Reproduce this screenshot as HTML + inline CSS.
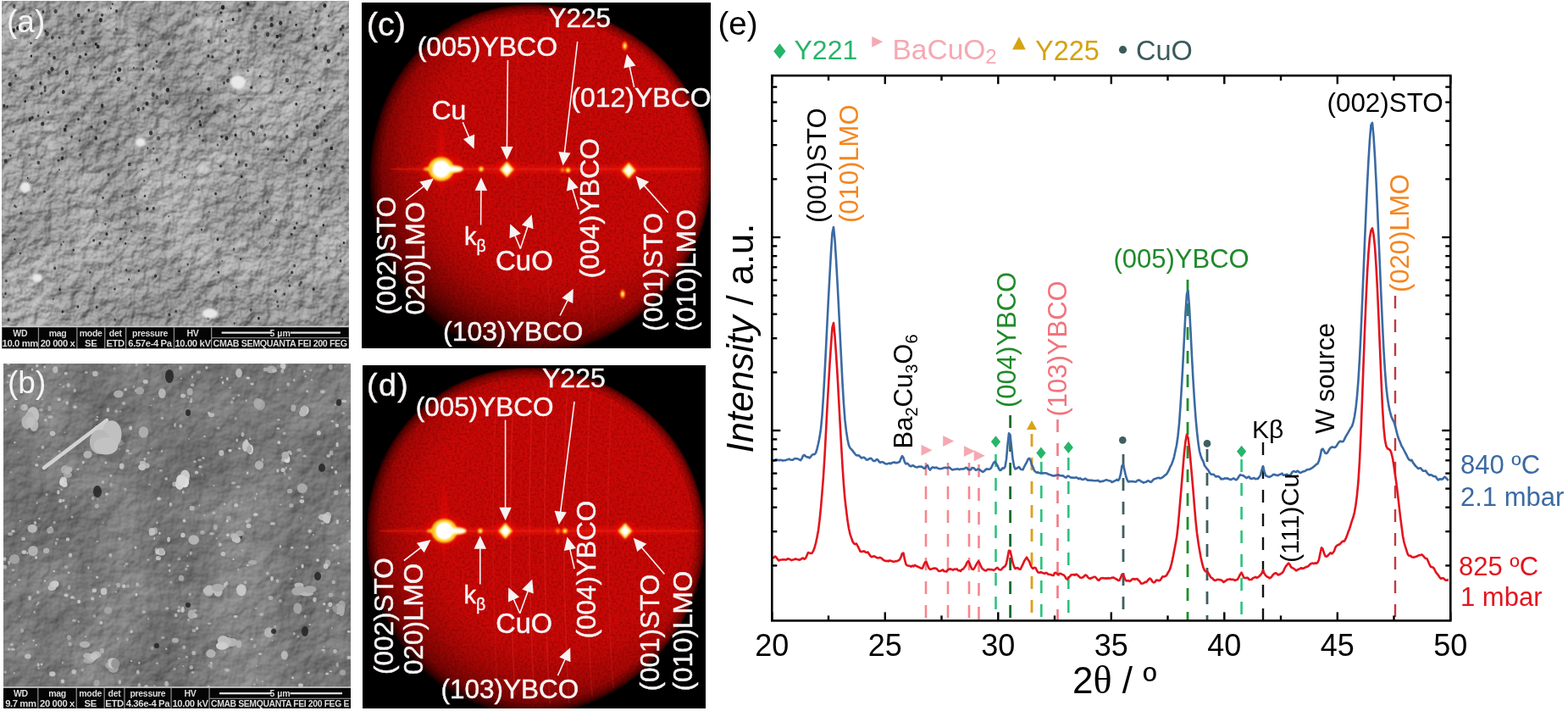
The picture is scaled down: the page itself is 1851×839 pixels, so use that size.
<!DOCTYPE html>
<html><head><meta charset="utf-8"><title>Figure</title>
<style>
html,body{margin:0;padding:0;background:#fff;width:1851px;height:839px;overflow:hidden}
svg{display:block;font-family:'Liberation Sans', Arial, Helvetica, sans-serif}
</style></head><body>
<svg width="1851" height="839" viewBox="0 0 1851 839">
<rect width="1851" height="839" fill="#fff"/>
<defs>
<clipPath id="clipA"><rect x="2" y="1" width="410" height="386"/></clipPath>
<clipPath id="clipB"><rect x="4" y="429" width="410" height="383"/></clipPath>
<filter id="blur05" x="-50%" y="-50%" width="200%" height="200%"><feGaussianBlur stdDeviation="0.6"/></filter>
<filter id="blur1" x="-50%" y="-50%" width="200%" height="200%"><feGaussianBlur stdDeviation="1.3"/></filter>
<filter id="semTexA" x="0" y="0" width="100%" height="100%" color-interpolation-filters="sRGB">
  <feTurbulence type="fractalNoise" baseFrequency="0.07" numOctaves="3" seed="4" result="n"/>
  <feDiffuseLighting in="n" surfaceScale="4.5" diffuseConstant="1" lighting-color="#ffffff" result="l"><feDistantLight azimuth="235" elevation="50"/></feDiffuseLighting>
  <feColorMatrix in="l" type="matrix" values="0.5 0 0 0 0.24  0.5 0 0 0 0.24  0.5 0 0 0 0.24  0 0 0 0 1"/>
</filter>
<filter id="semLowA" x="0" y="0" width="100%" height="100%" color-interpolation-filters="sRGB">
  <feTurbulence type="fractalNoise" baseFrequency="0.012" numOctaves="2" seed="21"/>
  <feColorMatrix type="matrix" values="2.2 0 0 0 -0.51  2.2 0 0 0 -0.51  2.2 0 0 0 -0.51  0 0 0 0 1"/>
</filter>
<filter id="semLowB" x="0" y="0" width="100%" height="100%" color-interpolation-filters="sRGB">
  <feTurbulence type="fractalNoise" baseFrequency="0.012" numOctaves="2" seed="33"/>
  <feColorMatrix type="matrix" values="2.2 0 0 0 -0.62  2.2 0 0 0 -0.62  2.2 0 0 0 -0.62  0 0 0 0 1"/>
</filter>
<filter id="semTexB" x="0" y="0" width="100%" height="100%" color-interpolation-filters="sRGB">
  <feTurbulence type="fractalNoise" baseFrequency="0.06" numOctaves="3" seed="9" result="n"/>
  <feDiffuseLighting in="n" surfaceScale="2.5" diffuseConstant="1" lighting-color="#ffffff" result="l"><feDistantLight azimuth="235" elevation="50"/></feDiffuseLighting>
  <feColorMatrix in="l" type="matrix" values="0.4 0 0 0 0.176  0.4 0 0 0 0.176  0.4 0 0 0 0.176  0 0 0 0 1"/>
</filter>

<radialGradient id="diskGrad" cx="0.56" cy="0.44" r="0.6" fx="0.6" fy="0.4">
  <stop offset="0.000" stop-color="rgb(212,8,6)"/>
  <stop offset="0.500" stop-color="rgb(212,8,6)"/>
  <stop offset="0.600" stop-color="rgb(212,8,6)"/>
  <stop offset="0.650" stop-color="rgb(207,8,6)"/>
  <stop offset="0.700" stop-color="rgb(201,8,6)"/>
  <stop offset="0.750" stop-color="rgb(190,7,5)"/>
  <stop offset="0.800" stop-color="rgb(178,7,5)"/>
  <stop offset="0.850" stop-color="rgb(157,6,4)"/>
  <stop offset="0.900" stop-color="rgb(136,5,4)"/>
  <stop offset="0.950" stop-color="rgb(106,4,3)"/>
  <stop offset="1.000" stop-color="rgb(68,3,2)"/>
</radialGradient>
<radialGradient id="edgeFade"><stop offset="0.965" stop-color="#fff"/><stop offset="1" stop-color="#000"/></radialGradient>
<filter id="diskBlur" x="-10%" y="-10%" width="120%" height="120%"><feGaussianBlur stdDeviation="2.5"/></filter>
<filter id="blur2" x="-20%" y="-300%" width="140%" height="700%"><feGaussianBlur stdDeviation="2.5"/></filter>
<filter id="diskTex" x="0" y="0" width="100%" height="100%" color-interpolation-filters="sRGB">
  <feTurbulence type="fractalNoise" baseFrequency="0.35" numOctaves="2" seed="3"/>
  <feColorMatrix type="matrix" values="0 0 0 0 0  0 0 0 0 0  0 0 0 0 0  1.6 0 0 0 -0.62"/>
  <feComposite in2="SourceGraphic" operator="in"/>
</filter>
<radialGradient id="spotBig"><stop offset="0" stop-color="#fff"/><stop offset="0.38" stop-color="#fffbe0"/><stop offset="0.55" stop-color="#ffd040"/><stop offset="0.75" stop-color="#ff7a10" stop-opacity="0.7"/><stop offset="1" stop-color="#ff3000" stop-opacity="0"/></radialGradient>
<radialGradient id="spotMed"><stop offset="0" stop-color="#fff"/><stop offset="0.4" stop-color="#fff3c0"/><stop offset="0.6" stop-color="#ffb030"/><stop offset="0.8" stop-color="#ff5010" stop-opacity="0.6"/><stop offset="1" stop-color="#ff2000" stop-opacity="0"/></radialGradient>
<radialGradient id="spotSmall"><stop offset="0" stop-color="#fff2a0"/><stop offset="0.35" stop-color="#ffb020"/><stop offset="0.7" stop-color="#ff5000" stop-opacity="0.6"/><stop offset="1" stop-color="#ff2000" stop-opacity="0"/></radialGradient>
<radialGradient id="spotFaint"><stop offset="0" stop-color="#ff8a20"/><stop offset="0.5" stop-color="#ff5000" stop-opacity="0.6"/><stop offset="1" stop-color="#ff2000" stop-opacity="0"/></radialGradient>
<filter id="blurS" x="-50%" y="-50%" width="200%" height="200%"><feGaussianBlur stdDeviation="1.1"/></filter>
<radialGradient id="glowRed"><stop offset="0" stop-color="#ff1000" stop-opacity="0.9"/><stop offset="0.6" stop-color="#ff0800" stop-opacity="0.45"/><stop offset="1" stop-color="#ff0000" stop-opacity="0"/></radialGradient>
<radialGradient id="glowOr"><stop offset="0" stop-color="#ffb040"/><stop offset="0.5" stop-color="#ff6010" stop-opacity="0.6"/><stop offset="1" stop-color="#ff3000" stop-opacity="0"/></radialGradient>
</defs>
<g clip-path="url(#clipA)">
<rect x="2" y="1" width="410" height="411" fill="#959595"/>
<rect x="2" y="1" width="410" height="411" filter="url(#semTexA)"/>
<ellipse cx="54.7" cy="192.7" rx="5.0" ry="1.6" fill="#d8d8d8" opacity="0.30" filter="url(#blur1)"/>
<ellipse cx="382.6" cy="28.0" rx="2.6" ry="4.8" fill="#d8d8d8" opacity="0.47" filter="url(#blur1)"/>
<ellipse cx="153.3" cy="197.4" rx="5.3" ry="2.5" fill="#d8d8d8" opacity="0.30" filter="url(#blur1)"/>
<ellipse cx="325.1" cy="258.4" rx="4.6" ry="4.4" fill="#d8d8d8" opacity="0.44" filter="url(#blur1)"/>
<ellipse cx="404.2" cy="79.5" rx="4.8" ry="3.2" fill="#d8d8d8" opacity="0.37" filter="url(#blur1)"/>
<ellipse cx="244.6" cy="91.4" rx="6.0" ry="4.5" fill="#d8d8d8" opacity="0.30" filter="url(#blur1)"/>
<ellipse cx="193.5" cy="107.4" rx="2.4" ry="4.6" fill="#d8d8d8" opacity="0.40" filter="url(#blur1)"/>
<ellipse cx="62.6" cy="259.6" rx="3.0" ry="4.7" fill="#d8d8d8" opacity="0.33" filter="url(#blur1)"/>
<ellipse cx="15.6" cy="78.1" rx="3.7" ry="3.1" fill="#d8d8d8" opacity="0.57" filter="url(#blur1)"/>
<ellipse cx="287.9" cy="131.3" rx="2.1" ry="2.1" fill="#d8d8d8" opacity="0.60" filter="url(#blur1)"/>
<ellipse cx="190.5" cy="266.4" rx="2.3" ry="1.6" fill="#d8d8d8" opacity="0.55" filter="url(#blur1)"/>
<ellipse cx="243.0" cy="119.5" rx="3.6" ry="1.8" fill="#d8d8d8" opacity="0.31" filter="url(#blur1)"/>
<ellipse cx="12.1" cy="323.2" rx="4.3" ry="1.9" fill="#d8d8d8" opacity="0.51" filter="url(#blur1)"/>
<ellipse cx="82.2" cy="24.8" rx="5.0" ry="4.6" fill="#d8d8d8" opacity="0.26" filter="url(#blur1)"/>
<ellipse cx="332.1" cy="74.0" rx="2.5" ry="1.6" fill="#d8d8d8" opacity="0.35" filter="url(#blur1)"/>
<ellipse cx="300.1" cy="190.4" rx="6.3" ry="2.3" fill="#d8d8d8" opacity="0.36" filter="url(#blur1)"/>
<ellipse cx="107.8" cy="376.7" rx="6.7" ry="2.7" fill="#d8d8d8" opacity="0.40" filter="url(#blur1)"/>
<ellipse cx="130.9" cy="287.7" rx="2.2" ry="1.7" fill="#d8d8d8" opacity="0.39" filter="url(#blur1)"/>
<ellipse cx="102.5" cy="325.6" rx="5.7" ry="3.4" fill="#d8d8d8" opacity="0.48" filter="url(#blur1)"/>
<ellipse cx="285.8" cy="300.9" rx="6.6" ry="2.0" fill="#d8d8d8" opacity="0.47" filter="url(#blur1)"/>
<ellipse cx="60.9" cy="171.2" rx="5.9" ry="4.6" fill="#d8d8d8" opacity="0.52" filter="url(#blur1)"/>
<ellipse cx="16.5" cy="139.0" rx="2.8" ry="5.0" fill="#d8d8d8" opacity="0.30" filter="url(#blur1)"/>
<ellipse cx="102.2" cy="138.2" rx="2.3" ry="4.5" fill="#d8d8d8" opacity="0.47" filter="url(#blur1)"/>
<ellipse cx="67.5" cy="192.3" rx="2.4" ry="3.6" fill="#d8d8d8" opacity="0.33" filter="url(#blur1)"/>
<ellipse cx="17.8" cy="45.3" rx="4.8" ry="3.7" fill="#d8d8d8" opacity="0.36" filter="url(#blur1)"/>
<ellipse cx="265.8" cy="136.2" rx="2.7" ry="2.6" fill="#d8d8d8" opacity="0.39" filter="url(#blur1)"/>
<ellipse cx="376.2" cy="45.4" rx="2.4" ry="3.5" fill="#d8d8d8" opacity="0.59" filter="url(#blur1)"/>
<ellipse cx="374.0" cy="269.9" rx="2.3" ry="4.3" fill="#d8d8d8" opacity="0.49" filter="url(#blur1)"/>
<ellipse cx="61.0" cy="179.5" rx="2.2" ry="4.3" fill="#d8d8d8" opacity="0.50" filter="url(#blur1)"/>
<ellipse cx="331.9" cy="293.0" rx="3.3" ry="4.3" fill="#d8d8d8" opacity="0.34" filter="url(#blur1)"/>
<ellipse cx="58.5" cy="150.9" rx="4.5" ry="2.5" fill="#d8d8d8" opacity="0.46" filter="url(#blur1)"/>
<ellipse cx="249.0" cy="93.1" rx="5.1" ry="2.8" fill="#d8d8d8" opacity="0.51" filter="url(#blur1)"/>
<ellipse cx="121.1" cy="307.7" rx="4.1" ry="3.4" fill="#d8d8d8" opacity="0.49" filter="url(#blur1)"/>
<ellipse cx="214.5" cy="99.9" rx="6.9" ry="1.8" fill="#d8d8d8" opacity="0.36" filter="url(#blur1)"/>
<ellipse cx="227.1" cy="12.0" rx="2.8" ry="4.3" fill="#d8d8d8" opacity="0.52" filter="url(#blur1)"/>
<ellipse cx="263.2" cy="347.3" rx="5.8" ry="2.5" fill="#d8d8d8" opacity="0.48" filter="url(#blur1)"/>
<ellipse cx="141.4" cy="288.9" rx="3.9" ry="2.0" fill="#d8d8d8" opacity="0.56" filter="url(#blur1)"/>
<ellipse cx="285.1" cy="287.0" rx="4.8" ry="4.2" fill="#d8d8d8" opacity="0.41" filter="url(#blur1)"/>
<ellipse cx="234.0" cy="25.0" rx="4.8" ry="4.4" fill="#d8d8d8" opacity="0.50" filter="url(#blur1)"/>
<ellipse cx="331.3" cy="191.5" rx="6.4" ry="1.9" fill="#d8d8d8" opacity="0.56" filter="url(#blur1)"/>
<ellipse cx="154.2" cy="35.9" rx="5.1" ry="3.1" fill="#d8d8d8" opacity="0.40" filter="url(#blur1)"/>
<ellipse cx="351.3" cy="53.9" rx="5.1" ry="2.9" fill="#d8d8d8" opacity="0.43" filter="url(#blur1)"/>
<ellipse cx="206.8" cy="52.5" rx="4.6" ry="4.5" fill="#d8d8d8" opacity="0.31" filter="url(#blur1)"/>
<ellipse cx="6.7" cy="26.9" rx="4.3" ry="4.9" fill="#d8d8d8" opacity="0.27" filter="url(#blur1)"/>
<ellipse cx="408.3" cy="206.8" rx="2.6" ry="3.0" fill="#d8d8d8" opacity="0.32" filter="url(#blur1)"/>
<ellipse cx="294.8" cy="208.9" rx="3.4" ry="2.4" fill="#d8d8d8" opacity="0.55" filter="url(#blur1)"/>
<ellipse cx="316.2" cy="168.5" rx="4.0" ry="4.1" fill="#d8d8d8" opacity="0.59" filter="url(#blur1)"/>
<ellipse cx="34.6" cy="62.1" rx="3.8" ry="3.3" fill="#d8d8d8" opacity="0.27" filter="url(#blur1)"/>
<ellipse cx="23.9" cy="85.3" rx="3.9" ry="4.1" fill="#d8d8d8" opacity="0.46" filter="url(#blur1)"/>
<ellipse cx="14.0" cy="18.3" rx="4.3" ry="4.6" fill="#d8d8d8" opacity="0.57" filter="url(#blur1)"/>
<ellipse cx="151.7" cy="341.8" rx="6.6" ry="2.9" fill="#d8d8d8" opacity="0.51" filter="url(#blur1)"/>
<ellipse cx="151.8" cy="60.0" rx="4.9" ry="1.8" fill="#d8d8d8" opacity="0.48" filter="url(#blur1)"/>
<ellipse cx="333.8" cy="352.5" rx="4.2" ry="1.9" fill="#d8d8d8" opacity="0.57" filter="url(#blur1)"/>
<ellipse cx="358.9" cy="372.6" rx="5.0" ry="3.9" fill="#d8d8d8" opacity="0.38" filter="url(#blur1)"/>
<ellipse cx="77.1" cy="113.0" rx="5.6" ry="2.6" fill="#d8d8d8" opacity="0.49" filter="url(#blur1)"/>
<ellipse cx="207.9" cy="173.4" rx="6.8" ry="2.1" fill="#d8d8d8" opacity="0.42" filter="url(#blur1)"/>
<ellipse cx="67.5" cy="361.0" rx="4.4" ry="2.7" fill="#d8d8d8" opacity="0.31" filter="url(#blur1)"/>
<ellipse cx="245.6" cy="154.2" rx="2.6" ry="1.6" fill="#d8d8d8" opacity="0.39" filter="url(#blur1)"/>
<ellipse cx="241.1" cy="200.2" rx="6.5" ry="4.7" fill="#d8d8d8" opacity="0.58" filter="url(#blur1)"/>
<ellipse cx="329.9" cy="184.4" rx="4.6" ry="2.9" fill="#d8d8d8" opacity="0.39" filter="url(#blur1)"/>
<ellipse cx="19.0" cy="307.7" rx="3.2" ry="1.6" fill="#d8d8d8" opacity="0.41" filter="url(#blur1)"/>
<ellipse cx="296.3" cy="168.4" rx="3.8" ry="3.8" fill="#d8d8d8" opacity="0.31" filter="url(#blur1)"/>
<ellipse cx="6.6" cy="228.5" rx="4.7" ry="4.5" fill="#d8d8d8" opacity="0.40" filter="url(#blur1)"/>
<ellipse cx="324.3" cy="7.9" rx="2.1" ry="3.6" fill="#d8d8d8" opacity="0.33" filter="url(#blur1)"/>
<ellipse cx="29.6" cy="50.1" rx="3.9" ry="2.7" fill="#d8d8d8" opacity="0.45" filter="url(#blur1)"/>
<ellipse cx="365.9" cy="141.4" rx="2.9" ry="3.5" fill="#d8d8d8" opacity="0.25" filter="url(#blur1)"/>
<ellipse cx="159.8" cy="122.8" rx="3.9" ry="1.7" fill="#d8d8d8" opacity="0.44" filter="url(#blur1)"/>
<ellipse cx="257.9" cy="288.8" rx="6.8" ry="2.7" fill="#d8d8d8" opacity="0.48" filter="url(#blur1)"/>
<ellipse cx="183.2" cy="83.6" rx="6.4" ry="4.1" fill="#d8d8d8" opacity="0.58" filter="url(#blur1)"/>
<ellipse cx="338.8" cy="353.3" rx="2.6" ry="1.6" fill="#d8d8d8" opacity="0.32" filter="url(#blur1)"/>
<rect x="2" y="1" width="410" height="411" filter="url(#semLowA)" opacity="0.13"/>
<ellipse cx="171.3" cy="280.8" rx="1.2" ry="1.5" fill="#1a1a1a" opacity="0.87"/>
<ellipse cx="32.7" cy="209.9" rx="0.9" ry="1.2" fill="#1a1a1a" opacity="0.85"/>
<ellipse cx="281.3" cy="61.3" rx="2.0" ry="2.5" fill="#1a1a1a" opacity="0.70"/>
<ellipse cx="16.7" cy="7.2" rx="1.9" ry="2.5" fill="#1a1a1a" opacity="0.64"/>
<ellipse cx="399.4" cy="63.6" rx="1.7" ry="2.1" fill="#1a1a1a" opacity="0.71"/>
<ellipse cx="158.0" cy="80.0" rx="1.0" ry="1.3" fill="#1a1a1a" opacity="0.68"/>
<ellipse cx="373.2" cy="56.6" rx="1.8" ry="2.3" fill="#1a1a1a" opacity="0.91"/>
<ellipse cx="124.1" cy="144.5" rx="1.9" ry="2.4" fill="#1a1a1a" opacity="0.81"/>
<ellipse cx="76.7" cy="153.1" rx="1.8" ry="2.3" fill="#1a1a1a" opacity="0.91"/>
<ellipse cx="320.6" cy="29.4" rx="2.0" ry="2.6" fill="#1a1a1a" opacity="0.84"/>
<ellipse cx="238.0" cy="271.1" rx="1.0" ry="1.3" fill="#1a1a1a" opacity="0.80"/>
<ellipse cx="200.0" cy="371.4" rx="1.5" ry="1.9" fill="#1a1a1a" opacity="0.74"/>
<ellipse cx="155.2" cy="272.8" rx="1.4" ry="1.8" fill="#1a1a1a" opacity="0.63"/>
<ellipse cx="187.1" cy="163.1" rx="2.0" ry="2.6" fill="#1a1a1a" opacity="0.65"/>
<ellipse cx="254.6" cy="228.6" rx="1.5" ry="1.9" fill="#1a1a1a" opacity="0.79"/>
<ellipse cx="394.5" cy="106.9" rx="1.4" ry="1.7" fill="#1a1a1a" opacity="0.82"/>
<ellipse cx="250.9" cy="67.3" rx="1.6" ry="2.0" fill="#1a1a1a" opacity="0.73"/>
<ellipse cx="365.7" cy="97.1" rx="1.3" ry="1.7" fill="#1a1a1a" opacity="0.69"/>
<ellipse cx="391.3" cy="174.9" rx="1.7" ry="2.2" fill="#1a1a1a" opacity="0.94"/>
<ellipse cx="70.6" cy="341.6" rx="1.2" ry="1.6" fill="#1a1a1a" opacity="0.85"/>
<ellipse cx="297.3" cy="128.6" rx="1.3" ry="1.6" fill="#1a1a1a" opacity="0.61"/>
<ellipse cx="278.7" cy="182.3" rx="1.3" ry="1.7" fill="#1a1a1a" opacity="0.89"/>
<ellipse cx="404.4" cy="376.5" rx="0.9" ry="1.1" fill="#1a1a1a" opacity="0.66"/>
<ellipse cx="96.7" cy="25.8" rx="1.2" ry="1.5" fill="#1a1a1a" opacity="0.61"/>
<ellipse cx="382.9" cy="127.0" rx="1.5" ry="1.9" fill="#1a1a1a" opacity="0.86"/>
<ellipse cx="331.3" cy="109.0" rx="1.1" ry="1.4" fill="#1a1a1a" opacity="0.70"/>
<ellipse cx="94.4" cy="67.2" rx="1.7" ry="2.1" fill="#1a1a1a" opacity="0.72"/>
<ellipse cx="136.7" cy="203.2" rx="0.7" ry="0.9" fill="#1a1a1a" opacity="0.62"/>
<ellipse cx="355.4" cy="333.5" rx="1.6" ry="2.0" fill="#1a1a1a" opacity="0.68"/>
<ellipse cx="377.5" cy="105.7" rx="1.8" ry="2.3" fill="#1a1a1a" opacity="0.88"/>
<ellipse cx="104.7" cy="12.0" rx="1.3" ry="1.7" fill="#1a1a1a" opacity="0.94"/>
<ellipse cx="371.5" cy="158.7" rx="2.0" ry="2.6" fill="#1a1a1a" opacity="0.72"/>
<ellipse cx="402.1" cy="34.5" rx="1.6" ry="2.1" fill="#1a1a1a" opacity="0.81"/>
<ellipse cx="285.3" cy="208.5" rx="1.3" ry="1.7" fill="#1a1a1a" opacity="0.92"/>
<ellipse cx="276.1" cy="294.1" rx="1.4" ry="1.9" fill="#1a1a1a" opacity="0.65"/>
<ellipse cx="367.6" cy="176.6" rx="1.4" ry="1.7" fill="#1a1a1a" opacity="0.82"/>
<ellipse cx="347.7" cy="313.8" rx="1.6" ry="2.0" fill="#1a1a1a" opacity="0.63"/>
<ellipse cx="45.4" cy="192.0" rx="1.8" ry="2.3" fill="#1a1a1a" opacity="0.71"/>
<ellipse cx="47.7" cy="98.1" rx="1.5" ry="2.0" fill="#1a1a1a" opacity="0.82"/>
<ellipse cx="114.8" cy="253.5" rx="0.8" ry="1.0" fill="#1a1a1a" opacity="0.72"/>
<ellipse cx="383.9" cy="58.0" rx="2.1" ry="2.7" fill="#1a1a1a" opacity="0.72"/>
<ellipse cx="346.3" cy="178.9" rx="1.3" ry="1.6" fill="#1a1a1a" opacity="0.66"/>
<ellipse cx="305.4" cy="375.6" rx="1.4" ry="1.8" fill="#1a1a1a" opacity="0.92"/>
<ellipse cx="404.7" cy="31.6" rx="2.0" ry="2.5" fill="#1a1a1a" opacity="0.74"/>
<ellipse cx="130.9" cy="9.9" rx="1.0" ry="1.3" fill="#1a1a1a" opacity="0.69"/>
<ellipse cx="245.9" cy="375.2" rx="1.5" ry="1.9" fill="#1a1a1a" opacity="0.93"/>
<ellipse cx="262.4" cy="307.9" rx="0.8" ry="1.0" fill="#1a1a1a" opacity="0.62"/>
<ellipse cx="312.6" cy="159.4" rx="1.5" ry="2.0" fill="#1a1a1a" opacity="0.60"/>
<ellipse cx="232.0" cy="17.6" rx="1.3" ry="1.7" fill="#1a1a1a" opacity="0.71"/>
<ellipse cx="144.3" cy="231.4" rx="1.1" ry="1.4" fill="#1a1a1a" opacity="0.81"/>
<ellipse cx="388.2" cy="18.7" rx="1.2" ry="1.6" fill="#1a1a1a" opacity="0.68"/>
<ellipse cx="70.1" cy="44.5" rx="1.3" ry="1.6" fill="#1a1a1a" opacity="0.77"/>
<ellipse cx="267.0" cy="36.3" rx="1.1" ry="1.4" fill="#1a1a1a" opacity="0.69"/>
<ellipse cx="73.4" cy="175.5" rx="1.8" ry="2.3" fill="#1a1a1a" opacity="0.67"/>
<ellipse cx="18.5" cy="89.3" rx="1.4" ry="1.8" fill="#1a1a1a" opacity="0.84"/>
<ellipse cx="38.1" cy="138.8" rx="1.7" ry="2.1" fill="#1a1a1a" opacity="0.78"/>
<ellipse cx="370.1" cy="41.7" rx="1.7" ry="2.1" fill="#1a1a1a" opacity="0.80"/>
<ellipse cx="401.9" cy="307.9" rx="1.4" ry="1.8" fill="#1a1a1a" opacity="0.84"/>
<ellipse cx="58.0" cy="63.5" rx="1.4" ry="1.8" fill="#1a1a1a" opacity="0.65"/>
<ellipse cx="7.4" cy="331.5" rx="1.4" ry="1.8" fill="#1a1a1a" opacity="0.70"/>
<ellipse cx="173.5" cy="122.2" rx="2.0" ry="2.5" fill="#1a1a1a" opacity="0.87"/>
<ellipse cx="383.1" cy="141.9" rx="1.1" ry="1.5" fill="#1a1a1a" opacity="0.79"/>
<ellipse cx="48.8" cy="110.3" rx="1.4" ry="1.8" fill="#1a1a1a" opacity="0.72"/>
<ellipse cx="292.7" cy="83.7" rx="1.1" ry="1.4" fill="#1a1a1a" opacity="0.70"/>
<ellipse cx="347.9" cy="268.9" rx="1.5" ry="1.9" fill="#1a1a1a" opacity="0.91"/>
<ellipse cx="92.5" cy="140.8" rx="1.3" ry="1.7" fill="#1a1a1a" opacity="0.93"/>
<ellipse cx="152.2" cy="329.7" rx="0.9" ry="1.2" fill="#1a1a1a" opacity="0.90"/>
<ellipse cx="137.5" cy="12.9" rx="1.5" ry="1.9" fill="#1a1a1a" opacity="0.82"/>
<ellipse cx="114.2" cy="249.7" rx="1.5" ry="1.9" fill="#1a1a1a" opacity="0.61"/>
<ellipse cx="110.6" cy="91.6" rx="1.4" ry="1.8" fill="#1a1a1a" opacity="0.74"/>
<ellipse cx="349.7" cy="122.9" rx="1.4" ry="1.8" fill="#1a1a1a" opacity="0.88"/>
<ellipse cx="207.7" cy="367.4" rx="1.3" ry="1.6" fill="#1a1a1a" opacity="0.75"/>
<ellipse cx="111.0" cy="340.2" rx="1.4" ry="1.8" fill="#1a1a1a" opacity="0.68"/>
<ellipse cx="181.3" cy="245.8" rx="1.5" ry="1.9" fill="#1a1a1a" opacity="0.79"/>
<ellipse cx="92.8" cy="18.1" rx="1.8" ry="2.3" fill="#1a1a1a" opacity="0.85"/>
<ellipse cx="15.8" cy="155.2" rx="1.2" ry="1.6" fill="#1a1a1a" opacity="0.79"/>
<ellipse cx="331.2" cy="27.2" rx="2.1" ry="2.6" fill="#1a1a1a" opacity="0.86"/>
<ellipse cx="233.4" cy="118.3" rx="1.4" ry="1.9" fill="#1a1a1a" opacity="0.64"/>
<ellipse cx="53.6" cy="36.7" rx="1.3" ry="1.6" fill="#1a1a1a" opacity="0.82"/>
<ellipse cx="239.5" cy="165.8" rx="1.1" ry="1.4" fill="#1a1a1a" opacity="0.74"/>
<ellipse cx="36.2" cy="18.6" rx="1.1" ry="1.4" fill="#1a1a1a" opacity="0.64"/>
<ellipse cx="162.3" cy="252.3" rx="1.4" ry="1.8" fill="#1a1a1a" opacity="0.68"/>
<ellipse cx="120.6" cy="17.8" rx="1.5" ry="1.9" fill="#1a1a1a" opacity="0.80"/>
<ellipse cx="338.8" cy="161.4" rx="1.7" ry="2.1" fill="#1a1a1a" opacity="0.80"/>
<ellipse cx="24.7" cy="251.5" rx="1.2" ry="1.5" fill="#1a1a1a" opacity="0.79"/>
<ellipse cx="373.5" cy="199.3" rx="1.3" ry="1.6" fill="#1a1a1a" opacity="0.83"/>
<ellipse cx="238.2" cy="127.3" rx="1.6" ry="2.1" fill="#1a1a1a" opacity="0.72"/>
<ellipse cx="264.5" cy="97.8" rx="1.5" ry="1.9" fill="#1a1a1a" opacity="0.67"/>
<ellipse cx="234.6" cy="223.8" rx="1.0" ry="1.3" fill="#1a1a1a" opacity="0.62"/>
<ellipse cx="246.4" cy="48.4" rx="1.5" ry="1.9" fill="#1a1a1a" opacity="0.76"/>
<ellipse cx="17.4" cy="242.9" rx="1.3" ry="1.6" fill="#1a1a1a" opacity="0.68"/>
<ellipse cx="245.9" cy="66.1" rx="1.5" ry="2.0" fill="#1a1a1a" opacity="0.81"/>
<ellipse cx="246.9" cy="249.9" rx="0.8" ry="1.0" fill="#1a1a1a" opacity="0.69"/>
<ellipse cx="136.6" cy="85.0" rx="1.4" ry="1.7" fill="#1a1a1a" opacity="0.63"/>
<ellipse cx="246.2" cy="105.3" rx="1.8" ry="2.3" fill="#1a1a1a" opacity="0.82"/>
<ellipse cx="68.8" cy="189.3" rx="1.1" ry="1.4" fill="#1a1a1a" opacity="0.84"/>
<ellipse cx="181.2" cy="81.0" rx="1.1" ry="1.5" fill="#1a1a1a" opacity="0.80"/>
<ellipse cx="6.5" cy="346.4" rx="1.1" ry="1.3" fill="#1a1a1a" opacity="0.79"/>
<ellipse cx="218.2" cy="209.0" rx="1.0" ry="1.3" fill="#1a1a1a" opacity="0.74"/>
<ellipse cx="323.7" cy="278.1" rx="0.7" ry="0.9" fill="#1a1a1a" opacity="0.83"/>
<ellipse cx="169.1" cy="127.9" rx="1.5" ry="1.9" fill="#1a1a1a" opacity="0.71"/>
<ellipse cx="113.3" cy="52.0" rx="1.5" ry="1.9" fill="#1a1a1a" opacity="0.93"/>
<ellipse cx="198.0" cy="106.2" rx="2.1" ry="2.6" fill="#1a1a1a" opacity="0.90"/>
<ellipse cx="279.0" cy="338.7" rx="1.3" ry="1.7" fill="#1a1a1a" opacity="0.75"/>
<ellipse cx="64.7" cy="316.4" rx="1.6" ry="2.0" fill="#1a1a1a" opacity="0.71"/>
<ellipse cx="360.0" cy="190.4" rx="2.2" ry="2.8" fill="#1a1a1a" opacity="0.62"/>
<ellipse cx="135.8" cy="377.2" rx="1.3" ry="1.7" fill="#1a1a1a" opacity="0.65"/>
<ellipse cx="6.7" cy="190.0" rx="1.9" ry="2.5" fill="#1a1a1a" opacity="0.75"/>
<ellipse cx="313.1" cy="255.6" rx="1.5" ry="1.9" fill="#1a1a1a" opacity="0.69"/>
<ellipse cx="137.5" cy="34.7" rx="1.6" ry="2.1" fill="#1a1a1a" opacity="0.61"/>
<ellipse cx="225.6" cy="151.3" rx="1.1" ry="1.5" fill="#1a1a1a" opacity="0.67"/>
<ellipse cx="113.2" cy="163.1" rx="1.9" ry="2.4" fill="#1a1a1a" opacity="0.86"/>
<ellipse cx="280.8" cy="70.8" rx="1.2" ry="1.5" fill="#1a1a1a" opacity="0.90"/>
<ellipse cx="170.1" cy="213.4" rx="1.0" ry="1.3" fill="#1a1a1a" opacity="0.64"/>
<ellipse cx="147.9" cy="263.1" rx="1.3" ry="1.7" fill="#1a1a1a" opacity="0.64"/>
<ellipse cx="160.3" cy="103.8" rx="1.3" ry="1.6" fill="#1a1a1a" opacity="0.84"/>
<ellipse cx="362.2" cy="206.6" rx="1.2" ry="1.5" fill="#1a1a1a" opacity="0.72"/>
<ellipse cx="236.6" cy="147.5" rx="1.5" ry="1.9" fill="#1a1a1a" opacity="0.93"/>
<ellipse cx="11.7" cy="99.4" rx="2.0" ry="2.5" fill="#1a1a1a" opacity="0.86"/>
<ellipse cx="77.9" cy="148.7" rx="1.5" ry="1.9" fill="#1a1a1a" opacity="0.69"/>
<ellipse cx="381.8" cy="265.7" rx="1.2" ry="1.6" fill="#1a1a1a" opacity="0.93"/>
<ellipse cx="91.9" cy="362.0" rx="1.4" ry="1.8" fill="#1a1a1a" opacity="0.84"/>
<ellipse cx="282.1" cy="118.3" rx="1.2" ry="1.6" fill="#1a1a1a" opacity="0.80"/>
<ellipse cx="277.2" cy="137.5" rx="1.5" ry="1.9" fill="#1a1a1a" opacity="0.88"/>
<ellipse cx="296.7" cy="155.3" rx="1.3" ry="1.7" fill="#1a1a1a" opacity="0.63"/>
<ellipse cx="53.2" cy="106.9" rx="1.4" ry="1.8" fill="#1a1a1a" opacity="0.67"/>
<ellipse cx="316.3" cy="176.0" rx="1.3" ry="1.6" fill="#1a1a1a" opacity="0.84"/>
<ellipse cx="149.1" cy="318.6" rx="1.3" ry="1.7" fill="#1a1a1a" opacity="0.63"/>
<ellipse cx="309.1" cy="149.6" rx="2.0" ry="2.5" fill="#1a1a1a" opacity="0.64"/>
<ellipse cx="10.2" cy="377.3" rx="1.5" ry="2.0" fill="#1a1a1a" opacity="0.75"/>
<ellipse cx="342.5" cy="14.6" rx="1.7" ry="2.1" fill="#1a1a1a" opacity="0.78"/>
<ellipse cx="338.9" cy="94.6" rx="2.1" ry="2.7" fill="#1a1a1a" opacity="0.71"/>
<ellipse cx="168.2" cy="200.0" rx="0.9" ry="1.1" fill="#1a1a1a" opacity="0.84"/>
<ellipse cx="172.2" cy="53.8" rx="1.5" ry="2.0" fill="#1a1a1a" opacity="0.80"/>
<ellipse cx="163.3" cy="128.9" rx="2.0" ry="2.5" fill="#1a1a1a" opacity="0.80"/>
<ellipse cx="159.3" cy="232.4" rx="0.8" ry="1.0" fill="#1a1a1a" opacity="0.92"/>
<ellipse cx="111.9" cy="79.3" rx="1.4" ry="1.8" fill="#1a1a1a" opacity="0.72"/>
<ellipse cx="349.6" cy="29.3" rx="1.2" ry="1.6" fill="#1a1a1a" opacity="0.93"/>
<ellipse cx="178.1" cy="156.9" rx="2.1" ry="2.7" fill="#1a1a1a" opacity="0.78"/>
<ellipse cx="334.7" cy="72.4" rx="1.7" ry="2.1" fill="#1a1a1a" opacity="0.68"/>
<ellipse cx="115.7" cy="54.9" rx="2.0" ry="2.5" fill="#1a1a1a" opacity="0.88"/>
<ellipse cx="50.3" cy="146.0" rx="2.0" ry="2.6" fill="#1a1a1a" opacity="0.80"/>
<ellipse cx="299.0" cy="157.8" rx="2.0" ry="2.5" fill="#1a1a1a" opacity="0.74"/>
<ellipse cx="99.8" cy="127.7" rx="1.7" ry="2.2" fill="#1a1a1a" opacity="0.60"/>
<ellipse cx="215.2" cy="206.3" rx="0.8" ry="1.1" fill="#1a1a1a" opacity="0.62"/>
<ellipse cx="181.2" cy="175.3" rx="1.1" ry="1.4" fill="#1a1a1a" opacity="0.67"/>
<ellipse cx="384.8" cy="54.3" rx="1.5" ry="1.9" fill="#1a1a1a" opacity="0.60"/>
<ellipse cx="120.6" cy="124.8" rx="1.7" ry="2.2" fill="#1a1a1a" opacity="0.83"/>
<ellipse cx="253.5" cy="132.6" rx="1.7" ry="2.1" fill="#1a1a1a" opacity="0.68"/>
<ellipse cx="174.3" cy="174.9" rx="1.3" ry="1.7" fill="#1a1a1a" opacity="0.66"/>
<ellipse cx="327.4" cy="356.1" rx="1.3" ry="1.7" fill="#1a1a1a" opacity="0.75"/>
<ellipse cx="197.1" cy="121.0" rx="2.1" ry="2.7" fill="#1a1a1a" opacity="0.69"/>
<ellipse cx="316.0" cy="40.7" rx="2.1" ry="2.7" fill="#1a1a1a" opacity="0.69"/>
<ellipse cx="211.5" cy="320.1" rx="1.2" ry="1.5" fill="#1a1a1a" opacity="0.85"/>
<ellipse cx="401.2" cy="234.0" rx="0.8" ry="1.1" fill="#1a1a1a" opacity="0.70"/>
<ellipse cx="62.9" cy="352.7" rx="0.8" ry="1.1" fill="#1a1a1a" opacity="0.63"/>
<ellipse cx="135.4" cy="341.2" rx="1.1" ry="1.4" fill="#1a1a1a" opacity="0.82"/>
<ellipse cx="376.5" cy="222.4" rx="1.4" ry="1.7" fill="#1a1a1a" opacity="0.87"/>
<ellipse cx="372.4" cy="33.9" rx="1.5" ry="2.0" fill="#1a1a1a" opacity="0.73"/>
<ellipse cx="163.9" cy="319.6" rx="1.3" ry="1.7" fill="#1a1a1a" opacity="0.83"/>
<ellipse cx="61.5" cy="81.2" rx="2.0" ry="2.5" fill="#1a1a1a" opacity="0.83"/>
<ellipse cx="325.3" cy="343.7" rx="1.6" ry="2.1" fill="#1a1a1a" opacity="0.85"/>
<ellipse cx="353.8" cy="335.8" rx="1.5" ry="1.9" fill="#1a1a1a" opacity="0.63"/>
<ellipse cx="18.8" cy="244.3" rx="1.0" ry="1.3" fill="#1a1a1a" opacity="0.65"/>
<ellipse cx="261.6" cy="161.2" rx="1.3" ry="1.7" fill="#1a1a1a" opacity="0.86"/>
<ellipse cx="373.7" cy="278.3" rx="1.3" ry="1.6" fill="#1a1a1a" opacity="0.90"/>
<ellipse cx="292.8" cy="4.5" rx="2.0" ry="2.6" fill="#1a1a1a" opacity="0.82"/>
<ellipse cx="29.8" cy="119.6" rx="1.3" ry="1.7" fill="#1a1a1a" opacity="0.91"/>
<ellipse cx="101.3" cy="64.2" rx="1.4" ry="1.8" fill="#1a1a1a" opacity="0.91"/>
<ellipse cx="270.8" cy="80.9" rx="1.1" ry="1.4" fill="#1a1a1a" opacity="0.85"/>
<ellipse cx="351.1" cy="102.0" rx="1.3" ry="1.6" fill="#1a1a1a" opacity="0.70"/>
<ellipse cx="307.2" cy="251.8" rx="1.2" ry="1.5" fill="#1a1a1a" opacity="0.71"/>
<ellipse cx="29.2" cy="33.8" rx="1.8" ry="2.3" fill="#1a1a1a" opacity="0.86"/>
<ellipse cx="61.8" cy="44.3" rx="1.9" ry="2.4" fill="#1a1a1a" opacity="0.70"/>
<ellipse cx="284.0" cy="305.7" rx="0.9" ry="1.2" fill="#1a1a1a" opacity="0.89"/>
<ellipse cx="148.1" cy="287.4" rx="1.1" ry="1.4" fill="#1a1a1a" opacity="0.85"/>
<ellipse cx="142.4" cy="282.0" rx="1.4" ry="1.8" fill="#1a1a1a" opacity="0.84"/>
<ellipse cx="387.8" cy="72.1" rx="2.2" ry="2.8" fill="#1a1a1a" opacity="0.78"/>
<ellipse cx="173.9" cy="246.5" rx="1.6" ry="2.0" fill="#1a1a1a" opacity="0.86"/>
<ellipse cx="267.5" cy="163.2" rx="2.1" ry="2.6" fill="#1a1a1a" opacity="0.88"/>
<ellipse cx="374.4" cy="149.8" rx="2.0" ry="2.6" fill="#1a1a1a" opacity="0.77"/>
<ellipse cx="36.5" cy="51.0" rx="1.0" ry="1.3" fill="#1a1a1a" opacity="0.93"/>
<ellipse cx="341.9" cy="337.2" rx="1.3" ry="1.7" fill="#1a1a1a" opacity="0.76"/>
<ellipse cx="53.2" cy="103.2" rx="1.7" ry="2.1" fill="#1a1a1a" opacity="0.71"/>
<ellipse cx="55.7" cy="39.8" rx="2.1" ry="2.7" fill="#1a1a1a" opacity="0.68"/>
<ellipse cx="164.0" cy="53.0" rx="1.6" ry="2.0" fill="#1a1a1a" opacity="0.79"/>
<ellipse cx="23.9" cy="298.9" rx="0.9" ry="1.1" fill="#1a1a1a" opacity="0.94"/>
<ellipse cx="72.3" cy="288.8" rx="1.0" ry="1.2" fill="#1a1a1a" opacity="0.73"/>
<ellipse cx="199.4" cy="51.9" rx="1.5" ry="1.9" fill="#1a1a1a" opacity="0.75"/>
<ellipse cx="283.2" cy="12.0" rx="2.0" ry="2.5" fill="#1a1a1a" opacity="0.62"/>
<ellipse cx="260.4" cy="196.1" rx="1.2" ry="1.5" fill="#1a1a1a" opacity="0.91"/>
<ellipse cx="56.9" cy="132.5" rx="1.2" ry="1.5" fill="#1a1a1a" opacity="0.81"/>
<ellipse cx="278.1" cy="159.5" rx="1.5" ry="1.9" fill="#1a1a1a" opacity="0.94"/>
<ellipse cx="8.6" cy="125.8" rx="1.3" ry="1.6" fill="#1a1a1a" opacity="0.74"/>
<ellipse cx="373.0" cy="13.1" rx="1.2" ry="1.5" fill="#1a1a1a" opacity="0.79"/>
<ellipse cx="318.6" cy="286.8" rx="0.9" ry="1.2" fill="#1a1a1a" opacity="0.64"/>
<ellipse cx="94.6" cy="182.7" rx="1.5" ry="1.9" fill="#1a1a1a" opacity="0.64"/>
<ellipse cx="263.1" cy="8.8" rx="2.1" ry="2.7" fill="#1a1a1a" opacity="0.93"/>
<ellipse cx="110.6" cy="283.8" rx="1.3" ry="1.7" fill="#1a1a1a" opacity="0.83"/>
<ellipse cx="301.1" cy="32.0" rx="1.9" ry="2.5" fill="#1a1a1a" opacity="0.75"/>
<ellipse cx="183.5" cy="325.7" rx="1.6" ry="2.1" fill="#1a1a1a" opacity="0.74"/>
<ellipse cx="261.8" cy="25.3" rx="1.3" ry="1.6" fill="#1a1a1a" opacity="0.70"/>
<ellipse cx="185.2" cy="188.4" rx="1.5" ry="1.9" fill="#1a1a1a" opacity="0.73"/>
<ellipse cx="370.2" cy="341.2" rx="1.5" ry="2.0" fill="#1a1a1a" opacity="0.86"/>
<ellipse cx="128.1" cy="205.9" rx="1.5" ry="2.0" fill="#1a1a1a" opacity="0.75"/>
<ellipse cx="141.1" cy="82.2" rx="2.0" ry="2.6" fill="#1a1a1a" opacity="0.88"/>
<ellipse cx="307.1" cy="90.1" rx="1.1" ry="1.4" fill="#1a1a1a" opacity="0.86"/>
<ellipse cx="21.1" cy="32.9" rx="2.0" ry="2.5" fill="#1a1a1a" opacity="0.92"/>
<ellipse cx="121.5" cy="233.4" rx="1.4" ry="1.7" fill="#1a1a1a" opacity="0.69"/>
<ellipse cx="184.9" cy="72.5" rx="1.2" ry="1.6" fill="#1a1a1a" opacity="0.81"/>
<ellipse cx="326.3" cy="259.7" rx="1.0" ry="1.2" fill="#1a1a1a" opacity="0.63"/>
<ellipse cx="87.1" cy="52.4" rx="1.8" ry="2.4" fill="#1a1a1a" opacity="0.64"/>
<ellipse cx="266.4" cy="48.3" rx="1.6" ry="2.0" fill="#1a1a1a" opacity="0.75"/>
<ellipse cx="185.4" cy="114.8" rx="2.0" ry="2.6" fill="#1a1a1a" opacity="0.60"/>
<ellipse cx="36.9" cy="66.1" rx="1.3" ry="1.6" fill="#1a1a1a" opacity="0.95"/>
<ellipse cx="129.1" cy="313.3" rx="0.7" ry="1.0" fill="#1a1a1a" opacity="0.69"/>
<ellipse cx="34.7" cy="182.8" rx="1.1" ry="1.3" fill="#1a1a1a" opacity="0.61"/>
<ellipse cx="15.9" cy="35.9" rx="2.1" ry="2.7" fill="#1a1a1a" opacity="0.87"/>
<ellipse cx="385.3" cy="165.6" rx="1.8" ry="2.3" fill="#1a1a1a" opacity="0.70"/>
<ellipse cx="269.0" cy="94.9" rx="2.0" ry="2.5" fill="#1a1a1a" opacity="0.68"/>
<ellipse cx="75.0" cy="285.3" rx="0.9" ry="1.1" fill="#1a1a1a" opacity="0.71"/>
<ellipse cx="117.9" cy="287.0" rx="1.5" ry="2.0" fill="#1a1a1a" opacity="0.76"/>
<ellipse cx="385.4" cy="304.3" rx="1.4" ry="1.8" fill="#1a1a1a" opacity="0.70"/>
<ellipse cx="50.9" cy="13.9" rx="1.5" ry="2.0" fill="#1a1a1a" opacity="0.82"/>
<ellipse cx="315.6" cy="238.1" rx="1.5" ry="1.9" fill="#1a1a1a" opacity="0.77"/>
<ellipse cx="256.9" cy="170.9" rx="1.3" ry="1.7" fill="#1a1a1a" opacity="0.60"/>
<ellipse cx="340.7" cy="331.4" rx="0.8" ry="1.1" fill="#1a1a1a" opacity="0.67"/>
<ellipse cx="257.9" cy="321.3" rx="1.3" ry="1.6" fill="#1a1a1a" opacity="0.83"/>
<ellipse cx="64.0" cy="68.2" rx="1.9" ry="2.4" fill="#1a1a1a" opacity="0.78"/>
<ellipse cx="296.3" cy="365.7" rx="1.5" ry="1.9" fill="#1a1a1a" opacity="0.62"/>
<ellipse cx="275.1" cy="23.0" rx="1.5" ry="2.0" fill="#1a1a1a" opacity="0.90"/>
<ellipse cx="327.3" cy="43.1" rx="1.8" ry="2.3" fill="#1a1a1a" opacity="0.94"/>
<ellipse cx="35.3" cy="140.7" rx="1.7" ry="2.2" fill="#1a1a1a" opacity="0.88"/>
<ellipse cx="84.5" cy="161.6" rx="1.4" ry="1.8" fill="#1a1a1a" opacity="0.74"/>
<ellipse cx="17.3" cy="282.3" rx="1.1" ry="1.4" fill="#1a1a1a" opacity="0.83"/>
<ellipse cx="350.3" cy="263.3" rx="1.3" ry="1.6" fill="#1a1a1a" opacity="0.74"/>
<ellipse cx="344.6" cy="321.4" rx="1.5" ry="1.9" fill="#1a1a1a" opacity="0.78"/>
<ellipse cx="235.8" cy="143.2" rx="1.3" ry="1.7" fill="#1a1a1a" opacity="0.80"/>
<ellipse cx="4.8" cy="124.9" rx="1.7" ry="2.2" fill="#1a1a1a" opacity="0.80"/>
<ellipse cx="106.3" cy="321.3" rx="1.3" ry="1.6" fill="#1a1a1a" opacity="0.73"/>
<ellipse cx="65.7" cy="13.3" rx="2.1" ry="2.6" fill="#1a1a1a" opacity="0.72"/>
<ellipse cx="118.9" cy="23.6" rx="2.0" ry="2.6" fill="#1a1a1a" opacity="0.94"/>
<ellipse cx="338.2" cy="189.3" rx="1.4" ry="1.8" fill="#1a1a1a" opacity="0.76"/>
<ellipse cx="73.6" cy="186.7" rx="1.8" ry="2.3" fill="#1a1a1a" opacity="0.79"/>
<ellipse cx="221.6" cy="312.0" rx="1.1" ry="1.4" fill="#1a1a1a" opacity="0.78"/>
<ellipse cx="45.1" cy="136.6" rx="1.3" ry="1.6" fill="#1a1a1a" opacity="0.70"/>
<ellipse cx="330.8" cy="41.7" rx="1.9" ry="2.5" fill="#1a1a1a" opacity="0.64"/>
<ellipse cx="126.0" cy="276.2" rx="1.5" ry="1.9" fill="#1a1a1a" opacity="0.87"/>
<ellipse cx="12.1" cy="183.6" rx="1.4" ry="1.7" fill="#1a1a1a" opacity="0.74"/>
<ellipse cx="383.5" cy="195.4" rx="1.7" ry="2.2" fill="#1a1a1a" opacity="0.82"/>
<ellipse cx="4.3" cy="350.6" rx="1.1" ry="1.4" fill="#1a1a1a" opacity="0.63"/>
<ellipse cx="57.6" cy="85.2" rx="1.9" ry="2.5" fill="#1a1a1a" opacity="0.62"/>
<ellipse cx="168.7" cy="81.8" rx="1.6" ry="2.1" fill="#1a1a1a" opacity="0.79"/>
<ellipse cx="86.8" cy="295.1" rx="1.0" ry="1.3" fill="#1a1a1a" opacity="0.94"/>
<ellipse cx="290.6" cy="194.9" rx="1.7" ry="2.1" fill="#1a1a1a" opacity="0.72"/>
<ellipse cx="100.4" cy="51.3" rx="1.3" ry="1.7" fill="#1a1a1a" opacity="0.72"/>
<ellipse cx="405.1" cy="41.0" rx="1.4" ry="1.8" fill="#1a1a1a" opacity="0.75"/>
<ellipse cx="37.8" cy="103.6" rx="2.1" ry="2.6" fill="#1a1a1a" opacity="0.75"/>
<ellipse cx="283.6" cy="232.8" rx="1.2" ry="1.6" fill="#1a1a1a" opacity="0.76"/>
<ellipse cx="70.0" cy="200.2" rx="0.8" ry="1.0" fill="#1a1a1a" opacity="0.91"/>
<ellipse cx="152.8" cy="194.0" rx="1.8" ry="2.3" fill="#1a1a1a" opacity="0.74"/>
<ellipse cx="344.2" cy="276.6" rx="1.4" ry="1.7" fill="#1a1a1a" opacity="0.86"/>
<ellipse cx="73.9" cy="367.8" rx="1.3" ry="1.7" fill="#1a1a1a" opacity="0.88"/>
<ellipse cx="405.9" cy="286.5" rx="1.2" ry="1.6" fill="#1a1a1a" opacity="0.87"/>
<ellipse cx="260.7" cy="14.9" rx="1.3" ry="1.7" fill="#1a1a1a" opacity="0.89"/>
<ellipse cx="94.0" cy="166.0" rx="1.1" ry="1.5" fill="#1a1a1a" opacity="0.70"/>
<ellipse cx="108.1" cy="150.0" rx="1.4" ry="1.7" fill="#1a1a1a" opacity="0.74"/>
<ellipse cx="139.2" cy="170.3" rx="1.1" ry="1.5" fill="#1a1a1a" opacity="0.70"/>
<ellipse cx="296.7" cy="103.3" rx="1.4" ry="1.8" fill="#1a1a1a" opacity="0.80"/>
<ellipse cx="132.8" cy="4.8" rx="1.0" ry="1.3" fill="#1a1a1a" opacity="0.78"/>
<ellipse cx="335.7" cy="347.2" rx="1.2" ry="1.5" fill="#1a1a1a" opacity="0.83"/>
<ellipse cx="276.6" cy="381.5" rx="1.0" ry="1.3" fill="#1a1a1a" opacity="0.76"/>
<ellipse cx="320.3" cy="22.0" rx="2.0" ry="2.6" fill="#1a1a1a" opacity="0.61"/>
<ellipse cx="366.9" cy="231.1" rx="1.4" ry="1.8" fill="#1a1a1a" opacity="0.70"/>
<ellipse cx="114.1" cy="362.4" rx="1.4" ry="1.8" fill="#1a1a1a" opacity="0.75"/>
<ellipse cx="404.3" cy="197.0" rx="1.8" ry="2.3" fill="#1a1a1a" opacity="0.62"/>
<ellipse cx="328.1" cy="361.4" rx="1.3" ry="1.6" fill="#1a1a1a" opacity="0.61"/>
<ellipse cx="356.2" cy="41.9" rx="1.2" ry="1.6" fill="#1a1a1a" opacity="0.67"/>
<ellipse cx="335.2" cy="184.8" rx="1.0" ry="1.3" fill="#1a1a1a" opacity="0.85"/>
<ellipse cx="97.6" cy="38.1" rx="2.0" ry="2.6" fill="#1a1a1a" opacity="0.65"/>
<ellipse cx="193.5" cy="92.7" rx="1.2" ry="1.6" fill="#1a1a1a" opacity="0.70"/>
<ellipse cx="383.4" cy="6.5" rx="2.1" ry="2.6" fill="#1a1a1a" opacity="0.91"/>
<ellipse cx="282.2" cy="191.5" rx="1.5" ry="1.9" fill="#1a1a1a" opacity="0.60"/>
<ellipse cx="180.7" cy="111.6" rx="2.0" ry="2.6" fill="#1a1a1a" opacity="0.62"/>
<ellipse cx="350.8" cy="148.0" rx="1.5" ry="1.9" fill="#1a1a1a" opacity="0.70"/>
<ellipse cx="140.3" cy="92.8" rx="1.7" ry="2.2" fill="#1a1a1a" opacity="0.89"/>
<ellipse cx="74.8" cy="108.4" rx="1.9" ry="2.5" fill="#1a1a1a" opacity="0.85"/>
<ellipse cx="257.0" cy="282.6" rx="1.4" ry="1.8" fill="#1a1a1a" opacity="0.89"/>
<ellipse cx="233.9" cy="87.4" rx="1.3" ry="1.7" fill="#1a1a1a" opacity="0.67"/>
<ellipse cx="124.5" cy="264.3" rx="1.1" ry="1.4" fill="#1a1a1a" opacity="0.73"/>
<ellipse cx="78.9" cy="85.5" rx="2.1" ry="2.7" fill="#1a1a1a" opacity="0.82"/>
<ellipse cx="401.1" cy="290.3" rx="0.7" ry="0.9" fill="#1a1a1a" opacity="0.67"/>
<ellipse cx="52.5" cy="226.1" rx="1.3" ry="1.7" fill="#1a1a1a" opacity="0.71"/>
<ellipse cx="199.1" cy="255.3" rx="0.9" ry="1.1" fill="#1a1a1a" opacity="0.70"/>
<ellipse cx="387.1" cy="59.9" rx="1.2" ry="1.5" fill="#1a1a1a" opacity="0.62"/>
<ellipse cx="139.6" cy="93.5" rx="1.9" ry="2.5" fill="#1a1a1a" opacity="0.95"/>
<ellipse cx="235.5" cy="160.4" rx="1.1" ry="1.4" fill="#1a1a1a" opacity="0.87"/>
<ellipse cx="362.0" cy="219.0" rx="1.2" ry="1.6" fill="#1a1a1a" opacity="0.88"/>
<ellipse cx="171.1" cy="231.2" rx="1.2" ry="1.5" fill="#1a1a1a" opacity="0.80"/>
<ellipse cx="324.0" cy="54.1" rx="1.8" ry="2.3" fill="#1a1a1a" opacity="0.64"/>
<ellipse cx="281" cy="97" rx="9" ry="8" fill="#e8e8e8" filter="url(#blur1)"/>
<ellipse cx="30" cy="221" rx="6" ry="6.5" fill="#e8e8e8" filter="url(#blur1)"/>
<ellipse cx="166" cy="168" rx="6" ry="5" fill="#e8e8e8" filter="url(#blur1)"/>
<ellipse cx="248" cy="370" rx="9" ry="6" fill="#e8e8e8" filter="url(#blur1)"/>
<ellipse cx="44" cy="328" rx="6" ry="5" fill="#e8e8e8" filter="url(#blur1)"/>
</g>
<rect x="2.3" y="384.7" width="409.5" height="1.6" fill="#d0d0d0"/>
<rect x="2.3" y="386.3" width="409.5" height="25" fill="#050505"/>
<text x="23.8" y="396.6" font-size="10.5" fill="#dcdcdc" text-anchor="middle" font-weight="bold" letter-spacing="-0.3">WD</text>
<text x="23.8" y="408.8" font-size="11.3" fill="#dcdcdc" text-anchor="middle" font-weight="bold" letter-spacing="-0.4">10.0 mm</text>
<text x="68.1" y="396.6" font-size="10.5" fill="#dcdcdc" text-anchor="middle" font-weight="bold" letter-spacing="-0.3">mag</text>
<text x="68.1" y="408.8" font-size="11.3" fill="#dcdcdc" text-anchor="middle" font-weight="bold" letter-spacing="-0.4">20 000 x</text>
<text x="107.2" y="396.6" font-size="10.5" fill="#dcdcdc" text-anchor="middle" font-weight="bold" letter-spacing="-0.3">mode</text>
<text x="107.2" y="408.8" font-size="11.3" fill="#dcdcdc" text-anchor="middle" font-weight="bold" letter-spacing="-0.4">SE</text>
<text x="136.2" y="396.6" font-size="10.5" fill="#dcdcdc" text-anchor="middle" font-weight="bold" letter-spacing="-0.3">det</text>
<text x="136.2" y="408.8" font-size="11.3" fill="#dcdcdc" text-anchor="middle" font-weight="bold" letter-spacing="-0.4">ETD</text>
<text x="177.0" y="396.6" font-size="10.5" fill="#dcdcdc" text-anchor="middle" font-weight="bold" letter-spacing="-0.3">pressure</text>
<text x="177.0" y="408.8" font-size="11.3" fill="#dcdcdc" text-anchor="middle" font-weight="bold" letter-spacing="-0.4">6.57e-4 Pa</text>
<text x="227.5" y="396.6" font-size="10.5" fill="#dcdcdc" text-anchor="middle" font-weight="bold" letter-spacing="-0.3">HV</text>
<text x="227.5" y="408.8" font-size="11.3" fill="#dcdcdc" text-anchor="middle" font-weight="bold" letter-spacing="-0.4">10.00 kV</text>
<rect x="44.8" y="386.3" width="1.3" height="25" fill="#8a8a8a"/>
<rect x="90.2" y="386.3" width="1.3" height="25" fill="#8a8a8a"/>
<rect x="123.1" y="386.3" width="1.3" height="25" fill="#8a8a8a"/>
<rect x="148.0" y="386.3" width="1.3" height="25" fill="#8a8a8a"/>
<rect x="204.8" y="386.3" width="1.3" height="25" fill="#8a8a8a"/>
<rect x="249.0" y="386.3" width="1.3" height="25" fill="#8a8a8a"/>
<rect x="249.6" y="398.1" width="162.20000000000002" height="1.2" fill="#8a8a8a"/>
<rect x="261.6" y="391.5" width="59.1" height="2.2" fill="#e6e6e6"/>
<rect x="342.7" y="391.5" width="59.1" height="2.2" fill="#e6e6e6"/>
<text x="330.7" y="396.6" font-size="10.5" fill="#dcdcdc" text-anchor="middle" font-weight="bold">5 µm</text>
<text x="251.6" y="408.8" font-size="11.3" fill="#dcdcdc" font-weight="bold" letter-spacing="-0.4" textLength="158.2" lengthAdjust="spacingAndGlyphs">CMAB SEMQUANTA FEI 200 FEG</text>
<text x="8" y="37.5" font-size="37" fill="#f4f4f4">(a)</text>
<g clip-path="url(#clipB)">
<rect x="4" y="429" width="410" height="407" fill="#7c7c7c"/>
<rect x="4" y="429" width="410" height="407" filter="url(#semTexB)"/>
<rect x="4" y="429" width="410" height="407" filter="url(#semLowB)" opacity="0.1"/>
<ellipse cx="154.2" cy="505.1" rx="2.0" ry="2.6" fill="rgb(205,205,205)" opacity="0.85" filter="url(#blur05)"/>
<ellipse cx="347.2" cy="448.6" rx="1.4" ry="1.9" fill="rgb(182,182,182)" opacity="0.85" filter="url(#blur05)"/>
<ellipse cx="92.8" cy="733.5" rx="1.0" ry="1.3" fill="rgb(185,185,185)" opacity="0.85" filter="url(#blur05)"/>
<ellipse cx="80.8" cy="454.5" rx="1.9" ry="2.5" fill="rgb(191,191,191)" opacity="0.85" filter="url(#blur05)"/>
<ellipse cx="330.9" cy="644.9" rx="1.2" ry="1.8" fill="rgb(205,205,205)" opacity="0.85" filter="url(#blur05)"/>
<ellipse cx="301.3" cy="589.3" rx="1.3" ry="1.3" fill="rgb(169,169,169)" opacity="0.85" filter="url(#blur05)"/>
<ellipse cx="390.6" cy="702.0" rx="2.8" ry="2.6" fill="rgb(177,177,177)" opacity="0.85" filter="url(#blur05)"/>
<ellipse cx="284.9" cy="696.2" rx="5.8" ry="7.0" fill="rgb(210,210,210)" opacity="0.85" filter="url(#blur05)"/>
<ellipse cx="174.9" cy="660.6" rx="1.7" ry="1.4" fill="rgb(176,176,176)" opacity="0.85" filter="url(#blur05)"/>
<ellipse cx="130.4" cy="655.2" rx="2.0" ry="2.3" fill="rgb(187,187,187)" opacity="0.85" filter="url(#blur05)"/>
<ellipse cx="73.9" cy="804.0" rx="2.3" ry="2.4" fill="rgb(204,204,204)" opacity="0.85" filter="url(#blur05)"/>
<ellipse cx="392.0" cy="551.6" rx="1.3" ry="1.7" fill="rgb(200,200,200)" opacity="0.85" filter="url(#blur05)"/>
<ellipse cx="304.1" cy="475.9" rx="4.8" ry="6.1" fill="rgb(172,172,172)" opacity="0.85" filter="url(#blur05)"/>
<ellipse cx="127.5" cy="483.7" rx="1.8" ry="2.6" fill="rgb(194,194,194)" opacity="0.85" filter="url(#blur05)"/>
<ellipse cx="139.1" cy="753.6" rx="1.3" ry="1.2" fill="rgb(184,184,184)" opacity="0.85" filter="url(#blur05)"/>
<ellipse cx="412.8" cy="638.7" rx="1.4" ry="1.3" fill="rgb(201,201,201)" opacity="0.85" filter="url(#blur05)"/>
<ellipse cx="300.5" cy="807.8" rx="1.5" ry="1.6" fill="rgb(170,170,170)" opacity="0.85" filter="url(#blur05)"/>
<ellipse cx="330.9" cy="708.9" rx="1.9" ry="2.0" fill="rgb(176,176,176)" opacity="0.85" filter="url(#blur05)"/>
<ellipse cx="286.1" cy="649.7" rx="1.3" ry="0.9" fill="rgb(188,188,188)" opacity="0.85" filter="url(#blur05)"/>
<ellipse cx="278.3" cy="493.8" rx="1.3" ry="1.9" fill="rgb(171,171,171)" opacity="0.85" filter="url(#blur05)"/>
<ellipse cx="342.9" cy="553.5" rx="1.6" ry="1.7" fill="rgb(176,176,176)" opacity="0.85" filter="url(#blur05)"/>
<ellipse cx="261.7" cy="445.5" rx="1.4" ry="1.0" fill="rgb(194,194,194)" opacity="0.85" filter="url(#blur05)"/>
<ellipse cx="398.1" cy="524.5" rx="1.7" ry="2.7" fill="rgb(207,207,207)" opacity="0.85" filter="url(#blur05)"/>
<ellipse cx="59.3" cy="625.8" rx="4.1" ry="3.8" fill="rgb(171,171,171)" opacity="0.85" filter="url(#blur05)"/>
<ellipse cx="74.0" cy="781.9" rx="1.1" ry="1.3" fill="rgb(177,177,177)" opacity="0.85" filter="url(#blur05)"/>
<ellipse cx="328.0" cy="459.8" rx="1.5" ry="1.8" fill="rgb(170,170,170)" opacity="0.85" filter="url(#blur05)"/>
<ellipse cx="80.7" cy="560.1" rx="1.9" ry="2.3" fill="rgb(205,205,205)" opacity="0.85" filter="url(#blur05)"/>
<ellipse cx="222.6" cy="731.4" rx="1.6" ry="1.5" fill="rgb(176,176,176)" opacity="0.85" filter="url(#blur05)"/>
<ellipse cx="300.8" cy="762.5" rx="1.8" ry="2.4" fill="rgb(171,171,171)" opacity="0.85" filter="url(#blur05)"/>
<ellipse cx="160.0" cy="646.3" rx="1.5" ry="1.7" fill="rgb(196,196,196)" opacity="0.85" filter="url(#blur05)"/>
<ellipse cx="66.2" cy="641.1" rx="1.4" ry="2.1" fill="rgb(178,178,178)" opacity="0.85" filter="url(#blur05)"/>
<ellipse cx="23.9" cy="614.7" rx="1.2" ry="0.8" fill="rgb(197,197,197)" opacity="0.85" filter="url(#blur05)"/>
<ellipse cx="175.0" cy="730.2" rx="1.0" ry="1.2" fill="rgb(181,181,181)" opacity="0.85" filter="url(#blur05)"/>
<ellipse cx="341.7" cy="563.9" rx="2.0" ry="2.0" fill="rgb(169,169,169)" opacity="0.85" filter="url(#blur05)"/>
<ellipse cx="221.2" cy="655.8" rx="1.0" ry="1.1" fill="rgb(169,169,169)" opacity="0.85" filter="url(#blur05)"/>
<ellipse cx="327.8" cy="555.5" rx="1.4" ry="2.2" fill="rgb(207,207,207)" opacity="0.85" filter="url(#blur05)"/>
<ellipse cx="12.8" cy="557.1" rx="1.3" ry="1.2" fill="rgb(177,177,177)" opacity="0.85" filter="url(#blur05)"/>
<ellipse cx="5.4" cy="669.0" rx="2.5" ry="2.6" fill="rgb(187,187,187)" opacity="0.85" filter="url(#blur05)"/>
<ellipse cx="249.3" cy="782.7" rx="1.6" ry="1.9" fill="rgb(193,193,193)" opacity="0.85" filter="url(#blur05)"/>
<ellipse cx="308.7" cy="725.1" rx="2.7" ry="1.8" fill="rgb(185,185,185)" opacity="0.85" filter="url(#blur05)"/>
<ellipse cx="122.6" cy="697.9" rx="3.8" ry="4.2" fill="rgb(205,205,205)" opacity="0.85" filter="url(#blur05)"/>
<ellipse cx="78.1" cy="702.5" rx="2.5" ry="1.9" fill="rgb(206,206,206)" opacity="0.85" filter="url(#blur05)"/>
<ellipse cx="260.5" cy="642.2" rx="0.9" ry="1.2" fill="rgb(207,207,207)" opacity="0.85" filter="url(#blur05)"/>
<ellipse cx="39.0" cy="650.1" rx="5.9" ry="6.1" fill="rgb(189,189,189)" opacity="0.85" filter="url(#blur05)"/>
<ellipse cx="228.7" cy="770.4" rx="2.4" ry="2.5" fill="rgb(191,191,191)" opacity="0.85" filter="url(#blur05)"/>
<ellipse cx="338.9" cy="784.8" rx="0.7" ry="1.0" fill="rgb(175,175,175)" opacity="0.85" filter="url(#blur05)"/>
<ellipse cx="15.6" cy="672.8" rx="1.4" ry="1.3" fill="rgb(198,198,198)" opacity="0.85" filter="url(#blur05)"/>
<ellipse cx="147.2" cy="667.8" rx="1.0" ry="0.9" fill="rgb(190,190,190)" opacity="0.85" filter="url(#blur05)"/>
<ellipse cx="182.5" cy="809.1" rx="1.6" ry="0.9" fill="rgb(180,180,180)" opacity="0.85" filter="url(#blur05)"/>
<ellipse cx="327.5" cy="685.5" rx="1.9" ry="2.3" fill="rgb(185,185,185)" opacity="0.85" filter="url(#blur05)"/>
<ellipse cx="200.0" cy="667.1" rx="1.9" ry="1.6" fill="rgb(177,177,177)" opacity="0.85" filter="url(#blur05)"/>
<ellipse cx="50.1" cy="471.2" rx="1.2" ry="1.3" fill="rgb(169,169,169)" opacity="0.85" filter="url(#blur05)"/>
<ellipse cx="155.2" cy="745.3" rx="1.6" ry="2.0" fill="rgb(200,200,200)" opacity="0.85" filter="url(#blur05)"/>
<ellipse cx="174.5" cy="430.6" rx="1.4" ry="1.5" fill="rgb(184,184,184)" opacity="0.85" filter="url(#blur05)"/>
<ellipse cx="55.1" cy="583.4" rx="1.5" ry="1.5" fill="rgb(177,177,177)" opacity="0.85" filter="url(#blur05)"/>
<ellipse cx="217.5" cy="614.5" rx="2.0" ry="1.9" fill="rgb(208,208,208)" opacity="0.85" filter="url(#blur05)"/>
<ellipse cx="246.0" cy="810.4" rx="1.6" ry="1.4" fill="rgb(210,210,210)" opacity="0.85" filter="url(#blur05)"/>
<ellipse cx="43.8" cy="713.2" rx="1.0" ry="1.0" fill="rgb(203,203,203)" opacity="0.85" filter="url(#blur05)"/>
<ellipse cx="146.2" cy="691.7" rx="2.2" ry="2.3" fill="rgb(208,208,208)" opacity="0.85" filter="url(#blur05)"/>
<ellipse cx="45.6" cy="538.9" rx="1.3" ry="1.0" fill="rgb(202,202,202)" opacity="0.85" filter="url(#blur05)"/>
<ellipse cx="124.7" cy="589.5" rx="0.8" ry="0.9" fill="rgb(178,178,178)" opacity="0.85" filter="url(#blur05)"/>
<ellipse cx="141.0" cy="522.4" rx="4.0" ry="3.8" fill="rgb(198,198,198)" opacity="0.85" filter="url(#blur05)"/>
<ellipse cx="360.2" cy="727.3" rx="1.5" ry="1.9" fill="rgb(179,179,179)" opacity="0.85" filter="url(#blur05)"/>
<ellipse cx="197.2" cy="718.0" rx="2.2" ry="1.8" fill="rgb(184,184,184)" opacity="0.85" filter="url(#blur05)"/>
<ellipse cx="241.3" cy="608.1" rx="1.6" ry="1.6" fill="rgb(172,172,172)" opacity="0.85" filter="url(#blur05)"/>
<ellipse cx="135.1" cy="434.9" rx="1.1" ry="1.8" fill="rgb(170,170,170)" opacity="0.85" filter="url(#blur05)"/>
<ellipse cx="286.5" cy="512.8" rx="2.0" ry="2.7" fill="rgb(188,188,188)" opacity="0.85" filter="url(#blur05)"/>
<ellipse cx="307.3" cy="473.2" rx="1.9" ry="1.4" fill="rgb(192,192,192)" opacity="0.85" filter="url(#blur05)"/>
<ellipse cx="225.9" cy="470.8" rx="1.6" ry="1.3" fill="rgb(184,184,184)" opacity="0.85" filter="url(#blur05)"/>
<ellipse cx="187.6" cy="588.4" rx="2.4" ry="2.0" fill="rgb(205,205,205)" opacity="0.85" filter="url(#blur05)"/>
<ellipse cx="345.6" cy="799.8" rx="1.5" ry="1.5" fill="rgb(208,208,208)" opacity="0.85" filter="url(#blur05)"/>
<ellipse cx="215.5" cy="720.1" rx="2.3" ry="2.9" fill="rgb(200,200,200)" opacity="0.85" filter="url(#blur05)"/>
<ellipse cx="10.7" cy="686.4" rx="1.3" ry="1.1" fill="rgb(178,178,178)" opacity="0.85" filter="url(#blur05)"/>
<ellipse cx="211.0" cy="720.8" rx="2.0" ry="1.8" fill="rgb(202,202,202)" opacity="0.85" filter="url(#blur05)"/>
<ellipse cx="129.3" cy="503.4" rx="1.2" ry="0.8" fill="rgb(203,203,203)" opacity="0.85" filter="url(#blur05)"/>
<ellipse cx="227.0" cy="444.7" rx="1.4" ry="1.7" fill="rgb(193,193,193)" opacity="0.85" filter="url(#blur05)"/>
<ellipse cx="393.8" cy="687.1" rx="2.1" ry="2.4" fill="rgb(183,183,183)" opacity="0.85" filter="url(#blur05)"/>
<ellipse cx="347.1" cy="747.7" rx="1.6" ry="1.8" fill="rgb(178,178,178)" opacity="0.85" filter="url(#blur05)"/>
<ellipse cx="273.7" cy="474.6" rx="2.1" ry="2.2" fill="rgb(170,170,170)" opacity="0.85" filter="url(#blur05)"/>
<ellipse cx="164.4" cy="808.8" rx="1.9" ry="2.7" fill="rgb(183,183,183)" opacity="0.85" filter="url(#blur05)"/>
<ellipse cx="101.8" cy="439.5" rx="1.9" ry="1.3" fill="rgb(186,186,186)" opacity="0.85" filter="url(#blur05)"/>
<ellipse cx="364.3" cy="794.0" rx="1.6" ry="1.2" fill="rgb(194,194,194)" opacity="0.85" filter="url(#blur05)"/>
<ellipse cx="232.6" cy="741.4" rx="1.5" ry="2.0" fill="rgb(207,207,207)" opacity="0.85" filter="url(#blur05)"/>
<ellipse cx="82.7" cy="760.1" rx="2.1" ry="2.7" fill="rgb(176,176,176)" opacity="0.85" filter="url(#blur05)"/>
<ellipse cx="39.7" cy="755.7" rx="1.3" ry="1.2" fill="rgb(198,198,198)" opacity="0.85" filter="url(#blur05)"/>
<ellipse cx="248.6" cy="785.6" rx="2.8" ry="1.9" fill="rgb(169,169,169)" opacity="0.85" filter="url(#blur05)"/>
<ellipse cx="21.6" cy="533.9" rx="1.0" ry="0.9" fill="rgb(173,173,173)" opacity="0.85" filter="url(#blur05)"/>
<ellipse cx="216.0" cy="467.0" rx="2.9" ry="2.4" fill="rgb(201,201,201)" opacity="0.85" filter="url(#blur05)"/>
<ellipse cx="45.2" cy="784.5" rx="1.6" ry="2.3" fill="rgb(198,198,198)" opacity="0.85" filter="url(#blur05)"/>
<ellipse cx="395.5" cy="717.8" rx="3.0" ry="2.4" fill="rgb(189,189,189)" opacity="0.85" filter="url(#blur05)"/>
<ellipse cx="120.3" cy="524.9" rx="1.5" ry="1.2" fill="rgb(175,175,175)" opacity="0.85" filter="url(#blur05)"/>
<ellipse cx="77.8" cy="440.7" rx="2.1" ry="1.9" fill="rgb(196,196,196)" opacity="0.85" filter="url(#blur05)"/>
<ellipse cx="92.0" cy="553.7" rx="1.4" ry="1.1" fill="rgb(206,206,206)" opacity="0.85" filter="url(#blur05)"/>
<ellipse cx="141.0" cy="635.8" rx="2.0" ry="1.7" fill="rgb(182,182,182)" opacity="0.85" filter="url(#blur05)"/>
<ellipse cx="17.1" cy="480.0" rx="1.2" ry="1.1" fill="rgb(197,197,197)" opacity="0.85" filter="url(#blur05)"/>
<ellipse cx="53.8" cy="495.8" rx="1.7" ry="1.7" fill="rgb(199,199,199)" opacity="0.85" filter="url(#blur05)"/>
<ellipse cx="412.3" cy="775.9" rx="2.7" ry="2.1" fill="rgb(200,200,200)" opacity="0.85" filter="url(#blur05)"/>
<ellipse cx="306.9" cy="477.5" rx="6.1" ry="6.5" fill="rgb(170,170,170)" opacity="0.85" filter="url(#blur05)"/>
<ellipse cx="250.0" cy="629.7" rx="2.9" ry="1.8" fill="rgb(184,184,184)" opacity="0.85" filter="url(#blur05)"/>
<ellipse cx="263.0" cy="451.5" rx="1.3" ry="2.1" fill="rgb(202,202,202)" opacity="0.85" filter="url(#blur05)"/>
<ellipse cx="238.7" cy="560.1" rx="1.0" ry="0.8" fill="rgb(169,169,169)" opacity="0.85" filter="url(#blur05)"/>
<ellipse cx="275.8" cy="470.0" rx="1.6" ry="1.5" fill="rgb(175,175,175)" opacity="0.85" filter="url(#blur05)"/>
<ellipse cx="313.1" cy="436.0" rx="2.4" ry="2.3" fill="rgb(179,179,179)" opacity="0.85" filter="url(#blur05)"/>
<ellipse cx="15.2" cy="766.3" rx="2.6" ry="1.5" fill="rgb(194,194,194)" opacity="0.85" filter="url(#blur05)"/>
<ellipse cx="32.8" cy="774.5" rx="3.9" ry="2.9" fill="rgb(197,197,197)" opacity="0.85" filter="url(#blur05)"/>
<ellipse cx="196.2" cy="565.0" rx="1.9" ry="1.7" fill="rgb(192,192,192)" opacity="0.85" filter="url(#blur05)"/>
<ellipse cx="310.0" cy="542.4" rx="1.4" ry="2.0" fill="rgb(178,178,178)" opacity="0.85" filter="url(#blur05)"/>
<ellipse cx="80.0" cy="636.4" rx="2.3" ry="2.1" fill="rgb(202,202,202)" opacity="0.85" filter="url(#blur05)"/>
<ellipse cx="320.5" cy="436.2" rx="5.9" ry="4.4" fill="rgb(178,178,178)" opacity="0.85" filter="url(#blur05)"/>
<ellipse cx="114.8" cy="639.0" rx="1.4" ry="1.2" fill="rgb(173,173,173)" opacity="0.85" filter="url(#blur05)"/>
<ellipse cx="130.7" cy="561.3" rx="1.5" ry="1.5" fill="rgb(193,193,193)" opacity="0.85" filter="url(#blur05)"/>
<ellipse cx="188.4" cy="629.3" rx="1.4" ry="1.8" fill="rgb(198,198,198)" opacity="0.85" filter="url(#blur05)"/>
<ellipse cx="89.8" cy="586.0" rx="1.0" ry="1.5" fill="rgb(169,169,169)" opacity="0.85" filter="url(#blur05)"/>
<ellipse cx="45.5" cy="788.6" rx="1.3" ry="1.4" fill="rgb(174,174,174)" opacity="0.85" filter="url(#blur05)"/>
<ellipse cx="28.7" cy="480.8" rx="4.2" ry="3.7" fill="rgb(196,196,196)" opacity="0.85" filter="url(#blur05)"/>
<ellipse cx="254.3" cy="622.3" rx="2.3" ry="3.1" fill="rgb(182,182,182)" opacity="0.85" filter="url(#blur05)"/>
<ellipse cx="228.7" cy="637.0" rx="6.3" ry="5.8" fill="rgb(192,192,192)" opacity="0.85" filter="url(#blur05)"/>
<ellipse cx="191.1" cy="532.2" rx="0.9" ry="1.2" fill="rgb(204,204,204)" opacity="0.85" filter="url(#blur05)"/>
<ellipse cx="413.2" cy="504.0" rx="2.9" ry="2.5" fill="rgb(191,191,191)" opacity="0.85" filter="url(#blur05)"/>
<ellipse cx="114.2" cy="495.3" rx="2.1" ry="1.4" fill="rgb(170,170,170)" opacity="0.85" filter="url(#blur05)"/>
<ellipse cx="293.5" cy="620.4" rx="3.0" ry="2.7" fill="rgb(200,200,200)" opacity="0.85" filter="url(#blur05)"/>
<ellipse cx="212.7" cy="576.6" rx="1.5" ry="1.4" fill="rgb(194,194,194)" opacity="0.85" filter="url(#blur05)"/>
<ellipse cx="128.9" cy="690.8" rx="1.9" ry="1.4" fill="rgb(168,168,168)" opacity="0.85" filter="url(#blur05)"/>
<ellipse cx="407.1" cy="581.3" rx="1.0" ry="0.6" fill="rgb(172,172,172)" opacity="0.85" filter="url(#blur05)"/>
<ellipse cx="268.9" cy="631.3" rx="2.1" ry="1.9" fill="rgb(205,205,205)" opacity="0.85" filter="url(#blur05)"/>
<ellipse cx="12.0" cy="630.0" rx="3.0" ry="2.1" fill="rgb(178,178,178)" opacity="0.85" filter="url(#blur05)"/>
<ellipse cx="219.8" cy="671.6" rx="1.6" ry="1.7" fill="rgb(173,173,173)" opacity="0.85" filter="url(#blur05)"/>
<ellipse cx="297.1" cy="754.2" rx="1.6" ry="1.3" fill="rgb(205,205,205)" opacity="0.85" filter="url(#blur05)"/>
<ellipse cx="328.8" cy="495.2" rx="1.8" ry="1.2" fill="rgb(189,189,189)" opacity="0.85" filter="url(#blur05)"/>
<ellipse cx="303.4" cy="802.2" rx="1.3" ry="1.6" fill="rgb(168,168,168)" opacity="0.85" filter="url(#blur05)"/>
<ellipse cx="281.3" cy="574.5" rx="2.4" ry="1.7" fill="rgb(182,182,182)" opacity="0.85" filter="url(#blur05)"/>
<ellipse cx="249.4" cy="787.6" rx="1.0" ry="0.9" fill="rgb(192,192,192)" opacity="0.85" filter="url(#blur05)"/>
<ellipse cx="213.2" cy="502.8" rx="2.0" ry="2.1" fill="rgb(187,187,187)" opacity="0.85" filter="url(#blur05)"/>
<ellipse cx="141.9" cy="485.3" rx="1.4" ry="0.9" fill="rgb(175,175,175)" opacity="0.85" filter="url(#blur05)"/>
<ellipse cx="397.9" cy="502.0" rx="2.2" ry="2.2" fill="rgb(204,204,204)" opacity="0.85" filter="url(#blur05)"/>
<ellipse cx="111.4" cy="696.8" rx="2.7" ry="2.4" fill="rgb(205,205,205)" opacity="0.85" filter="url(#blur05)"/>
<ellipse cx="295.3" cy="518.0" rx="1.1" ry="1.2" fill="rgb(191,191,191)" opacity="0.85" filter="url(#blur05)"/>
<ellipse cx="5.5" cy="659.6" rx="1.9" ry="2.4" fill="rgb(202,202,202)" opacity="0.85" filter="url(#blur05)"/>
<ellipse cx="298.0" cy="663.7" rx="5.0" ry="2.7" fill="rgb(175,175,175)" opacity="0.85" filter="url(#blur05)"/>
<ellipse cx="17.4" cy="522.1" rx="1.2" ry="1.2" fill="rgb(196,196,196)" opacity="0.85" filter="url(#blur05)"/>
<ellipse cx="201.9" cy="687.1" rx="1.6" ry="1.7" fill="rgb(175,175,175)" opacity="0.85" filter="url(#blur05)"/>
<ellipse cx="62.1" cy="511.5" rx="3.3" ry="3.1" fill="rgb(198,198,198)" opacity="0.85" filter="url(#blur05)"/>
<ellipse cx="353.0" cy="723.7" rx="0.8" ry="1.0" fill="rgb(190,190,190)" opacity="0.85" filter="url(#blur05)"/>
<ellipse cx="271.7" cy="751.2" rx="0.8" ry="1.4" fill="rgb(187,187,187)" opacity="0.85" filter="url(#blur05)"/>
<ellipse cx="255.7" cy="635.3" rx="1.1" ry="0.9" fill="rgb(201,201,201)" opacity="0.85" filter="url(#blur05)"/>
<ellipse cx="217.4" cy="558.1" rx="1.3" ry="1.7" fill="rgb(211,211,211)" opacity="0.85" filter="url(#blur05)"/>
<ellipse cx="172.6" cy="810.6" rx="2.4" ry="2.5" fill="rgb(195,195,195)" opacity="0.85" filter="url(#blur05)"/>
<ellipse cx="114.5" cy="530.7" rx="1.1" ry="1.2" fill="rgb(168,168,168)" opacity="0.85" filter="url(#blur05)"/>
<ellipse cx="63.8" cy="673.9" rx="1.3" ry="1.1" fill="rgb(208,208,208)" opacity="0.85" filter="url(#blur05)"/>
<ellipse cx="335.8" cy="773.2" rx="4.1" ry="5.3" fill="rgb(194,194,194)" opacity="0.85" filter="url(#blur05)"/>
<ellipse cx="302.2" cy="717.7" rx="1.5" ry="1.0" fill="rgb(193,193,193)" opacity="0.85" filter="url(#blur05)"/>
<ellipse cx="213.1" cy="434.2" rx="2.0" ry="2.7" fill="rgb(185,185,185)" opacity="0.85" filter="url(#blur05)"/>
<ellipse cx="351.7" cy="751.2" rx="1.3" ry="1.0" fill="rgb(192,192,192)" opacity="0.85" filter="url(#blur05)"/>
<ellipse cx="143.6" cy="550.1" rx="2.7" ry="3.6" fill="rgb(202,202,202)" opacity="0.85" filter="url(#blur05)"/>
<ellipse cx="150.4" cy="531.9" rx="2.4" ry="1.6" fill="rgb(204,204,204)" opacity="0.85" filter="url(#blur05)"/>
<ellipse cx="88.3" cy="460.8" rx="1.7" ry="2.4" fill="rgb(180,180,180)" opacity="0.85" filter="url(#blur05)"/>
<ellipse cx="6.2" cy="793.2" rx="1.4" ry="1.6" fill="rgb(183,183,183)" opacity="0.85" filter="url(#blur05)"/>
<ellipse cx="391.8" cy="741.1" rx="0.9" ry="1.3" fill="rgb(177,177,177)" opacity="0.85" filter="url(#blur05)"/>
<ellipse cx="307.1" cy="771.5" rx="2.3" ry="1.6" fill="rgb(193,193,193)" opacity="0.85" filter="url(#blur05)"/>
<ellipse cx="341.7" cy="533.3" rx="2.4" ry="1.9" fill="rgb(190,190,190)" opacity="0.85" filter="url(#blur05)"/>
<ellipse cx="41.6" cy="616.9" rx="1.8" ry="1.9" fill="rgb(197,197,197)" opacity="0.85" filter="url(#blur05)"/>
<ellipse cx="49.0" cy="784.0" rx="1.5" ry="1.4" fill="rgb(200,200,200)" opacity="0.85" filter="url(#blur05)"/>
<ellipse cx="72.7" cy="577.7" rx="1.5" ry="1.3" fill="rgb(172,172,172)" opacity="0.85" filter="url(#blur05)"/>
<ellipse cx="118.0" cy="703.7" rx="1.2" ry="1.3" fill="rgb(190,190,190)" opacity="0.85" filter="url(#blur05)"/>
<ellipse cx="362.3" cy="645.9" rx="2.3" ry="1.8" fill="rgb(195,195,195)" opacity="0.85" filter="url(#blur05)"/>
<ellipse cx="10.9" cy="443.2" rx="2.1" ry="1.6" fill="rgb(210,210,210)" opacity="0.85" filter="url(#blur05)"/>
<ellipse cx="178.8" cy="529.1" rx="0.9" ry="0.9" fill="rgb(171,171,171)" opacity="0.85" filter="url(#blur05)"/>
<ellipse cx="170.9" cy="541.8" rx="1.7" ry="2.1" fill="rgb(194,194,194)" opacity="0.85" filter="url(#blur05)"/>
<ellipse cx="215.7" cy="718.4" rx="1.7" ry="2.8" fill="rgb(201,201,201)" opacity="0.85" filter="url(#blur05)"/>
<ellipse cx="321.0" cy="682.8" rx="1.9" ry="2.8" fill="rgb(211,211,211)" opacity="0.85" filter="url(#blur05)"/>
<ellipse cx="390.4" cy="792.3" rx="1.5" ry="1.0" fill="rgb(211,211,211)" opacity="0.85" filter="url(#blur05)"/>
<ellipse cx="114.2" cy="503.8" rx="2.3" ry="1.5" fill="rgb(176,176,176)" opacity="0.85" filter="url(#blur05)"/>
<ellipse cx="334.7" cy="434.1" rx="2.2" ry="1.9" fill="rgb(204,204,204)" opacity="0.85" filter="url(#blur05)"/>
<ellipse cx="60.2" cy="622.1" rx="1.2" ry="1.2" fill="rgb(202,202,202)" opacity="0.85" filter="url(#blur05)"/>
<ellipse cx="395.4" cy="768.5" rx="2.4" ry="2.4" fill="rgb(191,191,191)" opacity="0.85" filter="url(#blur05)"/>
<ellipse cx="292.2" cy="558.2" rx="1.3" ry="1.6" fill="rgb(210,210,210)" opacity="0.85" filter="url(#blur05)"/>
<ellipse cx="275.6" cy="660.0" rx="1.1" ry="1.2" fill="rgb(207,207,207)" opacity="0.85" filter="url(#blur05)"/>
<ellipse cx="235.3" cy="596.5" rx="0.9" ry="1.0" fill="rgb(192,192,192)" opacity="0.85" filter="url(#blur05)"/>
<ellipse cx="282.6" cy="529.2" rx="1.6" ry="1.2" fill="rgb(204,204,204)" opacity="0.85" filter="url(#blur05)"/>
<ellipse cx="232.0" cy="557.6" rx="2.3" ry="2.1" fill="rgb(200,200,200)" opacity="0.85" filter="url(#blur05)"/>
<ellipse cx="217.2" cy="763.8" rx="1.9" ry="2.3" fill="rgb(188,188,188)" opacity="0.85" filter="url(#blur05)"/>
<ellipse cx="289.7" cy="687.2" rx="1.8" ry="2.2" fill="rgb(181,181,181)" opacity="0.85" filter="url(#blur05)"/>
<ellipse cx="234.5" cy="439.1" rx="2.7" ry="1.9" fill="rgb(168,168,168)" opacity="0.85" filter="url(#blur05)"/>
<ellipse cx="230.2" cy="720.2" rx="2.4" ry="1.8" fill="rgb(178,178,178)" opacity="0.85" filter="url(#blur05)"/>
<ellipse cx="301.6" cy="587.4" rx="0.9" ry="0.7" fill="rgb(210,210,210)" opacity="0.85" filter="url(#blur05)"/>
<ellipse cx="139.5" cy="690.2" rx="2.4" ry="2.8" fill="rgb(180,180,180)" opacity="0.85" filter="url(#blur05)"/>
<ellipse cx="376.3" cy="510.9" rx="2.5" ry="2.7" fill="rgb(204,204,204)" opacity="0.85" filter="url(#blur05)"/>
<ellipse cx="292.8" cy="446.1" rx="2.4" ry="1.7" fill="rgb(208,208,208)" opacity="0.85" filter="url(#blur05)"/>
<ellipse cx="392.3" cy="497.1" rx="1.6" ry="1.4" fill="rgb(198,198,198)" opacity="0.85" filter="url(#blur05)"/>
<ellipse cx="240.0" cy="540.4" rx="1.6" ry="1.4" fill="rgb(193,193,193)" opacity="0.85" filter="url(#blur05)"/>
<ellipse cx="267.6" cy="688.5" rx="1.8" ry="2.4" fill="rgb(197,197,197)" opacity="0.85" filter="url(#blur05)"/>
<ellipse cx="185.5" cy="616.8" rx="1.0" ry="1.2" fill="rgb(206,206,206)" opacity="0.85" filter="url(#blur05)"/>
<ellipse cx="396.5" cy="557.3" rx="1.7" ry="2.2" fill="rgb(204,204,204)" opacity="0.85" filter="url(#blur05)"/>
<ellipse cx="310.0" cy="804.0" rx="1.2" ry="0.7" fill="rgb(205,205,205)" opacity="0.85" filter="url(#blur05)"/>
<ellipse cx="184.7" cy="648.9" rx="2.0" ry="2.3" fill="rgb(175,175,175)" opacity="0.85" filter="url(#blur05)"/>
<ellipse cx="386.8" cy="664.5" rx="3.1" ry="4.2" fill="rgb(174,174,174)" opacity="0.85" filter="url(#blur05)"/>
<ellipse cx="149.2" cy="665.4" rx="2.2" ry="1.7" fill="rgb(173,173,173)" opacity="0.85" filter="url(#blur05)"/>
<ellipse cx="26.2" cy="744.0" rx="1.9" ry="2.7" fill="rgb(175,175,175)" opacity="0.85" filter="url(#blur05)"/>
<ellipse cx="87.3" cy="792.7" rx="2.9" ry="2.8" fill="rgb(197,197,197)" opacity="0.85" filter="url(#blur05)"/>
<ellipse cx="103.5" cy="536.4" rx="5.2" ry="4.5" fill="rgb(188,188,188)" opacity="0.85" filter="url(#blur05)"/>
<ellipse cx="350.0" cy="670.9" rx="1.1" ry="0.8" fill="rgb(183,183,183)" opacity="0.85" filter="url(#blur05)"/>
<ellipse cx="369.8" cy="631.0" rx="0.9" ry="0.9" fill="rgb(197,197,197)" opacity="0.85" filter="url(#blur05)"/>
<ellipse cx="60.4" cy="546.1" rx="2.1" ry="1.2" fill="rgb(205,205,205)" opacity="0.85" filter="url(#blur05)"/>
<ellipse cx="398.3" cy="615.7" rx="1.9" ry="2.7" fill="rgb(200,200,200)" opacity="0.85" filter="url(#blur05)"/>
<ellipse cx="137.0" cy="698.5" rx="1.0" ry="1.0" fill="rgb(198,198,198)" opacity="0.85" filter="url(#blur05)"/>
<ellipse cx="161.0" cy="701.7" rx="1.6" ry="2.0" fill="rgb(211,211,211)" opacity="0.85" filter="url(#blur05)"/>
<ellipse cx="133.9" cy="571.8" rx="0.7" ry="0.8" fill="rgb(190,190,190)" opacity="0.85" filter="url(#blur05)"/>
<ellipse cx="23.1" cy="727.5" rx="0.8" ry="1.0" fill="rgb(186,186,186)" opacity="0.85" filter="url(#blur05)"/>
<ellipse cx="169.4" cy="509.9" rx="5.7" ry="6.7" fill="rgb(182,182,182)" opacity="0.85" filter="url(#blur05)"/>
<ellipse cx="85.5" cy="704.9" rx="2.5" ry="1.7" fill="rgb(205,205,205)" opacity="0.85" filter="url(#blur05)"/>
<ellipse cx="109.7" cy="588.0" rx="2.0" ry="2.3" fill="rgb(174,174,174)" opacity="0.85" filter="url(#blur05)"/>
<ellipse cx="52.6" cy="433.0" rx="1.4" ry="1.5" fill="rgb(204,204,204)" opacity="0.85" filter="url(#blur05)"/>
<ellipse cx="127.5" cy="720.4" rx="4.7" ry="4.1" fill="rgb(169,169,169)" opacity="0.85" filter="url(#blur05)"/>
<ellipse cx="302.9" cy="582.9" rx="1.4" ry="1.3" fill="rgb(184,184,184)" opacity="0.85" filter="url(#blur05)"/>
<ellipse cx="230.0" cy="726.5" rx="2.8" ry="2.7" fill="rgb(197,197,197)" opacity="0.85" filter="url(#blur05)"/>
<ellipse cx="387.7" cy="538.1" rx="2.5" ry="2.0" fill="rgb(190,190,190)" opacity="0.85" filter="url(#blur05)"/>
<ellipse cx="13.8" cy="760.5" rx="2.1" ry="1.8" fill="rgb(189,189,189)" opacity="0.85" filter="url(#blur05)"/>
<ellipse cx="265.5" cy="690.5" rx="1.7" ry="2.9" fill="rgb(197,197,197)" opacity="0.85" filter="url(#blur05)"/>
<ellipse cx="69.7" cy="471.4" rx="2.4" ry="2.1" fill="rgb(195,195,195)" opacity="0.85" filter="url(#blur05)"/>
<ellipse cx="161.3" cy="430.3" rx="1.7" ry="1.7" fill="rgb(180,180,180)" opacity="0.85" filter="url(#blur05)"/>
<ellipse cx="68.8" cy="580.9" rx="1.6" ry="2.7" fill="rgb(208,208,208)" opacity="0.85" filter="url(#blur05)"/>
<ellipse cx="87.4" cy="732.2" rx="2.2" ry="1.6" fill="rgb(181,181,181)" opacity="0.85" filter="url(#blur05)"/>
<ellipse cx="340.2" cy="453.5" rx="2.1" ry="2.4" fill="rgb(179,179,179)" opacity="0.85" filter="url(#blur05)"/>
<ellipse cx="162.8" cy="793.2" rx="1.9" ry="2.7" fill="rgb(192,192,192)" opacity="0.85" filter="url(#blur05)"/>
<ellipse cx="261.4" cy="534.5" rx="3.0" ry="3.6" fill="rgb(199,199,199)" opacity="0.85" filter="url(#blur05)"/>
<ellipse cx="271.5" cy="531.6" rx="2.2" ry="1.9" fill="rgb(208,208,208)" opacity="0.85" filter="url(#blur05)"/>
<ellipse cx="98.2" cy="545.6" rx="1.4" ry="1.9" fill="rgb(205,205,205)" opacity="0.85" filter="url(#blur05)"/>
<ellipse cx="45.3" cy="711.2" rx="1.1" ry="1.3" fill="rgb(194,194,194)" opacity="0.85" filter="url(#blur05)"/>
<ellipse cx="213.9" cy="446.7" rx="1.1" ry="0.8" fill="rgb(200,200,200)" opacity="0.85" filter="url(#blur05)"/>
<ellipse cx="285.6" cy="592.8" rx="0.9" ry="0.8" fill="rgb(188,188,188)" opacity="0.85" filter="url(#blur05)"/>
<ellipse cx="328.3" cy="505.7" rx="2.0" ry="1.4" fill="rgb(200,200,200)" opacity="0.85" filter="url(#blur05)"/>
<ellipse cx="257.6" cy="505.0" rx="2.0" ry="1.4" fill="rgb(169,169,169)" opacity="0.85" filter="url(#blur05)"/>
<ellipse cx="211.5" cy="716.6" rx="2.0" ry="2.2" fill="rgb(168,168,168)" opacity="0.85" filter="url(#blur05)"/>
<ellipse cx="87.6" cy="706.0" rx="1.2" ry="1.2" fill="rgb(174,174,174)" opacity="0.85" filter="url(#blur05)"/>
<ellipse cx="81.6" cy="693.1" rx="1.9" ry="2.9" fill="rgb(171,171,171)" opacity="0.85" filter="url(#blur05)"/>
<ellipse cx="191.4" cy="464.1" rx="4.4" ry="5.8" fill="rgb(194,194,194)" opacity="0.85" filter="url(#blur05)"/>
<ellipse cx="121.4" cy="617.0" rx="1.0" ry="0.7" fill="rgb(180,180,180)" opacity="0.85" filter="url(#blur05)"/>
<ellipse cx="71.3" cy="590.9" rx="2.2" ry="2.5" fill="rgb(204,204,204)" opacity="0.85" filter="url(#blur05)"/>
<ellipse cx="222.4" cy="469.2" rx="0.8" ry="0.9" fill="rgb(187,187,187)" opacity="0.85" filter="url(#blur05)"/>
<ellipse cx="281.8" cy="466.6" rx="1.3" ry="1.0" fill="rgb(202,202,202)" opacity="0.85" filter="url(#blur05)"/>
<ellipse cx="334.1" cy="554.5" rx="2.5" ry="2.6" fill="rgb(202,202,202)" opacity="0.85" filter="url(#blur05)"/>
<ellipse cx="319.4" cy="705.4" rx="2.8" ry="2.3" fill="rgb(186,186,186)" opacity="0.85" filter="url(#blur05)"/>
<ellipse cx="249.6" cy="489.8" rx="3.5" ry="2.5" fill="rgb(195,195,195)" opacity="0.85" filter="url(#blur05)"/>
<ellipse cx="410.1" cy="579.6" rx="2.2" ry="2.4" fill="rgb(197,197,197)" opacity="0.85" filter="url(#blur05)"/>
<ellipse cx="230.0" cy="544.7" rx="1.5" ry="1.3" fill="rgb(195,195,195)" opacity="0.85" filter="url(#blur05)"/>
<ellipse cx="93.2" cy="710.0" rx="2.0" ry="2.2" fill="rgb(211,211,211)" opacity="0.85" filter="url(#blur05)"/>
<ellipse cx="76.3" cy="510.2" rx="1.2" ry="0.8" fill="rgb(173,173,173)" opacity="0.85" filter="url(#blur05)"/>
<ellipse cx="391.0" cy="534.4" rx="2.4" ry="2.9" fill="rgb(176,176,176)" opacity="0.85" filter="url(#blur05)"/>
<ellipse cx="27.7" cy="635.9" rx="2.5" ry="2.2" fill="rgb(186,186,186)" opacity="0.85" filter="url(#blur05)"/>
<ellipse cx="278.0" cy="727.5" rx="2.3" ry="1.8" fill="rgb(203,203,203)" opacity="0.85" filter="url(#blur05)"/>
<ellipse cx="399.6" cy="664.4" rx="1.5" ry="1.5" fill="rgb(193,193,193)" opacity="0.85" filter="url(#blur05)"/>
<ellipse cx="396.7" cy="581.3" rx="2.6" ry="2.8" fill="rgb(187,187,187)" opacity="0.85" filter="url(#blur05)"/>
<ellipse cx="185.4" cy="782.7" rx="1.8" ry="1.4" fill="rgb(177,177,177)" opacity="0.85" filter="url(#blur05)"/>
<ellipse cx="191.4" cy="493.5" rx="1.9" ry="1.8" fill="rgb(182,182,182)" opacity="0.85" filter="url(#blur05)"/>
<ellipse cx="268.3" cy="446.9" rx="1.4" ry="2.0" fill="rgb(208,208,208)" opacity="0.85" filter="url(#blur05)"/>
<ellipse cx="43.8" cy="431.6" rx="1.8" ry="2.1" fill="rgb(202,202,202)" opacity="0.85" filter="url(#blur05)"/>
<ellipse cx="171.8" cy="450.4" rx="3.0" ry="2.3" fill="rgb(203,203,203)" opacity="0.85" filter="url(#blur05)"/>
<ellipse cx="282.0" cy="760.0" rx="3.4" ry="4.5" fill="rgb(184,184,184)" opacity="0.85" filter="url(#blur05)"/>
<ellipse cx="114.2" cy="806.0" rx="3.6" ry="3.9" fill="rgb(168,168,168)" opacity="0.85" filter="url(#blur05)"/>
<ellipse cx="64.1" cy="616.5" rx="1.8" ry="1.8" fill="rgb(170,170,170)" opacity="0.85" filter="url(#blur05)"/>
<ellipse cx="405.6" cy="700.4" rx="1.7" ry="2.2" fill="rgb(171,171,171)" opacity="0.85" filter="url(#blur05)"/>
<ellipse cx="155.1" cy="780.0" rx="1.3" ry="1.0" fill="rgb(199,199,199)" opacity="0.85" filter="url(#blur05)"/>
<ellipse cx="371.4" cy="707.7" rx="2.2" ry="2.9" fill="rgb(197,197,197)" opacity="0.85" filter="url(#blur05)"/>
<ellipse cx="206.2" cy="789.6" rx="1.5" ry="1.4" fill="rgb(176,176,176)" opacity="0.85" filter="url(#blur05)"/>
<ellipse cx="146.0" cy="523.2" rx="1.3" ry="1.3" fill="rgb(176,176,176)" opacity="0.85" filter="url(#blur05)"/>
<ellipse cx="200.2" cy="673.5" rx="1.2" ry="1.4" fill="rgb(211,211,211)" opacity="0.85" filter="url(#blur05)"/>
<ellipse cx="343.6" cy="682.8" rx="2.0" ry="1.4" fill="rgb(169,169,169)" opacity="0.85" filter="url(#blur05)"/>
<ellipse cx="381.6" cy="766.9" rx="2.5" ry="1.5" fill="rgb(191,191,191)" opacity="0.85" filter="url(#blur05)"/>
<ellipse cx="4.9" cy="708.9" rx="1.3" ry="0.7" fill="rgb(201,201,201)" opacity="0.85" filter="url(#blur05)"/>
<ellipse cx="297.6" cy="453.1" rx="2.3" ry="1.6" fill="rgb(201,201,201)" opacity="0.85" filter="url(#blur05)"/>
<ellipse cx="236.6" cy="550.8" rx="2.4" ry="1.6" fill="rgb(195,195,195)" opacity="0.85" filter="url(#blur05)"/>
<ellipse cx="206.9" cy="755.7" rx="4.1" ry="2.9" fill="rgb(182,182,182)" opacity="0.85" filter="url(#blur05)"/>
<ellipse cx="35.1" cy="705.8" rx="1.9" ry="2.7" fill="rgb(197,197,197)" opacity="0.85" filter="url(#blur05)"/>
<ellipse cx="165.0" cy="461.1" rx="5.3" ry="4.5" fill="rgb(170,170,170)" opacity="0.85" filter="url(#blur05)"/>
<ellipse cx="10.0" cy="429.6" rx="2.0" ry="1.3" fill="rgb(198,198,198)" opacity="0.85" filter="url(#blur05)"/>
<ellipse cx="263.4" cy="653.6" rx="2.6" ry="2.7" fill="rgb(200,200,200)" opacity="0.85" filter="url(#blur05)"/>
<ellipse cx="216.3" cy="580.8" rx="1.5" ry="1.8" fill="rgb(193,193,193)" opacity="0.85" filter="url(#blur05)"/>
<ellipse cx="294.6" cy="613.2" rx="2.0" ry="2.3" fill="rgb(171,171,171)" opacity="0.85" filter="url(#blur05)"/>
<ellipse cx="382.5" cy="769.7" rx="0.9" ry="1.1" fill="rgb(172,172,172)" opacity="0.85" filter="url(#blur05)"/>
<ellipse cx="343.8" cy="596.5" rx="2.7" ry="2.5" fill="rgb(180,180,180)" opacity="0.85" filter="url(#blur05)"/>
<ellipse cx="216.5" cy="786.1" rx="1.1" ry="0.9" fill="rgb(200,200,200)" opacity="0.85" filter="url(#blur05)"/>
<ellipse cx="279.7" cy="519.5" rx="1.3" ry="2.0" fill="rgb(199,199,199)" opacity="0.85" filter="url(#blur05)"/>
<ellipse cx="182.3" cy="635.4" rx="0.9" ry="1.5" fill="rgb(209,209,209)" opacity="0.85" filter="url(#blur05)"/>
<ellipse cx="223.0" cy="517.8" rx="1.0" ry="0.9" fill="rgb(190,190,190)" opacity="0.85" filter="url(#blur05)"/>
<ellipse cx="275.6" cy="570.0" rx="2.6" ry="1.8" fill="rgb(181,181,181)" opacity="0.85" filter="url(#blur05)"/>
<ellipse cx="243.9" cy="433.8" rx="1.7" ry="1.9" fill="rgb(197,197,197)" opacity="0.85" filter="url(#blur05)"/>
<ellipse cx="196.6" cy="806.7" rx="2.3" ry="3.2" fill="rgb(191,191,191)" opacity="0.85" filter="url(#blur05)"/>
<ellipse cx="10.6" cy="766.2" rx="1.8" ry="1.6" fill="rgb(190,190,190)" opacity="0.85" filter="url(#blur05)"/>
<ellipse cx="43.3" cy="548.9" rx="2.2" ry="1.8" fill="rgb(200,200,200)" opacity="0.85" filter="url(#blur05)"/>
<ellipse cx="375.0" cy="661.1" rx="2.0" ry="1.8" fill="rgb(210,210,210)" opacity="0.85" filter="url(#blur05)"/>
<ellipse cx="100.0" cy="760.6" rx="6.2" ry="3.9" fill="rgb(185,185,185)" opacity="0.85" filter="url(#blur05)"/>
<ellipse cx="229.0" cy="744.1" rx="2.5" ry="2.2" fill="rgb(177,177,177)" opacity="0.85" filter="url(#blur05)"/>
<ellipse cx="42.6" cy="657.9" rx="1.6" ry="1.8" fill="rgb(207,207,207)" opacity="0.85" filter="url(#blur05)"/>
<ellipse cx="114.6" cy="681.2" rx="1.6" ry="1.6" fill="rgb(199,199,199)" opacity="0.85" filter="url(#blur05)"/>
<ellipse cx="335.7" cy="511.3" rx="1.9" ry="1.9" fill="rgb(179,179,179)" opacity="0.85" filter="url(#blur05)"/>
<ellipse cx="337.6" cy="552.0" rx="1.0" ry="1.5" fill="rgb(190,190,190)" opacity="0.85" filter="url(#blur05)"/>
<ellipse cx="117.3" cy="505.1" rx="2.8" ry="2.6" fill="rgb(197,197,197)" opacity="0.85" filter="url(#blur05)"/>
<ellipse cx="88.6" cy="480.2" rx="2.3" ry="2.0" fill="rgb(195,195,195)" opacity="0.85" filter="url(#blur05)"/>
<ellipse cx="241.5" cy="514.9" rx="1.6" ry="1.0" fill="rgb(191,191,191)" opacity="0.85" filter="url(#blur05)"/>
<ellipse cx="58.6" cy="481.9" rx="2.3" ry="3.2" fill="rgb(171,171,171)" opacity="0.85" filter="url(#blur05)"/>
<ellipse cx="67.6" cy="636.3" rx="1.7" ry="1.4" fill="rgb(173,173,173)" opacity="0.85" filter="url(#blur05)"/>
<ellipse cx="268.3" cy="614.7" rx="1.4" ry="1.9" fill="rgb(210,210,210)" opacity="0.85" filter="url(#blur05)"/>
<ellipse cx="46.5" cy="611.9" rx="1.3" ry="1.0" fill="rgb(211,211,211)" opacity="0.85" filter="url(#blur05)"/>
<ellipse cx="207.7" cy="726.2" rx="1.8" ry="2.1" fill="rgb(193,193,193)" opacity="0.85" filter="url(#blur05)"/>
<ellipse cx="50.4" cy="527.7" rx="2.0" ry="2.1" fill="rgb(185,185,185)" opacity="0.85" filter="url(#blur05)"/>
<ellipse cx="405.4" cy="487.4" rx="1.9" ry="1.5" fill="rgb(175,175,175)" opacity="0.85" filter="url(#blur05)"/>
<ellipse cx="331.2" cy="595.6" rx="1.2" ry="1.2" fill="rgb(179,179,179)" opacity="0.85" filter="url(#blur05)"/>
<ellipse cx="176.5" cy="571.6" rx="1.1" ry="0.9" fill="rgb(200,200,200)" opacity="0.85" filter="url(#blur05)"/>
<ellipse cx="386.0" cy="795.0" rx="2.1" ry="1.6" fill="rgb(204,204,204)" opacity="0.85" filter="url(#blur05)"/>
<ellipse cx="146.0" cy="476.0" rx="2.1" ry="1.9" fill="rgb(183,183,183)" opacity="0.85" filter="url(#blur05)"/>
<ellipse cx="42.8" cy="761.2" rx="1.1" ry="1.1" fill="rgb(206,206,206)" opacity="0.85" filter="url(#blur05)"/>
<ellipse cx="226.6" cy="599.7" rx="3.0" ry="2.9" fill="rgb(189,189,189)" opacity="0.85" filter="url(#blur05)"/>
<ellipse cx="365.7" cy="626.8" rx="2.2" ry="2.2" fill="rgb(198,198,198)" opacity="0.85" filter="url(#blur05)"/>
<ellipse cx="365.8" cy="737.0" rx="1.4" ry="0.9" fill="rgb(196,196,196)" opacity="0.85" filter="url(#blur05)"/>
<ellipse cx="392.2" cy="649.1" rx="1.6" ry="1.9" fill="rgb(173,173,173)" opacity="0.85" filter="url(#blur05)"/>
<ellipse cx="221.4" cy="667.7" rx="1.4" ry="1.2" fill="rgb(195,195,195)" opacity="0.85" filter="url(#blur05)"/>
<ellipse cx="139.9" cy="464.9" rx="5.8" ry="4.3" fill="rgb(184,184,184)" opacity="0.85" filter="url(#blur05)"/>
<ellipse cx="32.4" cy="652.7" rx="1.1" ry="1.3" fill="rgb(201,201,201)" opacity="0.85" filter="url(#blur05)"/>
<ellipse cx="45.6" cy="802.5" rx="1.0" ry="0.8" fill="rgb(168,168,168)" opacity="0.85" filter="url(#blur05)"/>
<ellipse cx="359.4" cy="438.2" rx="1.3" ry="1.4" fill="rgb(208,208,208)" opacity="0.85" filter="url(#blur05)"/>
<ellipse cx="281.3" cy="672.1" rx="1.2" ry="1.4" fill="rgb(187,187,187)" opacity="0.85" filter="url(#blur05)"/>
<ellipse cx="259.8" cy="642.7" rx="2.1" ry="2.3" fill="rgb(188,188,188)" opacity="0.85" filter="url(#blur05)"/>
<ellipse cx="303.2" cy="785.5" rx="0.8" ry="0.8" fill="rgb(204,204,204)" opacity="0.85" filter="url(#blur05)"/>
<ellipse cx="196.3" cy="765.8" rx="1.2" ry="1.2" fill="rgb(195,195,195)" opacity="0.85" filter="url(#blur05)"/>
<ellipse cx="382.3" cy="763.2" rx="0.9" ry="0.8" fill="rgb(195,195,195)" opacity="0.85" filter="url(#blur05)"/>
<ellipse cx="406.1" cy="473.2" rx="3.0" ry="1.8" fill="rgb(199,199,199)" opacity="0.85" filter="url(#blur05)"/>
<ellipse cx="305.9" cy="548.8" rx="5.1" ry="5.4" fill="rgb(185,185,185)" opacity="0.85" filter="url(#blur05)"/>
<ellipse cx="77.9" cy="598.1" rx="1.6" ry="2.3" fill="rgb(187,187,187)" opacity="0.85" filter="url(#blur05)"/>
<ellipse cx="78.2" cy="669.1" rx="2.4" ry="1.8" fill="rgb(175,175,175)" opacity="0.85" filter="url(#blur05)"/>
<ellipse cx="362.6" cy="461.7" rx="1.4" ry="1.7" fill="rgb(202,202,202)" opacity="0.85" filter="url(#blur05)"/>
<ellipse cx="179.7" cy="764.7" rx="1.7" ry="2.5" fill="rgb(168,168,168)" opacity="0.85" filter="url(#blur05)"/>
<ellipse cx="394.6" cy="643.5" rx="2.0" ry="1.4" fill="rgb(201,201,201)" opacity="0.85" filter="url(#blur05)"/>
<ellipse cx="121.5" cy="568.8" rx="1.9" ry="1.9" fill="rgb(188,188,188)" opacity="0.85" filter="url(#blur05)"/>
<ellipse cx="344.5" cy="646.3" rx="1.8" ry="1.2" fill="rgb(205,205,205)" opacity="0.85" filter="url(#blur05)"/>
<ellipse cx="301.7" cy="607.3" rx="2.6" ry="2.0" fill="rgb(207,207,207)" opacity="0.85" filter="url(#blur05)"/>
<ellipse cx="148.0" cy="577.5" rx="1.4" ry="1.4" fill="rgb(186,186,186)" opacity="0.85" filter="url(#blur05)"/>
<ellipse cx="252.5" cy="572.8" rx="0.9" ry="0.9" fill="rgb(203,203,203)" opacity="0.85" filter="url(#blur05)"/>
<ellipse cx="44.8" cy="698.9" rx="1.8" ry="2.1" fill="rgb(191,191,191)" opacity="0.85" filter="url(#blur05)"/>
<ellipse cx="211.1" cy="777.0" rx="0.8" ry="1.0" fill="rgb(201,201,201)" opacity="0.85" filter="url(#blur05)"/>
<ellipse cx="164.3" cy="782.2" rx="1.2" ry="1.5" fill="rgb(194,194,194)" opacity="0.85" filter="url(#blur05)"/>
<ellipse cx="356.8" cy="576.1" rx="6.1" ry="5.8" fill="rgb(180,180,180)" opacity="0.85" filter="url(#blur05)"/>
<ellipse cx="384.6" cy="668.2" rx="2.8" ry="3.2" fill="rgb(205,205,205)" opacity="0.85" filter="url(#blur05)"/>
<ellipse cx="356.8" cy="586.6" rx="1.9" ry="1.0" fill="rgb(202,202,202)" opacity="0.85" filter="url(#blur05)"/>
<ellipse cx="271.6" cy="457.5" rx="1.5" ry="1.1" fill="rgb(171,171,171)" opacity="0.85" filter="url(#blur05)"/>
<ellipse cx="26.2" cy="481.0" rx="2.1" ry="2.1" fill="rgb(172,172,172)" opacity="0.85" filter="url(#blur05)"/>
<ellipse cx="321.9" cy="617.9" rx="3.1" ry="1.9" fill="rgb(196,196,196)" opacity="0.85" filter="url(#blur05)"/>
<ellipse cx="398.4" cy="646.5" rx="2.2" ry="2.3" fill="rgb(183,183,183)" opacity="0.85" filter="url(#blur05)"/>
<ellipse cx="224.1" cy="701.2" rx="1.8" ry="2.0" fill="rgb(176,176,176)" opacity="0.85" filter="url(#blur05)"/>
<ellipse cx="214.0" cy="682.3" rx="3.2" ry="3.5" fill="rgb(176,176,176)" opacity="0.85" filter="url(#blur05)"/>
<ellipse cx="220.4" cy="775.4" rx="1.5" ry="1.3" fill="rgb(186,186,186)" opacity="0.85" filter="url(#blur05)"/>
<ellipse cx="115.0" cy="492.0" rx="1.4" ry="1.1" fill="rgb(193,193,193)" opacity="0.85" filter="url(#blur05)"/>
<ellipse cx="248.9" cy="771.3" rx="5.7" ry="5.0" fill="rgb(189,189,189)" opacity="0.85" filter="url(#blur05)"/>
<ellipse cx="342.1" cy="579.5" rx="3.2" ry="2.7" fill="rgb(178,178,178)" opacity="0.85" filter="url(#blur05)"/>
<ellipse cx="360.6" cy="443.9" rx="1.2" ry="1.2" fill="rgb(183,183,183)" opacity="0.85" filter="url(#blur05)"/>
<ellipse cx="346.3" cy="481.5" rx="3.0" ry="4.2" fill="rgb(179,179,179)" opacity="0.85" filter="url(#blur05)"/>
<ellipse cx="324.7" cy="739.3" rx="1.5" ry="1.6" fill="rgb(182,182,182)" opacity="0.85" filter="url(#blur05)"/>
<ellipse cx="57.8" cy="628.2" rx="1.2" ry="1.2" fill="rgb(176,176,176)" opacity="0.85" filter="url(#blur05)"/>
<ellipse cx="291.7" cy="615.2" rx="2.1" ry="2.0" fill="rgb(190,190,190)" opacity="0.85" filter="url(#blur05)"/>
<ellipse cx="252.4" cy="605.2" rx="2.0" ry="2.0" fill="rgb(185,185,185)" opacity="0.85" filter="url(#blur05)"/>
<ellipse cx="223.9" cy="566.3" rx="1.1" ry="1.0" fill="rgb(188,188,188)" opacity="0.85" filter="url(#blur05)"/>
<ellipse cx="227.1" cy="454.2" rx="2.2" ry="2.0" fill="rgb(188,188,188)" opacity="0.85" filter="url(#blur05)"/>
<ellipse cx="265.2" cy="594.9" rx="1.2" ry="1.3" fill="rgb(191,191,191)" opacity="0.85" filter="url(#blur05)"/>
<ellipse cx="157.8" cy="456.2" rx="1.2" ry="1.9" fill="rgb(173,173,173)" opacity="0.85" filter="url(#blur05)"/>
<ellipse cx="336.1" cy="558.7" rx="1.5" ry="1.9" fill="rgb(169,169,169)" opacity="0.85" filter="url(#blur05)"/>
<ellipse cx="356.4" cy="591.6" rx="2.8" ry="2.4" fill="rgb(209,209,209)" opacity="0.85" filter="url(#blur05)"/>
<ellipse cx="151.1" cy="691.7" rx="2.0" ry="2.1" fill="rgb(170,170,170)" opacity="0.85" filter="url(#blur05)"/>
<ellipse cx="343.3" cy="535.6" rx="1.4" ry="1.7" fill="rgb(201,201,201)" opacity="0.85" filter="url(#blur05)"/>
<ellipse cx="120.4" cy="768.0" rx="2.5" ry="3.3" fill="rgb(180,180,180)" opacity="0.85" filter="url(#blur05)"/>
<ellipse cx="104.4" cy="670.0" rx="1.1" ry="1.7" fill="rgb(201,201,201)" opacity="0.85" filter="url(#blur05)"/>
<ellipse cx="148.3" cy="459.7" rx="1.8" ry="1.6" fill="rgb(199,199,199)" opacity="0.85" filter="url(#blur05)"/>
<ellipse cx="386.6" cy="720.7" rx="2.0" ry="1.9" fill="rgb(201,201,201)" opacity="0.85" filter="url(#blur05)"/>
<ellipse cx="40.7" cy="722.4" rx="1.3" ry="1.3" fill="rgb(183,183,183)" opacity="0.85" filter="url(#blur05)"/>
<ellipse cx="61.8" cy="795.2" rx="3.7" ry="3.0" fill="rgb(206,206,206)" opacity="0.85" filter="url(#blur05)"/>
<ellipse cx="225.6" cy="473.8" rx="1.7" ry="1.8" fill="rgb(197,197,197)" opacity="0.85" filter="url(#blur05)"/>
<ellipse cx="16.7" cy="794.3" rx="1.3" ry="1.5" fill="rgb(172,172,172)" opacity="0.85" filter="url(#blur05)"/>
<ellipse cx="111.3" cy="726.9" rx="1.9" ry="2.0" fill="rgb(168,168,168)" opacity="0.85" filter="url(#blur05)"/>
<ellipse cx="315.7" cy="676.4" rx="1.9" ry="1.9" fill="rgb(189,189,189)" opacity="0.85" filter="url(#blur05)"/>
<ellipse cx="353.2" cy="531.1" rx="2.9" ry="2.0" fill="rgb(170,170,170)" opacity="0.85" filter="url(#blur05)"/>
<ellipse cx="54.6" cy="649.8" rx="3.6" ry="3.3" fill="rgb(186,186,186)" opacity="0.85" filter="url(#blur05)"/>
<ellipse cx="189.9" cy="555.3" rx="2.1" ry="1.4" fill="rgb(178,178,178)" opacity="0.85" filter="url(#blur05)"/>
<ellipse cx="18.3" cy="690.4" rx="0.9" ry="1.4" fill="rgb(189,189,189)" opacity="0.85" filter="url(#blur05)"/>
<ellipse cx="48.5" cy="483.7" rx="2.4" ry="1.9" fill="rgb(174,174,174)" opacity="0.85" filter="url(#blur05)"/>
<ellipse cx="407.4" cy="431.9" rx="1.4" ry="1.1" fill="rgb(169,169,169)" opacity="0.85" filter="url(#blur05)"/>
<ellipse cx="355.4" cy="611.7" rx="0.9" ry="1.1" fill="rgb(180,180,180)" opacity="0.85" filter="url(#blur05)"/>
<ellipse cx="367.9" cy="448.3" rx="1.2" ry="1.2" fill="rgb(178,178,178)" opacity="0.85" filter="url(#blur05)"/>
<ellipse cx="334.1" cy="431.4" rx="3.3" ry="3.2" fill="rgb(209,209,209)" opacity="0.85" filter="url(#blur05)"/>
<ellipse cx="359.7" cy="538.2" rx="2.2" ry="1.6" fill="rgb(183,183,183)" opacity="0.85" filter="url(#blur05)"/>
<ellipse cx="43.7" cy="593.3" rx="1.1" ry="1.8" fill="rgb(178,178,178)" opacity="0.85" filter="url(#blur05)"/>
<ellipse cx="206.0" cy="571.3" rx="2.6" ry="2.9" fill="rgb(185,185,185)" opacity="0.85" filter="url(#blur05)"/>
<ellipse cx="199.0" cy="636.6" rx="1.8" ry="3.2" fill="rgb(208,208,208)" opacity="0.85" filter="url(#blur05)"/>
<ellipse cx="85.1" cy="609.9" rx="1.5" ry="1.5" fill="rgb(181,181,181)" opacity="0.85" filter="url(#blur05)"/>
<ellipse cx="354.9" cy="808.6" rx="3.0" ry="2.3" fill="rgb(207,207,207)" opacity="0.85" filter="url(#blur05)"/>
<ellipse cx="357.1" cy="668.1" rx="1.7" ry="2.7" fill="rgb(211,211,211)" opacity="0.85" filter="url(#blur05)"/>
<ellipse cx="411.6" cy="584.1" rx="1.0" ry="1.0" fill="rgb(178,178,178)" opacity="0.85" filter="url(#blur05)"/>
<ellipse cx="192.4" cy="752.4" rx="2.3" ry="1.8" fill="rgb(169,169,169)" opacity="0.85" filter="url(#blur05)"/>
<ellipse cx="38.0" cy="436.1" rx="1.2" ry="1.6" fill="rgb(210,210,210)" opacity="0.85" filter="url(#blur05)"/>
<ellipse cx="206.5" cy="501.4" rx="1.5" ry="2.5" fill="rgb(180,180,180)" opacity="0.85" filter="url(#blur05)"/>
<ellipse cx="270.0" cy="611.2" rx="2.6" ry="2.6" fill="rgb(172,172,172)" opacity="0.85" filter="url(#blur05)"/>
<ellipse cx="268.0" cy="790.6" rx="2.8" ry="2.2" fill="rgb(188,188,188)" opacity="0.85" filter="url(#blur05)"/>
<ellipse cx="140.9" cy="529.9" rx="1.7" ry="1.3" fill="rgb(194,194,194)" opacity="0.85" filter="url(#blur05)"/>
<ellipse cx="224.2" cy="462.3" rx="3.4" ry="4.2" fill="rgb(178,178,178)" opacity="0.85" filter="url(#blur05)"/>
<ellipse cx="227.5" cy="793.4" rx="1.9" ry="1.5" fill="rgb(182,182,182)" opacity="0.85" filter="url(#blur05)"/>
<ellipse cx="226.2" cy="724.9" rx="4.5" ry="5.4" fill="rgb(182,182,182)" opacity="0.85" filter="url(#blur05)"/>
<ellipse cx="101.0" cy="751.3" rx="1.3" ry="1.0" fill="rgb(193,193,193)" opacity="0.85" filter="url(#blur05)"/>
<ellipse cx="290.6" cy="472.6" rx="1.1" ry="1.3" fill="rgb(190,190,190)" opacity="0.85" filter="url(#blur05)"/>
<ellipse cx="246.6" cy="487.5" rx="1.4" ry="1.4" fill="rgb(211,211,211)" opacity="0.85" filter="url(#blur05)"/>
<ellipse cx="106.3" cy="779.6" rx="1.7" ry="1.5" fill="rgb(185,185,185)" opacity="0.85" filter="url(#blur05)"/>
<ellipse cx="109.2" cy="706.6" rx="2.2" ry="2.0" fill="rgb(196,196,196)" opacity="0.85" filter="url(#blur05)"/>
<ellipse cx="282.0" cy="440.2" rx="3.9" ry="5.4" fill="rgb(198,198,198)" opacity="0.85" filter="url(#blur05)"/>
<ellipse cx="239.0" cy="628.2" rx="2.7" ry="2.5" fill="rgb(176,176,176)" opacity="0.85" filter="url(#blur05)"/>
<ellipse cx="215.9" cy="631.4" rx="2.7" ry="2.9" fill="rgb(209,209,209)" opacity="0.85" filter="url(#blur05)"/>
<ellipse cx="83.1" cy="655.0" rx="2.1" ry="2.6" fill="rgb(200,200,200)" opacity="0.85" filter="url(#blur05)"/>
<ellipse cx="395.7" cy="477.7" rx="1.0" ry="0.9" fill="rgb(196,196,196)" opacity="0.85" filter="url(#blur05)"/>
<ellipse cx="17.0" cy="659.8" rx="6.1" ry="5.8" fill="rgb(170,170,170)" opacity="0.85" filter="url(#blur05)"/>
<ellipse cx="292.5" cy="667.1" rx="1.5" ry="1.2" fill="rgb(210,210,210)" opacity="0.85" filter="url(#blur05)"/>
<ellipse cx="74.8" cy="590.7" rx="1.7" ry="1.6" fill="rgb(198,198,198)" opacity="0.85" filter="url(#blur05)"/>
<ellipse cx="15.4" cy="626.7" rx="2.3" ry="1.7" fill="rgb(201,201,201)" opacity="0.85" filter="url(#blur05)"/>
<ellipse cx="162.1" cy="689.5" rx="2.0" ry="2.3" fill="rgb(189,189,189)" opacity="0.85" filter="url(#blur05)"/>
<ellipse cx="137.4" cy="485.4" rx="2.1" ry="2.1" fill="rgb(172,172,172)" opacity="0.85" filter="url(#blur05)"/>
<ellipse cx="65.4" cy="436.3" rx="3.1" ry="4.0" fill="rgb(196,196,196)" opacity="0.85" filter="url(#blur05)"/>
<ellipse cx="79.2" cy="475.2" rx="1.8" ry="2.3" fill="rgb(195,195,195)" opacity="0.85" filter="url(#blur05)"/>
<ellipse cx="225.2" cy="652.8" rx="1.6" ry="2.2" fill="rgb(181,181,181)" opacity="0.85" filter="url(#blur05)"/>
<ellipse cx="211.4" cy="659.7" rx="2.1" ry="1.8" fill="rgb(171,171,171)" opacity="0.85" filter="url(#blur05)"/>
<ellipse cx="115.3" cy="589.0" rx="1.0" ry="0.8" fill="rgb(187,187,187)" opacity="0.85" filter="url(#blur05)"/>
<ellipse cx="81.1" cy="675.8" rx="1.5" ry="1.5" fill="rgb(195,195,195)" opacity="0.85" filter="url(#blur05)"/>
<ellipse cx="333.2" cy="437.8" rx="1.9" ry="2.7" fill="rgb(188,188,188)" opacity="0.85" filter="url(#blur05)"/>
<ellipse cx="187.0" cy="658.6" rx="3.1" ry="2.6" fill="rgb(203,203,203)" opacity="0.85" filter="url(#blur05)"/>
<ellipse cx="22.9" cy="684.2" rx="2.0" ry="1.5" fill="rgb(170,170,170)" opacity="0.85" filter="url(#blur05)"/>
<ellipse cx="126.0" cy="583.0" rx="2.0" ry="1.8" fill="rgb(204,204,204)" opacity="0.85" filter="url(#blur05)"/>
<ellipse cx="317.5" cy="746.2" rx="5.5" ry="6.0" fill="rgb(190,190,190)" opacity="0.85" filter="url(#blur05)"/>
<ellipse cx="247.2" cy="735.8" rx="2.3" ry="1.4" fill="rgb(180,180,180)" opacity="0.85" filter="url(#blur05)"/>
<ellipse cx="382.7" cy="712.7" rx="1.7" ry="1.8" fill="rgb(209,209,209)" opacity="0.85" filter="url(#blur05)"/>
<ellipse cx="402.0" cy="573.3" rx="1.0" ry="1.5" fill="rgb(192,192,192)" opacity="0.85" filter="url(#blur05)"/>
<ellipse cx="59.7" cy="492.1" rx="3.0" ry="1.9" fill="rgb(188,188,188)" opacity="0.85" filter="url(#blur05)"/>
<ellipse cx="169.9" cy="722.0" rx="2.4" ry="2.1" fill="rgb(181,181,181)" opacity="0.85" filter="url(#blur05)"/>
<ellipse cx="321.3" cy="755.9" rx="0.7" ry="1.1" fill="rgb(185,185,185)" opacity="0.85" filter="url(#blur05)"/>
<ellipse cx="404.5" cy="793.8" rx="3.5" ry="3.3" fill="rgb(170,170,170)" opacity="0.85" filter="url(#blur05)"/>
<ellipse cx="70.9" cy="453.4" rx="1.2" ry="0.9" fill="rgb(192,192,192)" opacity="0.85" filter="url(#blur05)"/>
<ellipse cx="410.5" cy="614.7" rx="1.1" ry="1.0" fill="rgb(211,211,211)" opacity="0.85" filter="url(#blur05)"/>
<ellipse cx="38.2" cy="623.8" rx="5.7" ry="5.0" fill="rgb(197,197,197)" opacity="0.85" filter="url(#blur05)"/>
<ellipse cx="27.5" cy="759.3" rx="1.1" ry="0.9" fill="rgb(194,194,194)" opacity="0.85" filter="url(#blur05)"/>
<ellipse cx="112.3" cy="441.0" rx="3.3" ry="3.3" fill="rgb(193,193,193)" opacity="0.85" filter="url(#blur05)"/>
<ellipse cx="153.3" cy="535.0" rx="2.6" ry="1.5" fill="rgb(169,169,169)" opacity="0.85" filter="url(#blur05)"/>
<ellipse cx="97.6" cy="790.6" rx="1.9" ry="1.9" fill="rgb(169,169,169)" opacity="0.85" filter="url(#blur05)"/>
<ellipse cx="235.6" cy="542.7" rx="2.4" ry="1.5" fill="rgb(170,170,170)" opacity="0.85" filter="url(#blur05)"/>
<ellipse cx="380.9" cy="462.3" rx="2.8" ry="2.0" fill="rgb(191,191,191)" opacity="0.85" filter="url(#blur05)"/>
<ellipse cx="278.7" cy="596.2" rx="2.5" ry="2.2" fill="rgb(203,203,203)" opacity="0.85" filter="url(#blur05)"/>
<ellipse cx="119.4" cy="734.9" rx="2.0" ry="2.1" fill="rgb(199,199,199)" opacity="0.85" filter="url(#blur05)"/>
<ellipse cx="351.3" cy="717.7" rx="5.1" ry="6.4" fill="rgb(173,173,173)" opacity="0.85" filter="url(#blur05)"/>
<ellipse cx="32.3" cy="506.0" rx="1.6" ry="1.1" fill="rgb(176,176,176)" opacity="0.85" filter="url(#blur05)"/>
<ellipse cx="175.2" cy="534.2" rx="1.4" ry="1.5" fill="rgb(192,192,192)" opacity="0.85" filter="url(#blur05)"/>
<ellipse cx="141.4" cy="805.0" rx="1.8" ry="2.8" fill="rgb(193,193,193)" opacity="0.85" filter="url(#blur05)"/>
<ellipse cx="178.1" cy="478.3" rx="1.0" ry="0.9" fill="rgb(185,185,185)" opacity="0.85" filter="url(#blur05)"/>
<ellipse cx="181.2" cy="470.7" rx="1.0" ry="0.8" fill="rgb(205,205,205)" opacity="0.85" filter="url(#blur05)"/>
<ellipse cx="201.4" cy="595.2" rx="1.7" ry="2.4" fill="rgb(194,194,194)" opacity="0.85" filter="url(#blur05)"/>
<ellipse cx="150.1" cy="754.8" rx="1.7" ry="2.0" fill="rgb(176,176,176)" opacity="0.85" filter="url(#blur05)"/>
<ellipse cx="366.7" cy="436.8" rx="1.7" ry="1.6" fill="rgb(171,171,171)" opacity="0.85" filter="url(#blur05)"/>
<ellipse cx="70.1" cy="532.6" rx="1.4" ry="1.3" fill="rgb(185,185,185)" opacity="0.85" filter="url(#blur05)"/>
<ellipse cx="160.3" cy="460.9" rx="1.7" ry="2.0" fill="rgb(173,173,173)" opacity="0.85" filter="url(#blur05)"/>
<ellipse cx="131.0" cy="572.0" rx="1.8" ry="2.8" fill="rgb(172,172,172)" opacity="0.85" filter="url(#blur05)"/>
<ellipse cx="411.8" cy="745.3" rx="2.1" ry="1.4" fill="rgb(211,211,211)" opacity="0.85" filter="url(#blur05)"/>
<ellipse cx="53.0" cy="685.4" rx="1.0" ry="1.2" fill="rgb(211,211,211)" opacity="0.85" filter="url(#blur05)"/>
<ellipse cx="124.9" cy="546.1" rx="1.5" ry="1.7" fill="rgb(198,198,198)" opacity="0.85" filter="url(#blur05)"/>
<ellipse cx="81.5" cy="752.1" rx="2.5" ry="2.9" fill="rgb(171,171,171)" opacity="0.85" filter="url(#blur05)"/>
<ellipse cx="28.5" cy="651.6" rx="2.9" ry="2.3" fill="rgb(209,209,209)" opacity="0.85" filter="url(#blur05)"/>
<ellipse cx="398.2" cy="784.3" rx="1.6" ry="2.6" fill="rgb(176,176,176)" opacity="0.85" filter="url(#blur05)"/>
<ellipse cx="265.8" cy="769.8" rx="1.1" ry="0.8" fill="rgb(186,186,186)" opacity="0.85" filter="url(#blur05)"/>
<ellipse cx="324.0" cy="437.3" rx="2.8" ry="2.0" fill="rgb(190,190,190)" opacity="0.85" filter="url(#blur05)"/>
<ellipse cx="329.3" cy="522.1" rx="1.9" ry="2.2" fill="rgb(210,210,210)" opacity="0.85" filter="url(#blur05)"/>
<ellipse cx="202.0" cy="478.7" rx="0.9" ry="0.6" fill="rgb(188,188,188)" opacity="0.85" filter="url(#blur05)"/>
<ellipse cx="114.3" cy="597.3" rx="2.5" ry="2.6" fill="rgb(177,177,177)" opacity="0.85" filter="url(#blur05)"/>
<ellipse cx="74.8" cy="456.5" rx="1.3" ry="1.4" fill="rgb(169,169,169)" opacity="0.85" filter="url(#blur05)"/>
<ellipse cx="403.7" cy="725.5" rx="1.1" ry="1.8" fill="rgb(210,210,210)" opacity="0.85" filter="url(#blur05)"/>
<ellipse cx="9.2" cy="450.9" rx="1.4" ry="1.4" fill="rgb(175,175,175)" opacity="0.85" filter="url(#blur05)"/>
<ellipse cx="381.0" cy="617.2" rx="2.1" ry="1.5" fill="rgb(180,180,180)" opacity="0.85" filter="url(#blur05)"/>
<ellipse cx="389.8" cy="713.3" rx="2.5" ry="2.8" fill="rgb(203,203,203)" opacity="0.85" filter="url(#blur05)"/>
<ellipse cx="225.8" cy="787.7" rx="2.2" ry="2.4" fill="rgb(185,185,185)" opacity="0.85" filter="url(#blur05)"/>
<ellipse cx="390.2" cy="433.2" rx="2.3" ry="3.1" fill="rgb(174,174,174)" opacity="0.85" filter="url(#blur05)"/>
<ellipse cx="6.8" cy="483.4" rx="1.0" ry="1.5" fill="rgb(199,199,199)" opacity="0.85" filter="url(#blur05)"/>
<ellipse cx="10.7" cy="664.1" rx="1.5" ry="2.4" fill="rgb(195,195,195)" opacity="0.85" filter="url(#blur05)"/>
<ellipse cx="115" cy="580" rx="5" ry="7" fill="#222" opacity="0.85"/>
<ellipse cx="380" cy="552" rx="4" ry="5" fill="#222" opacity="0.85"/>
<ellipse cx="375" cy="680" rx="4" ry="5" fill="#222" opacity="0.85"/>
<ellipse cx="360" cy="745" rx="4" ry="6" fill="#222" opacity="0.85"/>
<ellipse cx="222" cy="487" rx="3" ry="4" fill="#222" opacity="0.85"/>
<ellipse cx="283" cy="633" rx="3" ry="3.5" fill="#222" opacity="0.85"/>
<ellipse cx="323" cy="745" rx="3" ry="3" fill="#222" opacity="0.85"/>
<ellipse cx="185" cy="762" rx="3" ry="3" fill="#222" opacity="0.85"/>
<ellipse cx="400" cy="475" rx="3" ry="4" fill="#222" opacity="0.85"/>
<ellipse cx="222" cy="714" rx="3" ry="3" fill="#222" opacity="0.85"/>
<ellipse cx="200" cy="444" rx="5" ry="8" fill="#222" opacity="0.85"/>
<path d="M52,552 L126,496" stroke="#d2d2d2" stroke-width="4.5" stroke-linecap="round" filter="url(#blur05)"/>
<ellipse cx="132" cy="524" rx="18.0" ry="19.8" fill="#5a5a5a" opacity="0.5" filter="url(#blur1)"/>
<ellipse cx="124.4" cy="511.8" rx="12.1" ry="11.8" fill="rgb(203,203,203)" filter="url(#blur05)"/>
<ellipse cx="130.8" cy="517.7" rx="9.3" ry="10.2" fill="rgb(209,209,209)" filter="url(#blur05)"/>
<ellipse cx="131.9" cy="512.5" rx="11.6" ry="16.3" fill="rgb(192,192,192)" filter="url(#blur05)"/>
<ellipse cx="117.9" cy="521.4" rx="12.0" ry="14.4" fill="rgb(184,184,184)" filter="url(#blur05)"/>
<ellipse cx="125.0" cy="526.3" rx="14.3" ry="10.3" fill="rgb(194,194,194)" filter="url(#blur05)"/>
<ellipse cx="38" cy="500" rx="9.0" ry="12.6" fill="#5a5a5a" opacity="0.5" filter="url(#blur1)"/>
<ellipse cx="38.9" cy="489.9" rx="7.2" ry="10.0" fill="rgb(192,192,192)" filter="url(#blur05)"/>
<ellipse cx="31.5" cy="498.1" rx="6.0" ry="8.1" fill="rgb(182,182,182)" filter="url(#blur05)"/>
<ellipse cx="34.6" cy="492.7" rx="5.4" ry="6.9" fill="rgb(181,181,181)" filter="url(#blur05)"/>
<ellipse cx="40.1" cy="501.5" rx="5.2" ry="7.6" fill="rgb(181,181,181)" filter="url(#blur05)"/>
<ellipse cx="36.1" cy="498.2" rx="5.2" ry="6.4" fill="rgb(191,191,191)" filter="url(#blur05)"/>
<ellipse cx="217" cy="568" rx="9.0" ry="9.0" fill="#5a5a5a" opacity="0.5" filter="url(#blur1)"/>
<ellipse cx="218.4" cy="561.9" rx="5.6" ry="7.4" fill="rgb(201,201,201)" filter="url(#blur05)"/>
<ellipse cx="212.1" cy="571.1" rx="5.2" ry="6.7" fill="rgb(212,212,212)" filter="url(#blur05)"/>
<ellipse cx="218.0" cy="568.9" rx="5.2" ry="6.4" fill="rgb(221,221,221)" filter="url(#blur05)"/>
<ellipse cx="213.6" cy="566.7" rx="5.6" ry="6.9" fill="rgb(200,200,200)" filter="url(#blur05)"/>
<ellipse cx="214.5" cy="566.8" rx="5.6" ry="6.6" fill="rgb(215,215,215)" filter="url(#blur05)"/>
<ellipse cx="82" cy="559" rx="6.3" ry="6.3" fill="#5a5a5a" opacity="0.5" filter="url(#blur1)"/>
<ellipse cx="76.8" cy="554.1" rx="4.7" ry="4.8" fill="rgb(180,180,180)" filter="url(#blur05)"/>
<ellipse cx="77.6" cy="554.2" rx="4.0" ry="4.3" fill="rgb(169,169,169)" filter="url(#blur05)"/>
<ellipse cx="81.5" cy="554.1" rx="4.0" ry="3.2" fill="rgb(179,179,179)" filter="url(#blur05)"/>
<ellipse cx="79.9" cy="560.3" rx="5.1" ry="3.8" fill="rgb(162,162,162)" filter="url(#blur05)"/>
<ellipse cx="79.5" cy="556.1" rx="3.5" ry="4.0" fill="rgb(179,179,179)" filter="url(#blur05)"/>
<ellipse cx="252" cy="699" rx="9.9" ry="7.2" fill="#5a5a5a" opacity="0.5" filter="url(#blur1)"/>
<ellipse cx="247.2" cy="695.5" rx="5.4" ry="4.9" fill="rgb(186,186,186)" filter="url(#blur05)"/>
<ellipse cx="257.3" cy="698.3" rx="5.3" ry="5.7" fill="rgb(189,189,189)" filter="url(#blur05)"/>
<ellipse cx="246.4" cy="699.5" rx="5.0" ry="4.1" fill="rgb(177,177,177)" filter="url(#blur05)"/>
<ellipse cx="246.2" cy="697.1" rx="6.5" ry="4.7" fill="rgb(190,190,190)" filter="url(#blur05)"/>
<ellipse cx="257.2" cy="693.6" rx="7.6" ry="4.6" fill="rgb(172,172,172)" filter="url(#blur05)"/>
<ellipse cx="269" cy="758" rx="9.0" ry="8.1" fill="#5a5a5a" opacity="0.5" filter="url(#blur1)"/>
<ellipse cx="263.4" cy="756.0" rx="6.6" ry="5.9" fill="rgb(190,190,190)" filter="url(#blur05)"/>
<ellipse cx="269.5" cy="756.9" rx="5.1" ry="4.6" fill="rgb(195,195,195)" filter="url(#blur05)"/>
<ellipse cx="273.4" cy="758.0" rx="7.2" ry="5.0" fill="rgb(178,178,178)" filter="url(#blur05)"/>
<ellipse cx="265.8" cy="758.5" rx="6.9" ry="6.6" fill="rgb(190,190,190)" filter="url(#blur05)"/>
<ellipse cx="261.9" cy="762.1" rx="7.0" ry="4.7" fill="rgb(206,206,206)" filter="url(#blur05)"/>
<ellipse cx="135" cy="788" rx="9.0" ry="7.2" fill="#5a5a5a" opacity="0.5" filter="url(#blur1)"/>
<ellipse cx="133.1" cy="780.9" rx="6.1" ry="4.4" fill="rgb(194,194,194)" filter="url(#blur05)"/>
<ellipse cx="130.2" cy="785.3" rx="6.1" ry="4.7" fill="rgb(164,164,164)" filter="url(#blur05)"/>
<ellipse cx="133.8" cy="789.0" rx="6.0" ry="5.0" fill="rgb(161,161,161)" filter="url(#blur05)"/>
<ellipse cx="133.4" cy="784.0" rx="6.0" ry="5.1" fill="rgb(198,198,198)" filter="url(#blur05)"/>
<ellipse cx="136.2" cy="783.3" rx="5.1" ry="6.0" fill="rgb(150,150,150)" filter="url(#blur05)"/>
<ellipse cx="107" cy="777" rx="8.1" ry="6.3" fill="#5a5a5a" opacity="0.5" filter="url(#blur1)"/>
<ellipse cx="103.3" cy="774.0" rx="5.2" ry="3.7" fill="rgb(177,177,177)" filter="url(#blur05)"/>
<ellipse cx="104.8" cy="779.5" rx="6.4" ry="3.5" fill="rgb(168,168,168)" filter="url(#blur05)"/>
<ellipse cx="113.5" cy="772.6" rx="5.9" ry="4.2" fill="rgb(185,185,185)" filter="url(#blur05)"/>
<ellipse cx="108.2" cy="776.0" rx="5.4" ry="5.1" fill="rgb(182,182,182)" filter="url(#blur05)"/>
<ellipse cx="110.9" cy="775.0" rx="4.6" ry="3.8" fill="rgb(197,197,197)" filter="url(#blur05)"/>
<ellipse cx="357" cy="698" rx="9.9" ry="6.3" fill="#5a5a5a" opacity="0.5" filter="url(#blur1)"/>
<ellipse cx="352.9" cy="690.8" rx="5.5" ry="3.2" fill="rgb(184,184,184)" filter="url(#blur05)"/>
<ellipse cx="351.1" cy="697.6" rx="6.9" ry="5.2" fill="rgb(167,167,167)" filter="url(#blur05)"/>
<ellipse cx="361.8" cy="700.2" rx="8.0" ry="3.4" fill="rgb(183,183,183)" filter="url(#blur05)"/>
<ellipse cx="354.5" cy="695.8" rx="6.0" ry="4.5" fill="rgb(169,169,169)" filter="url(#blur05)"/>
<ellipse cx="365.7" cy="695.5" rx="7.7" ry="4.2" fill="rgb(167,167,167)" filter="url(#blur05)"/>
<ellipse cx="282" cy="636" rx="6.3" ry="5.4" fill="#5a5a5a" opacity="0.5" filter="url(#blur1)"/>
<ellipse cx="282.9" cy="629.4" rx="5.0" ry="3.5" fill="rgb(166,166,166)" filter="url(#blur05)"/>
<ellipse cx="277.2" cy="636.2" rx="3.7" ry="3.1" fill="rgb(190,190,190)" filter="url(#blur05)"/>
<ellipse cx="278.7" cy="635.5" rx="3.2" ry="3.0" fill="rgb(187,187,187)" filter="url(#blur05)"/>
<ellipse cx="279.9" cy="636.8" rx="4.0" ry="4.1" fill="rgb(193,193,193)" filter="url(#blur05)"/>
<ellipse cx="276.8" cy="632.5" rx="4.6" ry="3.2" fill="rgb(184,184,184)" filter="url(#blur05)"/>
<ellipse cx="387" cy="612" rx="6.3" ry="7.2" fill="#5a5a5a" opacity="0.5" filter="url(#blur1)"/>
<ellipse cx="381.0" cy="610.3" rx="5.1" ry="3.8" fill="rgb(186,186,186)" filter="url(#blur05)"/>
<ellipse cx="385.7" cy="610.8" rx="4.7" ry="5.3" fill="rgb(205,205,205)" filter="url(#blur05)"/>
<ellipse cx="387.0" cy="609.1" rx="4.0" ry="5.2" fill="rgb(186,186,186)" filter="url(#blur05)"/>
<ellipse cx="386.3" cy="613.2" rx="3.3" ry="4.5" fill="rgb(204,204,204)" filter="url(#blur05)"/>
<ellipse cx="385.0" cy="612.0" rx="4.4" ry="5.0" fill="rgb(198,198,198)" filter="url(#blur05)"/>
<ellipse cx="362" cy="487" rx="6.3" ry="7.2" fill="#5a5a5a" opacity="0.5" filter="url(#blur1)"/>
<ellipse cx="359.7" cy="484.0" rx="5.0" ry="4.8" fill="rgb(205,205,205)" filter="url(#blur05)"/>
<ellipse cx="359.6" cy="484.2" rx="4.1" ry="4.7" fill="rgb(194,194,194)" filter="url(#blur05)"/>
<ellipse cx="360.2" cy="485.3" rx="3.7" ry="4.4" fill="rgb(201,201,201)" filter="url(#blur05)"/>
<ellipse cx="359.2" cy="484.2" rx="3.2" ry="6.0" fill="rgb(182,182,182)" filter="url(#blur05)"/>
<ellipse cx="357.6" cy="487.4" rx="4.5" ry="4.1" fill="rgb(184,184,184)" filter="url(#blur05)"/>
<ellipse cx="340" cy="542" rx="6.3" ry="5.4" fill="#5a5a5a" opacity="0.5" filter="url(#blur1)"/>
<ellipse cx="338.4" cy="541.6" rx="3.5" ry="3.0" fill="rgb(202,202,202)" filter="url(#blur05)"/>
<ellipse cx="335.4" cy="542.5" rx="3.2" ry="2.8" fill="rgb(182,182,182)" filter="url(#blur05)"/>
<ellipse cx="339.1" cy="541.9" rx="3.2" ry="4.4" fill="rgb(215,215,215)" filter="url(#blur05)"/>
<ellipse cx="337.5" cy="537.6" rx="3.6" ry="4.5" fill="rgb(182,182,182)" filter="url(#blur05)"/>
<ellipse cx="336.2" cy="537.2" rx="3.7" ry="4.0" fill="rgb(174,174,174)" filter="url(#blur05)"/>
<ellipse cx="294" cy="529" rx="4.5" ry="8.1" fill="#5a5a5a" opacity="0.5" filter="url(#blur1)"/>
<ellipse cx="295.5" cy="530.3" rx="3.5" ry="5.9" fill="rgb(211,211,211)" filter="url(#blur05)"/>
<ellipse cx="292.9" cy="527.2" rx="2.7" ry="5.4" fill="rgb(181,181,181)" filter="url(#blur05)"/>
<ellipse cx="290.8" cy="524.8" rx="2.6" ry="6.5" fill="rgb(200,200,200)" filter="url(#blur05)"/>
<ellipse cx="289.7" cy="526.5" rx="3.7" ry="6.5" fill="rgb(197,197,197)" filter="url(#blur05)"/>
<ellipse cx="294.1" cy="530.6" rx="3.1" ry="4.3" fill="rgb(173,173,173)" filter="url(#blur05)"/>
<ellipse cx="192" cy="653" rx="5.4" ry="5.4" fill="#5a5a5a" opacity="0.5" filter="url(#blur1)"/>
<ellipse cx="189.4" cy="650.2" rx="4.0" ry="2.8" fill="rgb(194,194,194)" filter="url(#blur05)"/>
<ellipse cx="186.5" cy="651.4" rx="3.2" ry="2.8" fill="rgb(198,198,198)" filter="url(#blur05)"/>
<ellipse cx="188.9" cy="650.2" rx="3.2" ry="3.2" fill="rgb(204,204,204)" filter="url(#blur05)"/>
<ellipse cx="190.8" cy="652.1" rx="4.3" ry="3.5" fill="rgb(202,202,202)" filter="url(#blur05)"/>
<ellipse cx="190.9" cy="650.6" rx="3.4" ry="4.0" fill="rgb(177,177,177)" filter="url(#blur05)"/>
<ellipse cx="77" cy="572" rx="5.4" ry="5.4" fill="#5a5a5a" opacity="0.5" filter="url(#blur1)"/>
<ellipse cx="75.7" cy="570.7" rx="3.1" ry="4.3" fill="rgb(202,202,202)" filter="url(#blur05)"/>
<ellipse cx="75.0" cy="567.0" rx="3.9" ry="4.2" fill="rgb(206,206,206)" filter="url(#blur05)"/>
<ellipse cx="75.4" cy="570.6" rx="3.5" ry="3.7" fill="rgb(195,195,195)" filter="url(#blur05)"/>
<ellipse cx="73.2" cy="569.2" rx="3.1" ry="3.9" fill="rgb(214,214,214)" filter="url(#blur05)"/>
<ellipse cx="76.7" cy="571.5" rx="2.9" ry="3.3" fill="rgb(209,209,209)" filter="url(#blur05)"/>
<ellipse cx="67" cy="692" rx="6.3" ry="5.4" fill="#5a5a5a" opacity="0.5" filter="url(#blur1)"/>
<ellipse cx="62.5" cy="690.8" rx="4.6" ry="4.2" fill="rgb(184,184,184)" filter="url(#blur05)"/>
<ellipse cx="63.3" cy="690.7" rx="3.8" ry="3.6" fill="rgb(180,180,180)" filter="url(#blur05)"/>
<ellipse cx="61.2" cy="693.8" rx="4.9" ry="3.1" fill="rgb(191,191,191)" filter="url(#blur05)"/>
<ellipse cx="64.1" cy="689.5" rx="5.1" ry="4.2" fill="rgb(196,196,196)" filter="url(#blur05)"/>
<ellipse cx="65.5" cy="689.0" rx="4.0" ry="3.5" fill="rgb(202,202,202)" filter="url(#blur05)"/>
<ellipse cx="402" cy="722" rx="6.3" ry="8.1" fill="#5a5a5a" opacity="0.5" filter="url(#blur1)"/>
<ellipse cx="399.2" cy="718.5" rx="3.6" ry="6.6" fill="rgb(178,178,178)" filter="url(#blur05)"/>
<ellipse cx="396.8" cy="718.8" rx="3.8" ry="4.1" fill="rgb(150,150,150)" filter="url(#blur05)"/>
<ellipse cx="403.1" cy="720.9" rx="3.7" ry="6.0" fill="rgb(169,169,169)" filter="url(#blur05)"/>
<ellipse cx="403.3" cy="715.1" rx="4.3" ry="6.7" fill="rgb(161,161,161)" filter="url(#blur05)"/>
<ellipse cx="402.0" cy="719.0" rx="4.4" ry="5.5" fill="rgb(172,172,172)" filter="url(#blur05)"/>
<ellipse cx="170" cy="550" rx="5.4" ry="4.5" fill="#5a5a5a" opacity="0.5" filter="url(#blur1)"/>
<ellipse cx="172.2" cy="549.5" rx="4.5" ry="3.3" fill="rgb(182,182,182)" filter="url(#blur05)"/>
<ellipse cx="169.8" cy="549.6" rx="2.7" ry="2.5" fill="rgb(177,177,177)" filter="url(#blur05)"/>
<ellipse cx="168.4" cy="546.0" rx="3.7" ry="2.3" fill="rgb(182,182,182)" filter="url(#blur05)"/>
<ellipse cx="168.1" cy="551.2" rx="3.6" ry="3.7" fill="rgb(202,202,202)" filter="url(#blur05)"/>
<ellipse cx="167.1" cy="551.1" rx="3.9" ry="3.6" fill="rgb(194,194,194)" filter="url(#blur05)"/>
<ellipse cx="182" cy="627" rx="4.5" ry="5.4" fill="#5a5a5a" opacity="0.5" filter="url(#blur1)"/>
<ellipse cx="183.0" cy="626.4" rx="3.1" ry="4.1" fill="rgb(166,166,166)" filter="url(#blur05)"/>
<ellipse cx="178.5" cy="628.1" rx="2.8" ry="4.1" fill="rgb(192,192,192)" filter="url(#blur05)"/>
<ellipse cx="179.0" cy="625.7" rx="3.5" ry="2.8" fill="rgb(176,176,176)" filter="url(#blur05)"/>
<ellipse cx="179.6" cy="626.0" rx="2.9" ry="3.1" fill="rgb(190,190,190)" filter="url(#blur05)"/>
<ellipse cx="180.6" cy="627.8" rx="2.6" ry="4.0" fill="rgb(192,192,192)" filter="url(#blur05)"/>
</g>
<rect x="4" y="810.3" width="410" height="1.6" fill="#d0d0d0"/>
<rect x="4" y="811.9" width="410" height="24" fill="#050505"/>
<text x="24.4" y="822.2" font-size="10.5" fill="#dcdcdc" text-anchor="middle" font-weight="bold" letter-spacing="-0.3">WD</text>
<text x="24.4" y="834.4" font-size="11.3" fill="#dcdcdc" text-anchor="middle" font-weight="bold" letter-spacing="-0.4">9.7 mm</text>
<text x="67.5" y="822.2" font-size="10.5" fill="#dcdcdc" text-anchor="middle" font-weight="bold" letter-spacing="-0.3">mag</text>
<text x="67.5" y="834.4" font-size="11.3" fill="#dcdcdc" text-anchor="middle" font-weight="bold" letter-spacing="-0.4">20 000 x</text>
<text x="106.7" y="822.2" font-size="10.5" fill="#dcdcdc" text-anchor="middle" font-weight="bold" letter-spacing="-0.3">mode</text>
<text x="106.7" y="834.4" font-size="11.3" fill="#dcdcdc" text-anchor="middle" font-weight="bold" letter-spacing="-0.4">SE</text>
<text x="135.0" y="822.2" font-size="10.5" fill="#dcdcdc" text-anchor="middle" font-weight="bold" letter-spacing="-0.3">det</text>
<text x="135.0" y="834.4" font-size="11.3" fill="#dcdcdc" text-anchor="middle" font-weight="bold" letter-spacing="-0.4">ETD</text>
<text x="174.4" y="822.2" font-size="10.5" fill="#dcdcdc" text-anchor="middle" font-weight="bold" letter-spacing="-0.3">pressure</text>
<text x="174.4" y="834.4" font-size="11.3" fill="#dcdcdc" text-anchor="middle" font-weight="bold" letter-spacing="-0.4">4.36e-4 Pa</text>
<text x="224.5" y="822.2" font-size="10.5" fill="#dcdcdc" text-anchor="middle" font-weight="bold" letter-spacing="-0.3">HV</text>
<text x="224.5" y="834.4" font-size="11.3" fill="#dcdcdc" text-anchor="middle" font-weight="bold" letter-spacing="-0.4">10.00 kV</text>
<rect x="44.2" y="811.9" width="1.3" height="24" fill="#8a8a8a"/>
<rect x="89.6" y="811.9" width="1.3" height="24" fill="#8a8a8a"/>
<rect x="122.5" y="811.9" width="1.3" height="24" fill="#8a8a8a"/>
<rect x="146.3" y="811.9" width="1.3" height="24" fill="#8a8a8a"/>
<rect x="201.4" y="811.9" width="1.3" height="24" fill="#8a8a8a"/>
<rect x="246.4" y="811.9" width="1.3" height="24" fill="#8a8a8a"/>
<rect x="247" y="823.7" width="167" height="1.2" fill="#8a8a8a"/>
<rect x="259.0" y="817.1" width="61.5" height="2.2" fill="#e6e6e6"/>
<rect x="342.5" y="817.1" width="61.5" height="2.2" fill="#e6e6e6"/>
<text x="330.5" y="822.2" font-size="10.5" fill="#dcdcdc" text-anchor="middle" font-weight="bold">5 µm</text>
<text x="249.0" y="834.4" font-size="11.3" fill="#dcdcdc" font-weight="bold" letter-spacing="-0.4" textLength="163.0" lengthAdjust="spacingAndGlyphs">CMAB SEMQUANTA FEI 200 FEG E</text>
<text x="9" y="464" font-size="37" fill="#f4f4f4">(b)</text>
<clipPath id="clipC"><rect x="427" y="3" width="412" height="408"/></clipPath>
<g clip-path="url(#clipC)">
<rect x="427" y="3" width="412" height="408" fill="#000"/>
<radialGradient id="dgC" gradientUnits="userSpaceOnUse" cx="661.6" cy="181.4" r="236.4" fx="677.4" fy="165.6">
  <stop offset="0.000" stop-color="rgb(202,8,6)"/>
  <stop offset="0.500" stop-color="rgb(202,8,6)"/>
  <stop offset="0.600" stop-color="rgb(202,8,6)"/>
  <stop offset="0.650" stop-color="rgb(198,8,6)"/>
  <stop offset="0.700" stop-color="rgb(192,8,6)"/>
  <stop offset="0.750" stop-color="rgb(181,7,5)"/>
  <stop offset="0.800" stop-color="rgb(170,7,5)"/>
  <stop offset="0.850" stop-color="rgb(150,6,4)"/>
  <stop offset="0.900" stop-color="rgb(130,5,4)"/>
  <stop offset="0.950" stop-color="rgb(101,4,3)"/>
  <stop offset="1.000" stop-color="rgb(65,3,2)"/>
</radialGradient>
<path d="M437.1,205.0 L437.3,196.2 L438.0,187.5 L438.9,178.8 L440.1,170.1 L441.7,161.5 L443.6,152.9 L445.9,144.4 L448.5,136.0 L451.4,127.7 L454.7,119.5 L458.3,111.5 L462.3,103.6 L466.7,95.9 L471.4,88.3 L476.4,81.0 L481.8,73.9 L487.5,67.1 L493.6,60.6 L500.0,54.4 L506.6,48.5 L513.6,42.9 L520.8,37.6 L528.3,32.8 L536.0,28.3 L543.9,24.2 L552.0,20.5 L560.2,17.2 L568.6,14.3 L577.1,11.9 L585.7,9.8 L594.4,8.1 L603.1,6.9 L611.8,6.0 L620.5,5.5 L629.3,5.4 L638.0,5.7 L646.7,6.4 L655.3,7.4 L663.8,8.7 L672.3,10.4 L680.7,12.4 L689.0,14.7 L697.2,17.4 L705.2,20.3 L713.1,23.6 L721.0,27.1 L728.6,30.9 L736.1,35.0 L743.5,39.4 L750.7,44.1 L757.7,49.0 L764.5,54.3 L771.1,59.7 L777.5,65.5 L783.7,71.5 L789.6,77.8 L795.3,84.3 L800.6,91.1 L805.7,98.1 L810.5,105.4 L815.0,112.9 L819.1,120.5 L822.9,128.4 L826.4,136.4 L829.4,144.6 L832.1,153.0 L834.3,161.5 L836.2,170.1 L837.6,178.7 L838.7,187.4 L839.3,196.2 L839.5,205.0 L839.3,213.8 L838.7,222.6 L837.7,231.3 L836.3,240.0 L834.5,248.6 L832.4,257.1 L829.9,265.5 L827.0,273.8 L823.7,281.9 L820.2,290.0 L816.3,297.8 L812.1,305.5 L807.6,313.1 L802.8,320.4 L797.8,327.6 L792.4,334.6 L786.8,341.4 L781.0,348.0 L774.8,354.3 L768.5,360.5 L761.9,366.4 L755.0,372.1 L747.9,377.5 L740.6,382.7 L733.1,387.6 L725.3,392.2 L717.3,396.5 L709.2,400.5 L700.8,404.2 L692.3,407.5 L683.5,410.4 L674.7,412.9 L665.7,415.1 L656.5,416.8 L647.3,418.1 L638.0,418.9 L628.6,419.2 L619.3,419.1 L609.9,418.5 L600.5,417.5 L591.2,415.9 L582.0,413.8 L573.0,411.3 L564.0,408.3 L555.3,404.8 L546.7,400.8 L538.3,396.4 L530.3,391.6 L522.4,386.4 L514.9,380.8 L507.7,374.8 L500.8,368.5 L494.3,361.8 L488.1,354.9 L482.3,347.7 L476.8,340.3 L471.7,332.6 L467.0,324.8 L462.6,316.7 L458.6,308.6 L454.9,300.3 L451.7,291.9 L448.7,283.4 L446.1,274.8 L443.9,266.2 L441.9,257.5 L440.3,248.8 L439.0,240.1 L438.1,231.3 L437.4,222.5 L437.1,213.8 Z" fill="url(#dgC)"/>
<clipPath id="dcC"><path d="M437.1,205.0 L437.3,196.2 L438.0,187.5 L438.9,178.8 L440.1,170.1 L441.7,161.5 L443.6,152.9 L445.9,144.4 L448.5,136.0 L451.4,127.7 L454.7,119.5 L458.3,111.5 L462.3,103.6 L466.7,95.9 L471.4,88.3 L476.4,81.0 L481.8,73.9 L487.5,67.1 L493.6,60.6 L500.0,54.4 L506.6,48.5 L513.6,42.9 L520.8,37.6 L528.3,32.8 L536.0,28.3 L543.9,24.2 L552.0,20.5 L560.2,17.2 L568.6,14.3 L577.1,11.9 L585.7,9.8 L594.4,8.1 L603.1,6.9 L611.8,6.0 L620.5,5.5 L629.3,5.4 L638.0,5.7 L646.7,6.4 L655.3,7.4 L663.8,8.7 L672.3,10.4 L680.7,12.4 L689.0,14.7 L697.2,17.4 L705.2,20.3 L713.1,23.6 L721.0,27.1 L728.6,30.9 L736.1,35.0 L743.5,39.4 L750.7,44.1 L757.7,49.0 L764.5,54.3 L771.1,59.7 L777.5,65.5 L783.7,71.5 L789.6,77.8 L795.3,84.3 L800.6,91.1 L805.7,98.1 L810.5,105.4 L815.0,112.9 L819.1,120.5 L822.9,128.4 L826.4,136.4 L829.4,144.6 L832.1,153.0 L834.3,161.5 L836.2,170.1 L837.6,178.7 L838.7,187.4 L839.3,196.2 L839.5,205.0 L839.3,213.8 L838.7,222.6 L837.7,231.3 L836.3,240.0 L834.5,248.6 L832.4,257.1 L829.9,265.5 L827.0,273.8 L823.7,281.9 L820.2,290.0 L816.3,297.8 L812.1,305.5 L807.6,313.1 L802.8,320.4 L797.8,327.6 L792.4,334.6 L786.8,341.4 L781.0,348.0 L774.8,354.3 L768.5,360.5 L761.9,366.4 L755.0,372.1 L747.9,377.5 L740.6,382.7 L733.1,387.6 L725.3,392.2 L717.3,396.5 L709.2,400.5 L700.8,404.2 L692.3,407.5 L683.5,410.4 L674.7,412.9 L665.7,415.1 L656.5,416.8 L647.3,418.1 L638.0,418.9 L628.6,419.2 L619.3,419.1 L609.9,418.5 L600.5,417.5 L591.2,415.9 L582.0,413.8 L573.0,411.3 L564.0,408.3 L555.3,404.8 L546.7,400.8 L538.3,396.4 L530.3,391.6 L522.4,386.4 L514.9,380.8 L507.7,374.8 L500.8,368.5 L494.3,361.8 L488.1,354.9 L482.3,347.7 L476.8,340.3 L471.7,332.6 L467.0,324.8 L462.6,316.7 L458.6,308.6 L454.9,300.3 L451.7,291.9 L448.7,283.4 L446.1,274.8 L443.9,266.2 L441.9,257.5 L440.3,248.8 L439.0,240.1 L438.1,231.3 L437.4,222.5 L437.1,213.8 Z"/></clipPath>
<g clip-path="url(#dcC)" fill="none" stroke="#000">
<path d="M437.1,205.0 L437.3,196.2 L438.0,187.5 L438.9,178.8 L440.1,170.1 L441.7,161.5 L443.6,152.9 L445.9,144.4 L448.5,136.0 L451.4,127.7 L454.7,119.5 L458.3,111.5 L462.3,103.6 L466.7,95.9 L471.4,88.3 L476.4,81.0 L481.8,73.9 L487.5,67.1 L493.6,60.6 L500.0,54.4 L506.6,48.5 L513.6,42.9 L520.8,37.6 L528.3,32.8 L536.0,28.3 L543.9,24.2 L552.0,20.5 L560.2,17.2 L568.6,14.3 L577.1,11.9 L585.7,9.8 L594.4,8.1 L603.1,6.9 L611.8,6.0 L620.5,5.5 L629.3,5.4 L638.0,5.7 L646.7,6.4 L655.3,7.4 L663.8,8.7 L672.3,10.4 L680.7,12.4 L689.0,14.7 L697.2,17.4 L705.2,20.3 L713.1,23.6 L721.0,27.1 L728.6,30.9 L736.1,35.0 L743.5,39.4 L750.7,44.1 L757.7,49.0 L764.5,54.3 L771.1,59.7 L777.5,65.5 L783.7,71.5 L789.6,77.8 L795.3,84.3 L800.6,91.1 L805.7,98.1 L810.5,105.4 L815.0,112.9 L819.1,120.5 L822.9,128.4 L826.4,136.4 L829.4,144.6 L832.1,153.0 L834.3,161.5 L836.2,170.1 L837.6,178.7 L838.7,187.4 L839.3,196.2 L839.5,205.0 L839.3,213.8 L838.7,222.6 L837.7,231.3 L836.3,240.0 L834.5,248.6 L832.4,257.1 L829.9,265.5 L827.0,273.8 L823.7,281.9 L820.2,290.0 L816.3,297.8 L812.1,305.5 L807.6,313.1 L802.8,320.4 L797.8,327.6 L792.4,334.6 L786.8,341.4 L781.0,348.0 L774.8,354.3 L768.5,360.5 L761.9,366.4 L755.0,372.1 L747.9,377.5 L740.6,382.7 L733.1,387.6 L725.3,392.2 L717.3,396.5 L709.2,400.5 L700.8,404.2 L692.3,407.5 L683.5,410.4 L674.7,412.9 L665.7,415.1 L656.5,416.8 L647.3,418.1 L638.0,418.9 L628.6,419.2 L619.3,419.1 L609.9,418.5 L600.5,417.5 L591.2,415.9 L582.0,413.8 L573.0,411.3 L564.0,408.3 L555.3,404.8 L546.7,400.8 L538.3,396.4 L530.3,391.6 L522.4,386.4 L514.9,380.8 L507.7,374.8 L500.8,368.5 L494.3,361.8 L488.1,354.9 L482.3,347.7 L476.8,340.3 L471.7,332.6 L467.0,324.8 L462.6,316.7 L458.6,308.6 L454.9,300.3 L451.7,291.9 L448.7,283.4 L446.1,274.8 L443.9,266.2 L441.9,257.5 L440.3,248.8 L439.0,240.1 L438.1,231.3 L437.4,222.5 L437.1,213.8 Z" stroke-opacity="0.12" stroke-width="24"/>
<path d="M437.1,205.0 L437.3,196.2 L438.0,187.5 L438.9,178.8 L440.1,170.1 L441.7,161.5 L443.6,152.9 L445.9,144.4 L448.5,136.0 L451.4,127.7 L454.7,119.5 L458.3,111.5 L462.3,103.6 L466.7,95.9 L471.4,88.3 L476.4,81.0 L481.8,73.9 L487.5,67.1 L493.6,60.6 L500.0,54.4 L506.6,48.5 L513.6,42.9 L520.8,37.6 L528.3,32.8 L536.0,28.3 L543.9,24.2 L552.0,20.5 L560.2,17.2 L568.6,14.3 L577.1,11.9 L585.7,9.8 L594.4,8.1 L603.1,6.9 L611.8,6.0 L620.5,5.5 L629.3,5.4 L638.0,5.7 L646.7,6.4 L655.3,7.4 L663.8,8.7 L672.3,10.4 L680.7,12.4 L689.0,14.7 L697.2,17.4 L705.2,20.3 L713.1,23.6 L721.0,27.1 L728.6,30.9 L736.1,35.0 L743.5,39.4 L750.7,44.1 L757.7,49.0 L764.5,54.3 L771.1,59.7 L777.5,65.5 L783.7,71.5 L789.6,77.8 L795.3,84.3 L800.6,91.1 L805.7,98.1 L810.5,105.4 L815.0,112.9 L819.1,120.5 L822.9,128.4 L826.4,136.4 L829.4,144.6 L832.1,153.0 L834.3,161.5 L836.2,170.1 L837.6,178.7 L838.7,187.4 L839.3,196.2 L839.5,205.0 L839.3,213.8 L838.7,222.6 L837.7,231.3 L836.3,240.0 L834.5,248.6 L832.4,257.1 L829.9,265.5 L827.0,273.8 L823.7,281.9 L820.2,290.0 L816.3,297.8 L812.1,305.5 L807.6,313.1 L802.8,320.4 L797.8,327.6 L792.4,334.6 L786.8,341.4 L781.0,348.0 L774.8,354.3 L768.5,360.5 L761.9,366.4 L755.0,372.1 L747.9,377.5 L740.6,382.7 L733.1,387.6 L725.3,392.2 L717.3,396.5 L709.2,400.5 L700.8,404.2 L692.3,407.5 L683.5,410.4 L674.7,412.9 L665.7,415.1 L656.5,416.8 L647.3,418.1 L638.0,418.9 L628.6,419.2 L619.3,419.1 L609.9,418.5 L600.5,417.5 L591.2,415.9 L582.0,413.8 L573.0,411.3 L564.0,408.3 L555.3,404.8 L546.7,400.8 L538.3,396.4 L530.3,391.6 L522.4,386.4 L514.9,380.8 L507.7,374.8 L500.8,368.5 L494.3,361.8 L488.1,354.9 L482.3,347.7 L476.8,340.3 L471.7,332.6 L467.0,324.8 L462.6,316.7 L458.6,308.6 L454.9,300.3 L451.7,291.9 L448.7,283.4 L446.1,274.8 L443.9,266.2 L441.9,257.5 L440.3,248.8 L439.0,240.1 L438.1,231.3 L437.4,222.5 L437.1,213.8 Z" stroke-opacity="0.14" stroke-width="16"/>
<path d="M437.1,205.0 L437.3,196.2 L438.0,187.5 L438.9,178.8 L440.1,170.1 L441.7,161.5 L443.6,152.9 L445.9,144.4 L448.5,136.0 L451.4,127.7 L454.7,119.5 L458.3,111.5 L462.3,103.6 L466.7,95.9 L471.4,88.3 L476.4,81.0 L481.8,73.9 L487.5,67.1 L493.6,60.6 L500.0,54.4 L506.6,48.5 L513.6,42.9 L520.8,37.6 L528.3,32.8 L536.0,28.3 L543.9,24.2 L552.0,20.5 L560.2,17.2 L568.6,14.3 L577.1,11.9 L585.7,9.8 L594.4,8.1 L603.1,6.9 L611.8,6.0 L620.5,5.5 L629.3,5.4 L638.0,5.7 L646.7,6.4 L655.3,7.4 L663.8,8.7 L672.3,10.4 L680.7,12.4 L689.0,14.7 L697.2,17.4 L705.2,20.3 L713.1,23.6 L721.0,27.1 L728.6,30.9 L736.1,35.0 L743.5,39.4 L750.7,44.1 L757.7,49.0 L764.5,54.3 L771.1,59.7 L777.5,65.5 L783.7,71.5 L789.6,77.8 L795.3,84.3 L800.6,91.1 L805.7,98.1 L810.5,105.4 L815.0,112.9 L819.1,120.5 L822.9,128.4 L826.4,136.4 L829.4,144.6 L832.1,153.0 L834.3,161.5 L836.2,170.1 L837.6,178.7 L838.7,187.4 L839.3,196.2 L839.5,205.0 L839.3,213.8 L838.7,222.6 L837.7,231.3 L836.3,240.0 L834.5,248.6 L832.4,257.1 L829.9,265.5 L827.0,273.8 L823.7,281.9 L820.2,290.0 L816.3,297.8 L812.1,305.5 L807.6,313.1 L802.8,320.4 L797.8,327.6 L792.4,334.6 L786.8,341.4 L781.0,348.0 L774.8,354.3 L768.5,360.5 L761.9,366.4 L755.0,372.1 L747.9,377.5 L740.6,382.7 L733.1,387.6 L725.3,392.2 L717.3,396.5 L709.2,400.5 L700.8,404.2 L692.3,407.5 L683.5,410.4 L674.7,412.9 L665.7,415.1 L656.5,416.8 L647.3,418.1 L638.0,418.9 L628.6,419.2 L619.3,419.1 L609.9,418.5 L600.5,417.5 L591.2,415.9 L582.0,413.8 L573.0,411.3 L564.0,408.3 L555.3,404.8 L546.7,400.8 L538.3,396.4 L530.3,391.6 L522.4,386.4 L514.9,380.8 L507.7,374.8 L500.8,368.5 L494.3,361.8 L488.1,354.9 L482.3,347.7 L476.8,340.3 L471.7,332.6 L467.0,324.8 L462.6,316.7 L458.6,308.6 L454.9,300.3 L451.7,291.9 L448.7,283.4 L446.1,274.8 L443.9,266.2 L441.9,257.5 L440.3,248.8 L439.0,240.1 L438.1,231.3 L437.4,222.5 L437.1,213.8 Z" stroke-opacity="0.18" stroke-width="10"/>
<path d="M437.1,205.0 L437.3,196.2 L438.0,187.5 L438.9,178.8 L440.1,170.1 L441.7,161.5 L443.6,152.9 L445.9,144.4 L448.5,136.0 L451.4,127.7 L454.7,119.5 L458.3,111.5 L462.3,103.6 L466.7,95.9 L471.4,88.3 L476.4,81.0 L481.8,73.9 L487.5,67.1 L493.6,60.6 L500.0,54.4 L506.6,48.5 L513.6,42.9 L520.8,37.6 L528.3,32.8 L536.0,28.3 L543.9,24.2 L552.0,20.5 L560.2,17.2 L568.6,14.3 L577.1,11.9 L585.7,9.8 L594.4,8.1 L603.1,6.9 L611.8,6.0 L620.5,5.5 L629.3,5.4 L638.0,5.7 L646.7,6.4 L655.3,7.4 L663.8,8.7 L672.3,10.4 L680.7,12.4 L689.0,14.7 L697.2,17.4 L705.2,20.3 L713.1,23.6 L721.0,27.1 L728.6,30.9 L736.1,35.0 L743.5,39.4 L750.7,44.1 L757.7,49.0 L764.5,54.3 L771.1,59.7 L777.5,65.5 L783.7,71.5 L789.6,77.8 L795.3,84.3 L800.6,91.1 L805.7,98.1 L810.5,105.4 L815.0,112.9 L819.1,120.5 L822.9,128.4 L826.4,136.4 L829.4,144.6 L832.1,153.0 L834.3,161.5 L836.2,170.1 L837.6,178.7 L838.7,187.4 L839.3,196.2 L839.5,205.0 L839.3,213.8 L838.7,222.6 L837.7,231.3 L836.3,240.0 L834.5,248.6 L832.4,257.1 L829.9,265.5 L827.0,273.8 L823.7,281.9 L820.2,290.0 L816.3,297.8 L812.1,305.5 L807.6,313.1 L802.8,320.4 L797.8,327.6 L792.4,334.6 L786.8,341.4 L781.0,348.0 L774.8,354.3 L768.5,360.5 L761.9,366.4 L755.0,372.1 L747.9,377.5 L740.6,382.7 L733.1,387.6 L725.3,392.2 L717.3,396.5 L709.2,400.5 L700.8,404.2 L692.3,407.5 L683.5,410.4 L674.7,412.9 L665.7,415.1 L656.5,416.8 L647.3,418.1 L638.0,418.9 L628.6,419.2 L619.3,419.1 L609.9,418.5 L600.5,417.5 L591.2,415.9 L582.0,413.8 L573.0,411.3 L564.0,408.3 L555.3,404.8 L546.7,400.8 L538.3,396.4 L530.3,391.6 L522.4,386.4 L514.9,380.8 L507.7,374.8 L500.8,368.5 L494.3,361.8 L488.1,354.9 L482.3,347.7 L476.8,340.3 L471.7,332.6 L467.0,324.8 L462.6,316.7 L458.6,308.6 L454.9,300.3 L451.7,291.9 L448.7,283.4 L446.1,274.8 L443.9,266.2 L441.9,257.5 L440.3,248.8 L439.0,240.1 L438.1,231.3 L437.4,222.5 L437.1,213.8 Z" stroke-opacity="0.25" stroke-width="5"/>
<path d="M437.1,205.0 L437.3,196.2 L438.0,187.5 L438.9,178.8 L440.1,170.1 L441.7,161.5 L443.6,152.9 L445.9,144.4 L448.5,136.0 L451.4,127.7 L454.7,119.5 L458.3,111.5 L462.3,103.6 L466.7,95.9 L471.4,88.3 L476.4,81.0 L481.8,73.9 L487.5,67.1 L493.6,60.6 L500.0,54.4 L506.6,48.5 L513.6,42.9 L520.8,37.6 L528.3,32.8 L536.0,28.3 L543.9,24.2 L552.0,20.5 L560.2,17.2 L568.6,14.3 L577.1,11.9 L585.7,9.8 L594.4,8.1 L603.1,6.9 L611.8,6.0 L620.5,5.5 L629.3,5.4 L638.0,5.7 L646.7,6.4 L655.3,7.4 L663.8,8.7 L672.3,10.4 L680.7,12.4 L689.0,14.7 L697.2,17.4 L705.2,20.3 L713.1,23.6 L721.0,27.1 L728.6,30.9 L736.1,35.0 L743.5,39.4 L750.7,44.1 L757.7,49.0 L764.5,54.3 L771.1,59.7 L777.5,65.5 L783.7,71.5 L789.6,77.8 L795.3,84.3 L800.6,91.1 L805.7,98.1 L810.5,105.4 L815.0,112.9 L819.1,120.5 L822.9,128.4 L826.4,136.4 L829.4,144.6 L832.1,153.0 L834.3,161.5 L836.2,170.1 L837.6,178.7 L838.7,187.4 L839.3,196.2 L839.5,205.0 L839.3,213.8 L838.7,222.6 L837.7,231.3 L836.3,240.0 L834.5,248.6 L832.4,257.1 L829.9,265.5 L827.0,273.8 L823.7,281.9 L820.2,290.0 L816.3,297.8 L812.1,305.5 L807.6,313.1 L802.8,320.4 L797.8,327.6 L792.4,334.6 L786.8,341.4 L781.0,348.0 L774.8,354.3 L768.5,360.5 L761.9,366.4 L755.0,372.1 L747.9,377.5 L740.6,382.7 L733.1,387.6 L725.3,392.2 L717.3,396.5 L709.2,400.5 L700.8,404.2 L692.3,407.5 L683.5,410.4 L674.7,412.9 L665.7,415.1 L656.5,416.8 L647.3,418.1 L638.0,418.9 L628.6,419.2 L619.3,419.1 L609.9,418.5 L600.5,417.5 L591.2,415.9 L582.0,413.8 L573.0,411.3 L564.0,408.3 L555.3,404.8 L546.7,400.8 L538.3,396.4 L530.3,391.6 L522.4,386.4 L514.9,380.8 L507.7,374.8 L500.8,368.5 L494.3,361.8 L488.1,354.9 L482.3,347.7 L476.8,340.3 L471.7,332.6 L467.0,324.8 L462.6,316.7 L458.6,308.6 L454.9,300.3 L451.7,291.9 L448.7,283.4 L446.1,274.8 L443.9,266.2 L441.9,257.5 L440.3,248.8 L439.0,240.1 L438.1,231.3 L437.4,222.5 L437.1,213.8 Z" stroke-opacity="0.35" stroke-width="2"/>
</g>
<path d="M437.1,205.0 L437.3,196.2 L438.0,187.5 L438.9,178.8 L440.1,170.1 L441.7,161.5 L443.6,152.9 L445.9,144.4 L448.5,136.0 L451.4,127.7 L454.7,119.5 L458.3,111.5 L462.3,103.6 L466.7,95.9 L471.4,88.3 L476.4,81.0 L481.8,73.9 L487.5,67.1 L493.6,60.6 L500.0,54.4 L506.6,48.5 L513.6,42.9 L520.8,37.6 L528.3,32.8 L536.0,28.3 L543.9,24.2 L552.0,20.5 L560.2,17.2 L568.6,14.3 L577.1,11.9 L585.7,9.8 L594.4,8.1 L603.1,6.9 L611.8,6.0 L620.5,5.5 L629.3,5.4 L638.0,5.7 L646.7,6.4 L655.3,7.4 L663.8,8.7 L672.3,10.4 L680.7,12.4 L689.0,14.7 L697.2,17.4 L705.2,20.3 L713.1,23.6 L721.0,27.1 L728.6,30.9 L736.1,35.0 L743.5,39.4 L750.7,44.1 L757.7,49.0 L764.5,54.3 L771.1,59.7 L777.5,65.5 L783.7,71.5 L789.6,77.8 L795.3,84.3 L800.6,91.1 L805.7,98.1 L810.5,105.4 L815.0,112.9 L819.1,120.5 L822.9,128.4 L826.4,136.4 L829.4,144.6 L832.1,153.0 L834.3,161.5 L836.2,170.1 L837.6,178.7 L838.7,187.4 L839.3,196.2 L839.5,205.0 L839.3,213.8 L838.7,222.6 L837.7,231.3 L836.3,240.0 L834.5,248.6 L832.4,257.1 L829.9,265.5 L827.0,273.8 L823.7,281.9 L820.2,290.0 L816.3,297.8 L812.1,305.5 L807.6,313.1 L802.8,320.4 L797.8,327.6 L792.4,334.6 L786.8,341.4 L781.0,348.0 L774.8,354.3 L768.5,360.5 L761.9,366.4 L755.0,372.1 L747.9,377.5 L740.6,382.7 L733.1,387.6 L725.3,392.2 L717.3,396.5 L709.2,400.5 L700.8,404.2 L692.3,407.5 L683.5,410.4 L674.7,412.9 L665.7,415.1 L656.5,416.8 L647.3,418.1 L638.0,418.9 L628.6,419.2 L619.3,419.1 L609.9,418.5 L600.5,417.5 L591.2,415.9 L582.0,413.8 L573.0,411.3 L564.0,408.3 L555.3,404.8 L546.7,400.8 L538.3,396.4 L530.3,391.6 L522.4,386.4 L514.9,380.8 L507.7,374.8 L500.8,368.5 L494.3,361.8 L488.1,354.9 L482.3,347.7 L476.8,340.3 L471.7,332.6 L467.0,324.8 L462.6,316.7 L458.6,308.6 L454.9,300.3 L451.7,291.9 L448.7,283.4 L446.1,274.8 L443.9,266.2 L441.9,257.5 L440.3,248.8 L439.0,240.1 L438.1,231.3 L437.4,222.5 L437.1,213.8 Z" fill="#000" opacity="0.3" filter="url(#diskTex)"/>
<path d="M612,30 Q605,212.5 614,395" fill="none" stroke="#ff4a3a" stroke-width="1.6" opacity="0.1" clip-path="url(#dcC)"/>
<path d="M648,25 Q640,211.5 650,398" fill="none" stroke="#ff4a3a" stroke-width="1.6" opacity="0.1" clip-path="url(#dcC)"/>
<path d="M700,35 Q691,212.5 702,390" fill="none" stroke="#ff4a3a" stroke-width="1.6" opacity="0.09" clip-path="url(#dcC)"/>
<ellipse cx="648" cy="199.5" rx="185" ry="4" fill="#ff1808" opacity="0.45" filter="url(#blur2)"/>
<line x1="461" y1="199.5" x2="827" y2="199.5" stroke="#ff3010" stroke-width="1.4" opacity="0.35"/>
<ellipse cx="522.8" cy="199.5" rx="30" ry="22" fill="url(#glowRed)"/>
<ellipse cx="520.8" cy="189.5" rx="7" ry="50" fill="url(#glowRed)" opacity="0.5"/>
<ellipse cx="520.8" cy="199.5" rx="15" ry="14" fill="#ffd21e" filter="url(#blurS)"/>
<ellipse cx="532.8" cy="199.5" rx="14" ry="4.5" fill="#ffe060" filter="url(#blurS)"/>
<ellipse cx="511.79999999999995" cy="199.5" rx="12" ry="3" fill="#ffc020" filter="url(#blurS)"/>
<ellipse cx="520.8" cy="199.5" rx="10.5" ry="10.5" fill="#fff" filter="url(#blurS)"/>
<ellipse cx="532.8" cy="199.5" rx="13" ry="2.8" fill="#fff" filter="url(#blurS)"/>
<circle cx="568" cy="199.5" r="5" fill="url(#spotSmall)"/>
<ellipse cx="598.3" cy="200" rx="16" ry="14" fill="url(#glowRed)"/>
<path d="M589.8,200.0 L598.3,190.5 L606.8,200.0 L598.3,209.5 Z" fill="#ffe040" filter="url(#blurS)"/>
<path d="M592.8,200.0 L598.3,193.5 L603.8,200.0 L598.3,206.5 Z" fill="#ffffff" filter="url(#blurS)"/>
<circle cx="664.2" cy="200.5" r="5" fill="url(#spotFaint)"/>
<circle cx="670.5" cy="200.8" r="5" fill="url(#spotSmall)"/>
<ellipse cx="742.2" cy="201.3" rx="16" ry="14" fill="url(#glowRed)"/>
<path d="M733.7,201.3 L742.2,191.8 L750.7,201.3 L742.2,210.8 Z" fill="#ffe040" filter="url(#blurS)"/>
<path d="M736.7,201.3 L742.2,194.8 L747.7,201.3 L742.2,207.8 Z" fill="#ffffff" filter="url(#blurS)"/>
<ellipse cx="737.6" cy="54.1" rx="4.5" ry="7" fill="url(#spotSmall)"/>
<ellipse cx="735" cy="347" rx="4.5" ry="7" fill="url(#spotSmall)"/>
<line x1="599.4" y1="71.0" x2="598.4" y2="175.0" stroke="#f7f3f3" stroke-width="1.6"/><path d="M598.3,188.5 L591.2,172.9 L605.6,173.1 Z" fill="#f7f3f3"/>
<line x1="681.7" y1="49.2" x2="666.2" y2="181.8" stroke="#f7f3f3" stroke-width="1.6"/><path d="M664.6,195.2 L659.3,179.0 L673.6,180.6 Z" fill="#f7f3f3"/>
<line x1="546.2" y1="144.1" x2="554.3" y2="163.3" stroke="#f7f3f3" stroke-width="1.6"/><path d="M559.6,175.7 L546.9,164.2 L560.2,158.6 Z" fill="#f7f3f3"/>
<line x1="748.6" y1="102.8" x2="742.9" y2="77.0" stroke="#f7f3f3" stroke-width="1.6"/><path d="M740.0,63.8 L750.4,77.4 L736.3,80.5 Z" fill="#f7f3f3"/>
<line x1="567.6" y1="265.4" x2="567.9" y2="222.9" stroke="#f7f3f3" stroke-width="1.6"/><path d="M568.0,209.4 L575.1,225.0 L560.7,224.8 Z" fill="#f7f3f3"/>
<line x1="479.3" y1="236.2" x2="501.4" y2="218.8" stroke="#f7f3f3" stroke-width="1.6"/><path d="M512.0,210.5 L504.3,225.7 L495.4,214.4 Z" fill="#f7f3f3"/>
<line x1="614.3" y1="293.4" x2="607.4" y2="276.7" stroke="#f7f3f3" stroke-width="1.6"/><path d="M602.2,264.2 L614.8,275.8 L601.5,281.3 Z" fill="#f7f3f3"/>
<line x1="614.3" y1="293.4" x2="623.4" y2="266.0" stroke="#f7f3f3" stroke-width="1.6"/><path d="M627.7,253.2 L629.6,270.2 L616.0,265.6 Z" fill="#f7f3f3"/>
<line x1="682.9" y1="247.1" x2="675.3" y2="221.6" stroke="#f7f3f3" stroke-width="1.6"/><path d="M671.4,208.7 L682.7,221.5 L668.9,225.6 Z" fill="#f7f3f3"/>
<line x1="788.7" y1="250.8" x2="759.4" y2="217.9" stroke="#f7f3f3" stroke-width="1.6"/><path d="M750.4,207.8 L766.1,214.6 L755.3,224.2 Z" fill="#f7f3f3"/>
<line x1="661.0" y1="372.5" x2="670.8" y2="352.9" stroke="#f7f3f3" stroke-width="1.6"/><path d="M676.8,340.8 L676.3,357.9 L663.4,351.5 Z" fill="#f7f3f3"/>
<text x="432.8" y="42.3" font-size="39.5" fill="#f7f3f3" stroke="#f7f3f3" stroke-width="0.45" text-anchor="start" >(c)</text>
<text x="492.7" y="65.5" font-size="32" fill="#f7f3f3" stroke="#f7f3f3" stroke-width="0.45" text-anchor="start" >(005)YBCO</text>
<text x="647.5" y="31.8" font-size="31.5" fill="#f7f3f3" stroke="#f7f3f3" stroke-width="0.45" text-anchor="start" >Y225</text>
<text x="509.5" y="140.5" font-size="32" fill="#f7f3f3" stroke="#f7f3f3" stroke-width="0.45" text-anchor="start" >Cu</text>
<text x="674.3" y="125.9" font-size="32" fill="#f7f3f3" stroke="#f7f3f3" stroke-width="0.45" text-anchor="start" >(012)YBCO</text>
<text x="548" y="288.5" font-size="29" fill="#f7f3f3" stroke="#f7f3f3" stroke-width="0.45" text-anchor="start" >k<tspan font-size="19.5" dy="8">β</tspan></text>
<text x="585" y="318.5" font-size="33" fill="#f7f3f3" stroke="#f7f3f3" stroke-width="0.45" text-anchor="start" >CuO</text>
<text x="523" y="402.3" font-size="32" fill="#f7f3f3" stroke="#f7f3f3" stroke-width="0.45" text-anchor="start" >(103)YBCO</text>
<text transform="translate(466.7,371.5) rotate(-90)" font-size="32" fill="#f7f3f3" stroke="#f7f3f3" stroke-width="0.45">(002)STO</text>
<text transform="translate(500.8,371.5) rotate(-90)" font-size="32" fill="#f7f3f3" stroke="#f7f3f3" stroke-width="0.45">020)LMO</text>
<text transform="translate(706.8,328.5) rotate(-90)" font-size="32" fill="#f7f3f3" stroke="#f7f3f3" stroke-width="0.45">(004)YBCO</text>
<text transform="translate(782,391) rotate(-90)" font-size="32" fill="#f7f3f3" stroke="#f7f3f3" stroke-width="0.45">(001)STO</text>
<text transform="translate(821,391) rotate(-90)" font-size="32" fill="#f7f3f3" stroke="#f7f3f3" stroke-width="0.45">(010)LMO</text>
</g>
<clipPath id="clipD"><rect x="428" y="431" width="405" height="405"/></clipPath>
<g clip-path="url(#clipD)">
<rect x="428" y="431" width="405" height="405" fill="#000"/>
<radialGradient id="dgD" gradientUnits="userSpaceOnUse" cx="654.2" cy="612.4" r="242.4" fx="670.4" fy="596.2">
  <stop offset="0.000" stop-color="rgb(202,8,6)"/>
  <stop offset="0.500" stop-color="rgb(202,8,6)"/>
  <stop offset="0.600" stop-color="rgb(202,8,6)"/>
  <stop offset="0.650" stop-color="rgb(198,8,6)"/>
  <stop offset="0.700" stop-color="rgb(192,8,6)"/>
  <stop offset="0.750" stop-color="rgb(181,7,5)"/>
  <stop offset="0.800" stop-color="rgb(170,7,5)"/>
  <stop offset="0.850" stop-color="rgb(150,6,4)"/>
  <stop offset="0.900" stop-color="rgb(130,5,4)"/>
  <stop offset="0.950" stop-color="rgb(101,4,3)"/>
  <stop offset="1.000" stop-color="rgb(65,3,2)"/>
</radialGradient>
<path d="M433.2,636.6 L433.1,628.0 L433.4,619.4 L434.0,610.8 L434.9,602.2 L436.2,593.6 L437.9,585.1 L439.9,576.7 L442.2,568.3 L445.0,560.0 L448.1,551.8 L451.5,543.7 L455.4,535.8 L459.6,528.0 L464.2,520.5 L469.1,513.1 L474.4,506.0 L480.0,499.1 L485.9,492.5 L492.2,486.2 L498.8,480.2 L505.6,474.5 L512.8,469.2 L520.2,464.2 L527.8,459.5 L535.6,455.3 L543.6,451.4 L551.8,447.9 L560.2,444.8 L568.7,442.1 L577.3,439.7 L585.9,437.8 L594.7,436.3 L603.5,435.2 L612.3,434.4 L621.2,434.1 L630.0,434.1 L638.8,434.5 L647.6,435.3 L656.4,436.4 L665.0,437.9 L673.6,439.8 L682.1,442.0 L690.6,444.6 L698.8,447.5 L707.0,450.7 L715.0,454.2 L722.9,458.1 L730.6,462.3 L738.1,466.8 L745.5,471.7 L752.6,476.8 L759.5,482.2 L766.2,488.0 L772.6,494.0 L778.8,500.2 L784.7,506.8 L790.3,513.6 L795.6,520.6 L800.6,527.9 L805.3,535.4 L809.6,543.1 L813.6,551.0 L817.1,559.1 L820.4,567.3 L823.2,575.7 L825.7,584.2 L827.7,592.8 L829.4,601.4 L830.6,610.2 L831.5,619.0 L831.9,627.8 L832.0,636.6 L831.6,645.4 L830.9,654.2 L829.8,662.9 L828.2,671.6 L826.4,680.1 L824.1,688.6 L821.5,697.0 L818.6,705.2 L815.3,713.3 L811.7,721.3 L807.7,729.1 L803.5,736.8 L798.9,744.2 L794.1,751.5 L789.0,758.6 L783.6,765.4 L777.9,772.1 L771.9,778.5 L765.7,784.7 L759.3,790.7 L752.6,796.3 L745.7,801.8 L738.5,806.9 L731.1,811.7 L723.5,816.3 L715.8,820.5 L707.8,824.4 L699.6,827.9 L691.3,831.1 L682.9,833.9 L674.3,836.3 L665.6,838.4 L656.8,840.0 L647.9,841.2 L639.0,842.0 L630.0,842.3 L621.0,842.3 L612.1,841.7 L603.1,840.8 L594.2,839.4 L585.5,837.5 L576.8,835.3 L568.2,832.6 L559.8,829.5 L551.6,826.0 L543.5,822.1 L535.7,817.8 L528.1,813.1 L520.7,808.2 L513.6,802.8 L506.8,797.2 L500.2,791.3 L493.9,785.1 L488.0,778.6 L482.3,771.9 L476.9,765.0 L471.9,757.9 L467.1,750.6 L462.7,743.2 L458.6,735.6 L454.7,727.8 L451.2,720.0 L448.0,712.0 L445.2,703.9 L442.6,695.7 L440.3,687.4 L438.3,679.1 L436.7,670.7 L435.3,662.2 L434.3,653.7 L433.6,645.2 Z" fill="url(#dgD)"/>
<clipPath id="dcD"><path d="M433.2,636.6 L433.1,628.0 L433.4,619.4 L434.0,610.8 L434.9,602.2 L436.2,593.6 L437.9,585.1 L439.9,576.7 L442.2,568.3 L445.0,560.0 L448.1,551.8 L451.5,543.7 L455.4,535.8 L459.6,528.0 L464.2,520.5 L469.1,513.1 L474.4,506.0 L480.0,499.1 L485.9,492.5 L492.2,486.2 L498.8,480.2 L505.6,474.5 L512.8,469.2 L520.2,464.2 L527.8,459.5 L535.6,455.3 L543.6,451.4 L551.8,447.9 L560.2,444.8 L568.7,442.1 L577.3,439.7 L585.9,437.8 L594.7,436.3 L603.5,435.2 L612.3,434.4 L621.2,434.1 L630.0,434.1 L638.8,434.5 L647.6,435.3 L656.4,436.4 L665.0,437.9 L673.6,439.8 L682.1,442.0 L690.6,444.6 L698.8,447.5 L707.0,450.7 L715.0,454.2 L722.9,458.1 L730.6,462.3 L738.1,466.8 L745.5,471.7 L752.6,476.8 L759.5,482.2 L766.2,488.0 L772.6,494.0 L778.8,500.2 L784.7,506.8 L790.3,513.6 L795.6,520.6 L800.6,527.9 L805.3,535.4 L809.6,543.1 L813.6,551.0 L817.1,559.1 L820.4,567.3 L823.2,575.7 L825.7,584.2 L827.7,592.8 L829.4,601.4 L830.6,610.2 L831.5,619.0 L831.9,627.8 L832.0,636.6 L831.6,645.4 L830.9,654.2 L829.8,662.9 L828.2,671.6 L826.4,680.1 L824.1,688.6 L821.5,697.0 L818.6,705.2 L815.3,713.3 L811.7,721.3 L807.7,729.1 L803.5,736.8 L798.9,744.2 L794.1,751.5 L789.0,758.6 L783.6,765.4 L777.9,772.1 L771.9,778.5 L765.7,784.7 L759.3,790.7 L752.6,796.3 L745.7,801.8 L738.5,806.9 L731.1,811.7 L723.5,816.3 L715.8,820.5 L707.8,824.4 L699.6,827.9 L691.3,831.1 L682.9,833.9 L674.3,836.3 L665.6,838.4 L656.8,840.0 L647.9,841.2 L639.0,842.0 L630.0,842.3 L621.0,842.3 L612.1,841.7 L603.1,840.8 L594.2,839.4 L585.5,837.5 L576.8,835.3 L568.2,832.6 L559.8,829.5 L551.6,826.0 L543.5,822.1 L535.7,817.8 L528.1,813.1 L520.7,808.2 L513.6,802.8 L506.8,797.2 L500.2,791.3 L493.9,785.1 L488.0,778.6 L482.3,771.9 L476.9,765.0 L471.9,757.9 L467.1,750.6 L462.7,743.2 L458.6,735.6 L454.7,727.8 L451.2,720.0 L448.0,712.0 L445.2,703.9 L442.6,695.7 L440.3,687.4 L438.3,679.1 L436.7,670.7 L435.3,662.2 L434.3,653.7 L433.6,645.2 Z"/></clipPath>
<g clip-path="url(#dcD)" fill="none" stroke="#000">
<path d="M433.2,636.6 L433.1,628.0 L433.4,619.4 L434.0,610.8 L434.9,602.2 L436.2,593.6 L437.9,585.1 L439.9,576.7 L442.2,568.3 L445.0,560.0 L448.1,551.8 L451.5,543.7 L455.4,535.8 L459.6,528.0 L464.2,520.5 L469.1,513.1 L474.4,506.0 L480.0,499.1 L485.9,492.5 L492.2,486.2 L498.8,480.2 L505.6,474.5 L512.8,469.2 L520.2,464.2 L527.8,459.5 L535.6,455.3 L543.6,451.4 L551.8,447.9 L560.2,444.8 L568.7,442.1 L577.3,439.7 L585.9,437.8 L594.7,436.3 L603.5,435.2 L612.3,434.4 L621.2,434.1 L630.0,434.1 L638.8,434.5 L647.6,435.3 L656.4,436.4 L665.0,437.9 L673.6,439.8 L682.1,442.0 L690.6,444.6 L698.8,447.5 L707.0,450.7 L715.0,454.2 L722.9,458.1 L730.6,462.3 L738.1,466.8 L745.5,471.7 L752.6,476.8 L759.5,482.2 L766.2,488.0 L772.6,494.0 L778.8,500.2 L784.7,506.8 L790.3,513.6 L795.6,520.6 L800.6,527.9 L805.3,535.4 L809.6,543.1 L813.6,551.0 L817.1,559.1 L820.4,567.3 L823.2,575.7 L825.7,584.2 L827.7,592.8 L829.4,601.4 L830.6,610.2 L831.5,619.0 L831.9,627.8 L832.0,636.6 L831.6,645.4 L830.9,654.2 L829.8,662.9 L828.2,671.6 L826.4,680.1 L824.1,688.6 L821.5,697.0 L818.6,705.2 L815.3,713.3 L811.7,721.3 L807.7,729.1 L803.5,736.8 L798.9,744.2 L794.1,751.5 L789.0,758.6 L783.6,765.4 L777.9,772.1 L771.9,778.5 L765.7,784.7 L759.3,790.7 L752.6,796.3 L745.7,801.8 L738.5,806.9 L731.1,811.7 L723.5,816.3 L715.8,820.5 L707.8,824.4 L699.6,827.9 L691.3,831.1 L682.9,833.9 L674.3,836.3 L665.6,838.4 L656.8,840.0 L647.9,841.2 L639.0,842.0 L630.0,842.3 L621.0,842.3 L612.1,841.7 L603.1,840.8 L594.2,839.4 L585.5,837.5 L576.8,835.3 L568.2,832.6 L559.8,829.5 L551.6,826.0 L543.5,822.1 L535.7,817.8 L528.1,813.1 L520.7,808.2 L513.6,802.8 L506.8,797.2 L500.2,791.3 L493.9,785.1 L488.0,778.6 L482.3,771.9 L476.9,765.0 L471.9,757.9 L467.1,750.6 L462.7,743.2 L458.6,735.6 L454.7,727.8 L451.2,720.0 L448.0,712.0 L445.2,703.9 L442.6,695.7 L440.3,687.4 L438.3,679.1 L436.7,670.7 L435.3,662.2 L434.3,653.7 L433.6,645.2 Z" stroke-opacity="0.12" stroke-width="24"/>
<path d="M433.2,636.6 L433.1,628.0 L433.4,619.4 L434.0,610.8 L434.9,602.2 L436.2,593.6 L437.9,585.1 L439.9,576.7 L442.2,568.3 L445.0,560.0 L448.1,551.8 L451.5,543.7 L455.4,535.8 L459.6,528.0 L464.2,520.5 L469.1,513.1 L474.4,506.0 L480.0,499.1 L485.9,492.5 L492.2,486.2 L498.8,480.2 L505.6,474.5 L512.8,469.2 L520.2,464.2 L527.8,459.5 L535.6,455.3 L543.6,451.4 L551.8,447.9 L560.2,444.8 L568.7,442.1 L577.3,439.7 L585.9,437.8 L594.7,436.3 L603.5,435.2 L612.3,434.4 L621.2,434.1 L630.0,434.1 L638.8,434.5 L647.6,435.3 L656.4,436.4 L665.0,437.9 L673.6,439.8 L682.1,442.0 L690.6,444.6 L698.8,447.5 L707.0,450.7 L715.0,454.2 L722.9,458.1 L730.6,462.3 L738.1,466.8 L745.5,471.7 L752.6,476.8 L759.5,482.2 L766.2,488.0 L772.6,494.0 L778.8,500.2 L784.7,506.8 L790.3,513.6 L795.6,520.6 L800.6,527.9 L805.3,535.4 L809.6,543.1 L813.6,551.0 L817.1,559.1 L820.4,567.3 L823.2,575.7 L825.7,584.2 L827.7,592.8 L829.4,601.4 L830.6,610.2 L831.5,619.0 L831.9,627.8 L832.0,636.6 L831.6,645.4 L830.9,654.2 L829.8,662.9 L828.2,671.6 L826.4,680.1 L824.1,688.6 L821.5,697.0 L818.6,705.2 L815.3,713.3 L811.7,721.3 L807.7,729.1 L803.5,736.8 L798.9,744.2 L794.1,751.5 L789.0,758.6 L783.6,765.4 L777.9,772.1 L771.9,778.5 L765.7,784.7 L759.3,790.7 L752.6,796.3 L745.7,801.8 L738.5,806.9 L731.1,811.7 L723.5,816.3 L715.8,820.5 L707.8,824.4 L699.6,827.9 L691.3,831.1 L682.9,833.9 L674.3,836.3 L665.6,838.4 L656.8,840.0 L647.9,841.2 L639.0,842.0 L630.0,842.3 L621.0,842.3 L612.1,841.7 L603.1,840.8 L594.2,839.4 L585.5,837.5 L576.8,835.3 L568.2,832.6 L559.8,829.5 L551.6,826.0 L543.5,822.1 L535.7,817.8 L528.1,813.1 L520.7,808.2 L513.6,802.8 L506.8,797.2 L500.2,791.3 L493.9,785.1 L488.0,778.6 L482.3,771.9 L476.9,765.0 L471.9,757.9 L467.1,750.6 L462.7,743.2 L458.6,735.6 L454.7,727.8 L451.2,720.0 L448.0,712.0 L445.2,703.9 L442.6,695.7 L440.3,687.4 L438.3,679.1 L436.7,670.7 L435.3,662.2 L434.3,653.7 L433.6,645.2 Z" stroke-opacity="0.14" stroke-width="16"/>
<path d="M433.2,636.6 L433.1,628.0 L433.4,619.4 L434.0,610.8 L434.9,602.2 L436.2,593.6 L437.9,585.1 L439.9,576.7 L442.2,568.3 L445.0,560.0 L448.1,551.8 L451.5,543.7 L455.4,535.8 L459.6,528.0 L464.2,520.5 L469.1,513.1 L474.4,506.0 L480.0,499.1 L485.9,492.5 L492.2,486.2 L498.8,480.2 L505.6,474.5 L512.8,469.2 L520.2,464.2 L527.8,459.5 L535.6,455.3 L543.6,451.4 L551.8,447.9 L560.2,444.8 L568.7,442.1 L577.3,439.7 L585.9,437.8 L594.7,436.3 L603.5,435.2 L612.3,434.4 L621.2,434.1 L630.0,434.1 L638.8,434.5 L647.6,435.3 L656.4,436.4 L665.0,437.9 L673.6,439.8 L682.1,442.0 L690.6,444.6 L698.8,447.5 L707.0,450.7 L715.0,454.2 L722.9,458.1 L730.6,462.3 L738.1,466.8 L745.5,471.7 L752.6,476.8 L759.5,482.2 L766.2,488.0 L772.6,494.0 L778.8,500.2 L784.7,506.8 L790.3,513.6 L795.6,520.6 L800.6,527.9 L805.3,535.4 L809.6,543.1 L813.6,551.0 L817.1,559.1 L820.4,567.3 L823.2,575.7 L825.7,584.2 L827.7,592.8 L829.4,601.4 L830.6,610.2 L831.5,619.0 L831.9,627.8 L832.0,636.6 L831.6,645.4 L830.9,654.2 L829.8,662.9 L828.2,671.6 L826.4,680.1 L824.1,688.6 L821.5,697.0 L818.6,705.2 L815.3,713.3 L811.7,721.3 L807.7,729.1 L803.5,736.8 L798.9,744.2 L794.1,751.5 L789.0,758.6 L783.6,765.4 L777.9,772.1 L771.9,778.5 L765.7,784.7 L759.3,790.7 L752.6,796.3 L745.7,801.8 L738.5,806.9 L731.1,811.7 L723.5,816.3 L715.8,820.5 L707.8,824.4 L699.6,827.9 L691.3,831.1 L682.9,833.9 L674.3,836.3 L665.6,838.4 L656.8,840.0 L647.9,841.2 L639.0,842.0 L630.0,842.3 L621.0,842.3 L612.1,841.7 L603.1,840.8 L594.2,839.4 L585.5,837.5 L576.8,835.3 L568.2,832.6 L559.8,829.5 L551.6,826.0 L543.5,822.1 L535.7,817.8 L528.1,813.1 L520.7,808.2 L513.6,802.8 L506.8,797.2 L500.2,791.3 L493.9,785.1 L488.0,778.6 L482.3,771.9 L476.9,765.0 L471.9,757.9 L467.1,750.6 L462.7,743.2 L458.6,735.6 L454.7,727.8 L451.2,720.0 L448.0,712.0 L445.2,703.9 L442.6,695.7 L440.3,687.4 L438.3,679.1 L436.7,670.7 L435.3,662.2 L434.3,653.7 L433.6,645.2 Z" stroke-opacity="0.18" stroke-width="10"/>
<path d="M433.2,636.6 L433.1,628.0 L433.4,619.4 L434.0,610.8 L434.9,602.2 L436.2,593.6 L437.9,585.1 L439.9,576.7 L442.2,568.3 L445.0,560.0 L448.1,551.8 L451.5,543.7 L455.4,535.8 L459.6,528.0 L464.2,520.5 L469.1,513.1 L474.4,506.0 L480.0,499.1 L485.9,492.5 L492.2,486.2 L498.8,480.2 L505.6,474.5 L512.8,469.2 L520.2,464.2 L527.8,459.5 L535.6,455.3 L543.6,451.4 L551.8,447.9 L560.2,444.8 L568.7,442.1 L577.3,439.7 L585.9,437.8 L594.7,436.3 L603.5,435.2 L612.3,434.4 L621.2,434.1 L630.0,434.1 L638.8,434.5 L647.6,435.3 L656.4,436.4 L665.0,437.9 L673.6,439.8 L682.1,442.0 L690.6,444.6 L698.8,447.5 L707.0,450.7 L715.0,454.2 L722.9,458.1 L730.6,462.3 L738.1,466.8 L745.5,471.7 L752.6,476.8 L759.5,482.2 L766.2,488.0 L772.6,494.0 L778.8,500.2 L784.7,506.8 L790.3,513.6 L795.6,520.6 L800.6,527.9 L805.3,535.4 L809.6,543.1 L813.6,551.0 L817.1,559.1 L820.4,567.3 L823.2,575.7 L825.7,584.2 L827.7,592.8 L829.4,601.4 L830.6,610.2 L831.5,619.0 L831.9,627.8 L832.0,636.6 L831.6,645.4 L830.9,654.2 L829.8,662.9 L828.2,671.6 L826.4,680.1 L824.1,688.6 L821.5,697.0 L818.6,705.2 L815.3,713.3 L811.7,721.3 L807.7,729.1 L803.5,736.8 L798.9,744.2 L794.1,751.5 L789.0,758.6 L783.6,765.4 L777.9,772.1 L771.9,778.5 L765.7,784.7 L759.3,790.7 L752.6,796.3 L745.7,801.8 L738.5,806.9 L731.1,811.7 L723.5,816.3 L715.8,820.5 L707.8,824.4 L699.6,827.9 L691.3,831.1 L682.9,833.9 L674.3,836.3 L665.6,838.4 L656.8,840.0 L647.9,841.2 L639.0,842.0 L630.0,842.3 L621.0,842.3 L612.1,841.7 L603.1,840.8 L594.2,839.4 L585.5,837.5 L576.8,835.3 L568.2,832.6 L559.8,829.5 L551.6,826.0 L543.5,822.1 L535.7,817.8 L528.1,813.1 L520.7,808.2 L513.6,802.8 L506.8,797.2 L500.2,791.3 L493.9,785.1 L488.0,778.6 L482.3,771.9 L476.9,765.0 L471.9,757.9 L467.1,750.6 L462.7,743.2 L458.6,735.6 L454.7,727.8 L451.2,720.0 L448.0,712.0 L445.2,703.9 L442.6,695.7 L440.3,687.4 L438.3,679.1 L436.7,670.7 L435.3,662.2 L434.3,653.7 L433.6,645.2 Z" stroke-opacity="0.25" stroke-width="5"/>
<path d="M433.2,636.6 L433.1,628.0 L433.4,619.4 L434.0,610.8 L434.9,602.2 L436.2,593.6 L437.9,585.1 L439.9,576.7 L442.2,568.3 L445.0,560.0 L448.1,551.8 L451.5,543.7 L455.4,535.8 L459.6,528.0 L464.2,520.5 L469.1,513.1 L474.4,506.0 L480.0,499.1 L485.9,492.5 L492.2,486.2 L498.8,480.2 L505.6,474.5 L512.8,469.2 L520.2,464.2 L527.8,459.5 L535.6,455.3 L543.6,451.4 L551.8,447.9 L560.2,444.8 L568.7,442.1 L577.3,439.7 L585.9,437.8 L594.7,436.3 L603.5,435.2 L612.3,434.4 L621.2,434.1 L630.0,434.1 L638.8,434.5 L647.6,435.3 L656.4,436.4 L665.0,437.9 L673.6,439.8 L682.1,442.0 L690.6,444.6 L698.8,447.5 L707.0,450.7 L715.0,454.2 L722.9,458.1 L730.6,462.3 L738.1,466.8 L745.5,471.7 L752.6,476.8 L759.5,482.2 L766.2,488.0 L772.6,494.0 L778.8,500.2 L784.7,506.8 L790.3,513.6 L795.6,520.6 L800.6,527.9 L805.3,535.4 L809.6,543.1 L813.6,551.0 L817.1,559.1 L820.4,567.3 L823.2,575.7 L825.7,584.2 L827.7,592.8 L829.4,601.4 L830.6,610.2 L831.5,619.0 L831.9,627.8 L832.0,636.6 L831.6,645.4 L830.9,654.2 L829.8,662.9 L828.2,671.6 L826.4,680.1 L824.1,688.6 L821.5,697.0 L818.6,705.2 L815.3,713.3 L811.7,721.3 L807.7,729.1 L803.5,736.8 L798.9,744.2 L794.1,751.5 L789.0,758.6 L783.6,765.4 L777.9,772.1 L771.9,778.5 L765.7,784.7 L759.3,790.7 L752.6,796.3 L745.7,801.8 L738.5,806.9 L731.1,811.7 L723.5,816.3 L715.8,820.5 L707.8,824.4 L699.6,827.9 L691.3,831.1 L682.9,833.9 L674.3,836.3 L665.6,838.4 L656.8,840.0 L647.9,841.2 L639.0,842.0 L630.0,842.3 L621.0,842.3 L612.1,841.7 L603.1,840.8 L594.2,839.4 L585.5,837.5 L576.8,835.3 L568.2,832.6 L559.8,829.5 L551.6,826.0 L543.5,822.1 L535.7,817.8 L528.1,813.1 L520.7,808.2 L513.6,802.8 L506.8,797.2 L500.2,791.3 L493.9,785.1 L488.0,778.6 L482.3,771.9 L476.9,765.0 L471.9,757.9 L467.1,750.6 L462.7,743.2 L458.6,735.6 L454.7,727.8 L451.2,720.0 L448.0,712.0 L445.2,703.9 L442.6,695.7 L440.3,687.4 L438.3,679.1 L436.7,670.7 L435.3,662.2 L434.3,653.7 L433.6,645.2 Z" stroke-opacity="0.35" stroke-width="2"/>
</g>
<path d="M433.2,636.6 L433.1,628.0 L433.4,619.4 L434.0,610.8 L434.9,602.2 L436.2,593.6 L437.9,585.1 L439.9,576.7 L442.2,568.3 L445.0,560.0 L448.1,551.8 L451.5,543.7 L455.4,535.8 L459.6,528.0 L464.2,520.5 L469.1,513.1 L474.4,506.0 L480.0,499.1 L485.9,492.5 L492.2,486.2 L498.8,480.2 L505.6,474.5 L512.8,469.2 L520.2,464.2 L527.8,459.5 L535.6,455.3 L543.6,451.4 L551.8,447.9 L560.2,444.8 L568.7,442.1 L577.3,439.7 L585.9,437.8 L594.7,436.3 L603.5,435.2 L612.3,434.4 L621.2,434.1 L630.0,434.1 L638.8,434.5 L647.6,435.3 L656.4,436.4 L665.0,437.9 L673.6,439.8 L682.1,442.0 L690.6,444.6 L698.8,447.5 L707.0,450.7 L715.0,454.2 L722.9,458.1 L730.6,462.3 L738.1,466.8 L745.5,471.7 L752.6,476.8 L759.5,482.2 L766.2,488.0 L772.6,494.0 L778.8,500.2 L784.7,506.8 L790.3,513.6 L795.6,520.6 L800.6,527.9 L805.3,535.4 L809.6,543.1 L813.6,551.0 L817.1,559.1 L820.4,567.3 L823.2,575.7 L825.7,584.2 L827.7,592.8 L829.4,601.4 L830.6,610.2 L831.5,619.0 L831.9,627.8 L832.0,636.6 L831.6,645.4 L830.9,654.2 L829.8,662.9 L828.2,671.6 L826.4,680.1 L824.1,688.6 L821.5,697.0 L818.6,705.2 L815.3,713.3 L811.7,721.3 L807.7,729.1 L803.5,736.8 L798.9,744.2 L794.1,751.5 L789.0,758.6 L783.6,765.4 L777.9,772.1 L771.9,778.5 L765.7,784.7 L759.3,790.7 L752.6,796.3 L745.7,801.8 L738.5,806.9 L731.1,811.7 L723.5,816.3 L715.8,820.5 L707.8,824.4 L699.6,827.9 L691.3,831.1 L682.9,833.9 L674.3,836.3 L665.6,838.4 L656.8,840.0 L647.9,841.2 L639.0,842.0 L630.0,842.3 L621.0,842.3 L612.1,841.7 L603.1,840.8 L594.2,839.4 L585.5,837.5 L576.8,835.3 L568.2,832.6 L559.8,829.5 L551.6,826.0 L543.5,822.1 L535.7,817.8 L528.1,813.1 L520.7,808.2 L513.6,802.8 L506.8,797.2 L500.2,791.3 L493.9,785.1 L488.0,778.6 L482.3,771.9 L476.9,765.0 L471.9,757.9 L467.1,750.6 L462.7,743.2 L458.6,735.6 L454.7,727.8 L451.2,720.0 L448.0,712.0 L445.2,703.9 L442.6,695.7 L440.3,687.4 L438.3,679.1 L436.7,670.7 L435.3,662.2 L434.3,653.7 L433.6,645.2 Z" fill="#000" opacity="0.3" filter="url(#diskTex)"/>
<path d="M606,470 Q598,645.0 608,820" fill="none" stroke="#ff4a3a" stroke-width="1.6" opacity="0.22" clip-path="url(#dcD)"/>
<path d="M629,460 Q620,642.5 631,825" fill="none" stroke="#ff4a3a" stroke-width="1.6" opacity="0.2" clip-path="url(#dcD)"/>
<path d="M647,455 Q638,642.5 649,830" fill="none" stroke="#ff4a3a" stroke-width="1.6" opacity="0.22" clip-path="url(#dcD)"/>
<path d="M670,455 Q660,642.5 672,830" fill="none" stroke="#ff4a3a" stroke-width="1.6" opacity="0.2" clip-path="url(#dcD)"/>
<path d="M697,462 Q687,642.0 699,822" fill="none" stroke="#ff4a3a" stroke-width="1.6" opacity="0.18" clip-path="url(#dcD)"/>
<path d="M722,470 Q712,641.0 724,812" fill="none" stroke="#ff4a3a" stroke-width="1.6" opacity="0.15" clip-path="url(#dcD)"/>
<path d="M585,480 Q578,647.5 587,815" fill="none" stroke="#ff4a3a" stroke-width="1.6" opacity="0.12" clip-path="url(#dcD)"/>
<ellipse cx="640" cy="626.5" rx="190" ry="4" fill="#ff1808" opacity="0.45" filter="url(#blur2)"/>
<line x1="448" y1="626.5" x2="824" y2="626.5" stroke="#ff3010" stroke-width="1.4" opacity="0.35"/>
<ellipse cx="526.5" cy="626.5" rx="30" ry="22" fill="url(#glowRed)"/>
<ellipse cx="524.5" cy="616.5" rx="7" ry="50" fill="url(#glowRed)" opacity="0.5"/>
<ellipse cx="524.5" cy="626.5" rx="15" ry="14" fill="#ffd21e" filter="url(#blurS)"/>
<ellipse cx="536.5" cy="626.5" rx="14" ry="4.5" fill="#ffe060" filter="url(#blurS)"/>
<ellipse cx="515.5" cy="626.5" rx="12" ry="3" fill="#ffc020" filter="url(#blurS)"/>
<ellipse cx="524.5" cy="626.5" rx="10.5" ry="10.5" fill="#fff" filter="url(#blurS)"/>
<ellipse cx="536.5" cy="626.5" rx="13" ry="2.8" fill="#fff" filter="url(#blurS)"/>
<circle cx="567" cy="626.5" r="5" fill="url(#spotSmall)"/>
<ellipse cx="596.6" cy="626.5" rx="16" ry="14" fill="url(#glowRed)"/>
<path d="M588.1,626.5 L596.6,617.0 L605.1,626.5 L596.6,636.0 Z" fill="#ffe040" filter="url(#blurS)"/>
<path d="M591.1,626.5 L596.6,620.0 L602.1,626.5 L596.6,633.0 Z" fill="#ffffff" filter="url(#blurS)"/>
<circle cx="658.5" cy="626.5" r="5" fill="url(#spotFaint)"/>
<circle cx="667" cy="626.5" r="5" fill="url(#spotSmall)"/>
<ellipse cx="738" cy="626.5" rx="16" ry="14" fill="url(#glowRed)"/>
<path d="M729.5,626.5 L738.0,617.0 L746.5,626.5 L738.0,636.0 Z" fill="#ffe040" filter="url(#blurS)"/>
<path d="M732.5,626.5 L738.0,620.0 L743.5,626.5 L738.0,633.0 Z" fill="#ffffff" filter="url(#blurS)"/>
<line x1="596.6" y1="495.7" x2="596.6" y2="600.7" stroke="#f7f3f3" stroke-width="1.6"/><path d="M596.6,614.2 L589.4,598.7 L603.8,598.7 Z" fill="#f7f3f3"/>
<line x1="678.1" y1="473.8" x2="661.5" y2="605.7" stroke="#f7f3f3" stroke-width="1.6"/><path d="M659.8,619.1 L654.6,602.8 L668.9,604.6 Z" fill="#f7f3f3"/>
<line x1="566.8" y1="689.6" x2="566.8" y2="645.7" stroke="#f7f3f3" stroke-width="1.6"/><path d="M566.8,632.2 L574.0,647.7 L559.6,647.7 Z" fill="#f7f3f3"/>
<line x1="476.9" y1="661.5" x2="497.9" y2="645.3" stroke="#f7f3f3" stroke-width="1.6"/><path d="M508.6,637.1 L500.7,652.3 L491.9,640.8 Z" fill="#f7f3f3"/>
<line x1="613.7" y1="723.8" x2="605.7" y2="705.6" stroke="#f7f3f3" stroke-width="1.6"/><path d="M600.2,693.3 L613.1,704.6 L599.9,710.4 Z" fill="#f7f3f3"/>
<line x1="613.7" y1="723.8" x2="623.7" y2="696.2" stroke="#f7f3f3" stroke-width="1.6"/><path d="M628.3,683.5 L629.8,700.5 L616.3,695.6 Z" fill="#f7f3f3"/>
<line x1="678.1" y1="671.3" x2="672.5" y2="646.6" stroke="#f7f3f3" stroke-width="1.6"/><path d="M669.5,633.4 L680.0,646.9 L665.9,650.1 Z" fill="#f7f3f3"/>
<line x1="784.4" y1="677.4" x2="756.5" y2="644.9" stroke="#f7f3f3" stroke-width="1.6"/><path d="M747.7,634.7 L763.3,641.8 L752.3,651.1 Z" fill="#f7f3f3"/>
<line x1="658.5" y1="797.1" x2="667.7" y2="776.5" stroke="#f7f3f3" stroke-width="1.6"/><path d="M673.2,764.2 L673.5,781.3 L660.3,775.4 Z" fill="#f7f3f3"/>
<text x="433" y="467.1" font-size="37.5" fill="#f7f3f3" stroke="#f7f3f3" stroke-width="0.45" text-anchor="start" letter-spacing="1.5">(d)</text>
<text x="490.8" y="490.9" font-size="31.5" fill="#f7f3f3" stroke="#f7f3f3" stroke-width="0.45" text-anchor="start" >(005)YBCO</text>
<text x="640" y="456.7" font-size="32" fill="#f7f3f3" stroke="#f7f3f3" stroke-width="0.45" text-anchor="start" >Y225</text>
<text x="547.5" y="711.6" font-size="29" fill="#f7f3f3" stroke="#f7f3f3" stroke-width="0.45" text-anchor="start" >k<tspan font-size="19.5" dy="8">β</tspan></text>
<text x="585.3" y="747" font-size="32.5" fill="#f7f3f3" stroke="#f7f3f3" stroke-width="0.45" text-anchor="start" >CuO</text>
<text x="520.5" y="824" font-size="31.5" fill="#f7f3f3" stroke="#f7f3f3" stroke-width="0.45" text-anchor="start" >(103)YBCO</text>
<text transform="translate(464.3,796) rotate(-90)" font-size="31.5" fill="#f7f3f3" stroke="#f7f3f3" stroke-width="0.45">(002)STO</text>
<text transform="translate(498.5,796) rotate(-90)" font-size="31.5" fill="#f7f3f3" stroke="#f7f3f3" stroke-width="0.45">020)LMO</text>
<text transform="translate(703.3,753.5) rotate(-90)" font-size="31.5" fill="#f7f3f3" stroke="#f7f3f3" stroke-width="0.45">(004)YBCO</text>
<text transform="translate(777.9,815.5) rotate(-90)" font-size="31.5" fill="#f7f3f3" stroke="#f7f3f3" stroke-width="0.45">(001)STO</text>
<text transform="translate(817,815.5) rotate(-90)" font-size="31.5" fill="#f7f3f3" stroke="#f7f3f3" stroke-width="0.45">(010)LMO</text>
</g>
<line x1="1093.0" y1="546" x2="1093.0" y2="732.4" stroke="#f4888f" stroke-width="2.6" stroke-dasharray="15 13"/>
<line x1="1119.0" y1="546" x2="1119.0" y2="732.4" stroke="#f4888f" stroke-width="2.6" stroke-dasharray="15 13"/>
<line x1="1144.0" y1="546" x2="1144.0" y2="732.4" stroke="#f4888f" stroke-width="2.6" stroke-dasharray="15 13"/>
<line x1="1155.5" y1="548" x2="1155.5" y2="732.4" stroke="#f4888f" stroke-width="2.6" stroke-dasharray="15 13"/>
<line x1="1175.5" y1="536" x2="1175.5" y2="732.4" stroke="#2ec27e" stroke-width="2.6" stroke-dasharray="15 13"/>
<line x1="1229.3" y1="545" x2="1229.3" y2="732.4" stroke="#2ec27e" stroke-width="2.6" stroke-dasharray="15 13"/>
<line x1="1261.3" y1="540" x2="1261.3" y2="732.4" stroke="#2ec27e" stroke-width="2.6" stroke-dasharray="15 13"/>
<line x1="1465.6" y1="542" x2="1465.6" y2="732.4" stroke="#2ec27e" stroke-width="2.6" stroke-dasharray="15 13"/>
<line x1="1192.6" y1="490" x2="1192.6" y2="732.4" stroke="#1c6e2c" stroke-width="2.8" stroke-dasharray="15 13"/>
<line x1="1218.0" y1="512" x2="1218.0" y2="732.4" stroke="#d9a21b" stroke-width="2.8" stroke-dasharray="15 13"/>
<line x1="1248.5" y1="495" x2="1248.5" y2="732.4" stroke="#f07b84" stroke-width="2.6" stroke-dasharray="15 13"/>
<line x1="1326.0" y1="536" x2="1326.0" y2="732.4" stroke="#3e5e60" stroke-width="2.8" stroke-dasharray="15 13"/>
<line x1="1425.0" y1="530" x2="1425.0" y2="732.4" stroke="#3e5e60" stroke-width="2.8" stroke-dasharray="15 13"/>
<line x1="1402.0" y1="330" x2="1402.0" y2="732.4" stroke="#1f8f2a" stroke-width="2.8" stroke-dasharray="15 13"/>
<line x1="1491.0" y1="522" x2="1491.0" y2="732.4" stroke="#111111" stroke-width="2.4" stroke-dasharray="15 13"/>
<line x1="1647.0" y1="349" x2="1647.0" y2="732.4" stroke="#c0393f" stroke-width="2.4" stroke-dasharray="15 13"/>
<path d="M912.0,543.3 L913.5,543.7 L915.0,542.5 L916.5,542.2 L918.0,542.8 L919.5,543.3 L921.0,542.8 L922.5,543.1 L924.0,543.6 L925.5,543.2 L927.0,543.2 L928.5,542.6 L930.0,542.2 L931.5,541.6 L933.0,542.4 L934.5,542.7 L936.0,542.6 L937.5,541.5 L939.0,541.1 L940.5,541.3 L942.0,541.5 L943.5,542.4 L945.0,543.2 L946.5,541.2 L948.0,537.9 L949.5,536.9 L951.0,538.5 L952.5,539.4 L954.0,539.3 L955.5,540.4 L957.0,539.1 L958.5,537.0 L960.0,536.0 L961.5,536.2 L963.0,534.5 L964.5,529.8 L966.0,523.5 L967.5,516.1 L969.0,506.1 L970.5,490.5 L972.0,467.8 L973.5,441.1 L975.0,411.6 L976.5,381.1 L978.0,351.6 L979.5,324.2 L981.0,297.4 L982.5,275.1 L984.0,268.0 L985.5,282.9 L987.0,306.2 L988.5,332.8 L990.0,361.2 L991.5,392.2 L993.0,421.9 L994.5,451.4 L996.0,476.4 L997.5,495.9 L999.0,508.9 L1000.5,518.4 L1002.0,525.4 L1003.5,528.7 L1005.0,530.2 L1006.5,531.9 L1008.0,533.9 L1009.5,535.8 L1011.0,537.3 L1012.5,537.4 L1014.0,537.6 L1015.5,538.9 L1017.0,540.5 L1018.5,539.9 L1020.0,539.8 L1021.5,541.1 L1023.0,542.6 L1024.5,542.5 L1026.0,541.4 L1027.5,540.8 L1029.0,541.5 L1030.5,543.3 L1032.0,544.1 L1033.5,543.5 L1035.0,542.0 L1036.5,542.8 L1038.0,545.2 L1039.5,545.8 L1041.0,545.1 L1042.5,545.4 L1044.0,546.5 L1045.5,547.3 L1047.0,547.5 L1048.5,547.1 L1050.0,546.5 L1051.5,547.2 L1053.0,546.2 L1054.5,545.6 L1056.0,545.5 L1057.5,546.2 L1059.0,546.1 L1060.5,545.5 L1062.0,545.0 L1063.5,541.1 L1065.0,538.1 L1066.5,540.2 L1068.0,545.4 L1069.5,547.4 L1071.0,546.7 L1072.5,548.2 L1074.0,549.8 L1075.5,550.3 L1077.0,549.3 L1078.5,549.6 L1080.0,550.8 L1081.5,551.2 L1083.0,551.4 L1084.5,550.5 L1086.0,550.8 L1087.5,550.5 L1089.0,551.3 L1090.5,552.6 L1092.0,552.6 L1093.5,549.9 L1095.0,549.2 L1096.5,552.9 L1098.0,554.5 L1099.5,552.6 L1101.0,551.3 L1102.5,551.9 L1104.0,552.1 L1105.5,551.6 L1107.0,552.6 L1108.5,552.9 L1110.0,553.2 L1111.5,552.9 L1113.0,552.6 L1114.5,552.0 L1116.0,551.7 L1117.5,552.2 L1119.0,551.9 L1120.5,551.6 L1122.0,552.6 L1123.5,554.0 L1125.0,554.4 L1126.5,553.8 L1128.0,553.7 L1129.5,553.4 L1131.0,553.4 L1132.5,554.1 L1134.0,553.5 L1135.5,553.5 L1137.0,553.4 L1138.5,553.1 L1140.0,551.9 L1141.5,552.1 L1143.0,554.1 L1144.5,554.4 L1146.0,554.2 L1147.5,551.9 L1149.0,552.2 L1150.5,553.2 L1152.0,554.8 L1153.5,554.1 L1155.0,553.6 L1156.5,554.4 L1158.0,555.4 L1159.5,556.6 L1161.0,556.6 L1162.5,555.3 L1164.0,553.6 L1165.5,553.4 L1167.0,553.7 L1168.5,553.4 L1170.0,552.3 L1171.5,548.9 L1173.0,546.0 L1174.5,544.7 L1176.0,546.8 L1177.5,549.3 L1179.0,552.9 L1180.5,554.9 L1182.0,554.4 L1183.5,552.4 L1185.0,552.7 L1186.5,550.9 L1188.0,541.9 L1189.5,524.6 L1191.0,511.4 L1192.5,513.1 L1194.0,527.5 L1195.5,541.0 L1197.0,550.0 L1198.5,553.5 L1200.0,552.9 L1201.5,551.8 L1203.0,551.0 L1204.5,553.4 L1206.0,553.9 L1207.5,554.3 L1209.0,550.9 L1210.5,548.2 L1212.0,545.5 L1213.5,542.1 L1215.0,540.8 L1216.5,543.3 L1218.0,548.7 L1219.5,551.5 L1221.0,555.4 L1222.5,556.8 L1224.0,557.6 L1225.5,557.4 L1227.0,558.2 L1228.5,558.3 L1230.0,558.0 L1231.5,558.5 L1233.0,558.2 L1234.5,558.3 L1236.0,558.7 L1237.5,559.6 L1239.0,560.1 L1240.5,560.4 L1242.0,561.3 L1243.5,561.4 L1245.0,561.5 L1246.5,560.8 L1248.0,560.7 L1249.5,560.2 L1251.0,561.1 L1252.5,561.2 L1254.0,561.4 L1255.5,561.6 L1257.0,563.1 L1258.5,563.6 L1260.0,561.9 L1261.5,561.8 L1263.0,563.0 L1264.5,563.6 L1266.0,563.6 L1267.5,563.7 L1269.0,563.7 L1270.5,563.3 L1272.0,564.2 L1273.5,565.2 L1275.0,564.3 L1276.5,565.5 L1278.0,565.9 L1279.5,565.6 L1281.0,564.7 L1282.5,565.6 L1284.0,566.8 L1285.5,566.5 L1287.0,566.7 L1288.5,566.9 L1290.0,566.9 L1291.5,567.3 L1293.0,567.3 L1294.5,567.2 L1296.0,566.8 L1297.5,567.8 L1299.0,568.5 L1300.5,567.9 L1302.0,567.9 L1303.5,567.2 L1305.0,566.6 L1306.5,566.3 L1308.0,566.9 L1309.5,567.3 L1311.0,567.5 L1312.5,569.0 L1314.0,568.5 L1315.5,567.6 L1317.0,567.1 L1318.5,565.9 L1320.0,566.9 L1321.5,564.9 L1323.0,559.2 L1324.5,549.5 L1326.0,548.5 L1327.5,554.9 L1329.0,561.5 L1330.5,566.2 L1332.0,568.5 L1333.5,568.0 L1335.0,568.1 L1336.5,568.1 L1338.0,568.3 L1339.5,568.5 L1341.0,568.6 L1342.5,567.1 L1344.0,566.6 L1345.5,566.7 L1347.0,568.1 L1348.5,568.7 L1350.0,569.6 L1351.5,569.0 L1353.0,568.8 L1354.5,567.5 L1356.0,567.4 L1357.5,568.6 L1359.0,568.9 L1360.5,567.2 L1362.0,565.5 L1363.5,565.1 L1365.0,564.5 L1366.5,564.1 L1368.0,563.8 L1369.5,564.5 L1371.0,564.0 L1372.5,563.2 L1374.0,561.9 L1375.5,560.6 L1377.0,559.6 L1378.5,557.2 L1380.0,554.4 L1381.5,550.6 L1383.0,548.1 L1384.5,544.0 L1386.0,539.1 L1387.5,532.1 L1389.0,525.3 L1390.5,514.7 L1392.0,500.1 L1393.5,479.1 L1395.0,454.9 L1396.5,427.6 L1398.0,397.8 L1399.5,368.9 L1401.0,346.9 L1402.5,343.0 L1404.0,362.6 L1405.5,390.8 L1407.0,420.9 L1408.5,448.8 L1410.0,472.4 L1411.5,493.1 L1413.0,509.3 L1414.5,522.6 L1416.0,532.5 L1417.5,537.9 L1419.0,542.0 L1420.5,544.7 L1422.0,549.5 L1423.5,551.3 L1425.0,553.4 L1426.5,555.0 L1428.0,557.9 L1429.5,559.6 L1431.0,559.8 L1432.5,559.7 L1434.0,561.1 L1435.5,562.6 L1437.0,562.1 L1438.5,562.2 L1440.0,563.4 L1441.5,565.4 L1443.0,565.0 L1444.5,565.2 L1446.0,564.3 L1447.5,564.7 L1449.0,564.3 L1450.5,565.3 L1452.0,565.9 L1453.5,565.9 L1455.0,565.0 L1456.5,564.4 L1458.0,565.7 L1459.5,566.3 L1461.0,564.7 L1462.5,562.3 L1464.0,560.3 L1465.5,560.8 L1467.0,561.0 L1468.5,561.7 L1470.0,562.9 L1471.5,564.1 L1473.0,563.1 L1474.5,562.6 L1476.0,564.6 L1477.5,564.9 L1479.0,564.5 L1480.5,564.0 L1482.0,565.2 L1483.5,564.9 L1485.0,564.9 L1486.5,562.9 L1488.0,560.6 L1489.5,554.5 L1491.0,550.2 L1492.5,556.4 L1494.0,561.0 L1495.5,561.8 L1497.0,562.5 L1498.5,563.0 L1500.0,562.1 L1501.5,561.3 L1503.0,560.1 L1504.5,559.9 L1506.0,560.5 L1507.5,560.9 L1509.0,560.9 L1510.5,560.0 L1512.0,559.5 L1513.5,558.7 L1515.0,560.8 L1516.5,560.4 L1518.0,560.1 L1519.5,559.7 L1521.0,560.9 L1522.5,561.0 L1524.0,559.6 L1525.5,557.0 L1527.0,556.1 L1528.5,556.4 L1530.0,557.0 L1531.5,555.6 L1533.0,556.6 L1534.5,557.7 L1536.0,557.6 L1537.5,556.7 L1539.0,556.2 L1540.5,556.0 L1542.0,554.8 L1543.5,554.1 L1545.0,554.0 L1546.5,553.6 L1548.0,552.7 L1549.5,551.9 L1551.0,550.5 L1552.5,549.4 L1554.0,547.8 L1555.5,547.3 L1557.0,543.8 L1558.5,538.4 L1560.0,530.7 L1561.5,529.6 L1563.0,532.2 L1564.5,534.8 L1566.0,535.1 L1567.5,533.5 L1569.0,530.6 L1570.5,528.6 L1572.0,527.5 L1573.5,527.6 L1575.0,527.9 L1576.5,527.7 L1578.0,525.8 L1579.5,523.2 L1581.0,521.3 L1582.5,520.6 L1584.0,521.3 L1585.5,521.0 L1587.0,518.6 L1588.5,515.4 L1590.0,512.8 L1591.5,510.3 L1593.0,507.6 L1594.5,505.1 L1596.0,503.0 L1597.5,498.3 L1599.0,491.5 L1600.5,481.6 L1602.0,467.5 L1603.5,448.3 L1605.0,423.5 L1606.5,393.5 L1608.0,358.8 L1609.5,322.7 L1611.0,286.3 L1612.5,250.5 L1614.0,217.6 L1615.5,189.0 L1617.0,164.6 L1618.5,147.4 L1620.0,144.8 L1621.5,160.6 L1623.0,184.3 L1624.5,213.8 L1626.0,246.0 L1627.5,280.7 L1629.0,316.2 L1630.5,350.9 L1632.0,384.0 L1633.5,414.2 L1635.0,438.2 L1636.5,457.5 L1638.0,470.3 L1639.5,479.6 L1641.0,486.1 L1642.5,491.8 L1644.0,495.1 L1645.5,497.8 L1647.0,502.4 L1648.5,508.6 L1650.0,514.5 L1651.5,518.8 L1653.0,522.1 L1654.5,526.3 L1656.0,528.5 L1657.5,531.5 L1659.0,534.3 L1660.5,537.2 L1662.0,540.5 L1663.5,542.4 L1665.0,543.5 L1666.5,542.8 L1668.0,545.9 L1669.5,547.9 L1671.0,549.9 L1672.5,551.1 L1674.0,552.9 L1675.5,552.5 L1677.0,552.3 L1678.5,554.3 L1680.0,555.7 L1681.5,555.8 L1683.0,555.4 L1684.5,557.8 L1686.0,559.5 L1687.5,560.7 L1689.0,560.2 L1690.5,560.9 L1692.0,561.9 L1693.5,562.1 L1695.0,562.6 L1696.5,565.1 L1698.0,566.4 L1699.5,565.2 L1701.0,565.4 L1702.5,565.7 L1704.0,564.1 L1705.5,562.7 L1707.0,564.0 L1708.5,565.6 L1710.0,566.9" fill="none" stroke="#3b6aa3" stroke-width="2.6" stroke-linejoin="round"/>
<path d="M912.0,658.3 L913.5,658.0 L915.0,656.5 L916.5,657.8 L918.0,660.0 L919.5,661.5 L921.0,660.7 L922.5,660.5 L924.0,660.3 L925.5,660.4 L927.0,660.5 L928.5,660.4 L930.0,659.3 L931.5,659.8 L933.0,660.3 L934.5,661.1 L936.0,660.5 L937.5,660.3 L939.0,659.4 L940.5,660.0 L942.0,660.3 L943.5,660.8 L945.0,660.2 L946.5,659.1 L948.0,658.6 L949.5,659.6 L951.0,658.8 L952.5,655.5 L954.0,652.0 L955.5,652.6 L957.0,652.9 L958.5,652.7 L960.0,650.4 L961.5,646.6 L963.0,641.0 L964.5,634.0 L966.0,626.0 L967.5,614.2 L969.0,599.3 L970.5,581.4 L972.0,562.3 L973.5,538.3 L975.0,510.3 L976.5,481.0 L978.0,454.7 L979.5,429.3 L981.0,406.9 L982.5,386.7 L984.0,381.0 L985.5,396.4 L987.0,417.7 L988.5,441.2 L990.0,468.4 L991.5,496.9 L993.0,523.7 L994.5,549.5 L996.0,572.0 L997.5,589.3 L999.0,602.2 L1000.5,614.1 L1002.0,623.5 L1003.5,630.3 L1005.0,634.7 L1006.5,639.0 L1008.0,641.3 L1009.5,642.1 L1011.0,641.6 L1012.5,644.3 L1014.0,647.3 L1015.5,650.7 L1017.0,650.9 L1018.5,650.7 L1020.0,650.3 L1021.5,651.5 L1023.0,651.9 L1024.5,651.5 L1026.0,653.7 L1027.5,656.1 L1029.0,657.3 L1030.5,656.6 L1032.0,656.3 L1033.5,657.1 L1035.0,658.1 L1036.5,658.4 L1038.0,658.0 L1039.5,658.1 L1041.0,659.0 L1042.5,660.6 L1044.0,661.3 L1045.5,662.1 L1047.0,661.8 L1048.5,662.4 L1050.0,661.4 L1051.5,661.8 L1053.0,662.2 L1054.5,662.8 L1056.0,662.6 L1057.5,662.3 L1059.0,662.1 L1060.5,661.3 L1062.0,660.3 L1063.5,657.6 L1065.0,653.3 L1066.5,652.7 L1068.0,660.4 L1069.5,665.9 L1071.0,667.2 L1072.5,667.6 L1074.0,667.8 L1075.5,668.6 L1077.0,667.5 L1078.5,668.3 L1080.0,666.9 L1081.5,667.9 L1083.0,668.5 L1084.5,669.2 L1086.0,669.7 L1087.5,670.8 L1089.0,670.5 L1090.5,666.8 L1092.0,663.5 L1093.5,663.1 L1095.0,666.9 L1096.5,670.5 L1098.0,671.9 L1099.5,671.5 L1101.0,670.9 L1102.5,670.6 L1104.0,670.5 L1105.5,671.0 L1107.0,672.6 L1108.5,674.1 L1110.0,673.8 L1111.5,673.2 L1113.0,672.3 L1114.5,674.1 L1116.0,674.2 L1117.5,674.4 L1119.0,672.4 L1120.5,671.6 L1122.0,671.4 L1123.5,672.0 L1125.0,672.6 L1126.5,671.6 L1128.0,671.8 L1129.5,671.4 L1131.0,673.3 L1132.5,673.2 L1134.0,674.0 L1135.5,671.9 L1137.0,671.5 L1138.5,669.5 L1140.0,667.5 L1141.5,663.8 L1143.0,662.1 L1144.5,664.7 L1146.0,668.7 L1147.5,671.6 L1149.0,672.0 L1150.5,670.0 L1152.0,667.0 L1153.5,664.4 L1155.0,662.3 L1156.5,664.7 L1158.0,668.2 L1159.5,671.0 L1161.0,672.0 L1162.5,673.1 L1164.0,673.5 L1165.5,672.1 L1167.0,671.7 L1168.5,672.1 L1170.0,672.1 L1171.5,672.3 L1173.0,672.9 L1174.5,672.0 L1176.0,670.7 L1177.5,669.9 L1179.0,671.6 L1180.5,672.5 L1182.0,672.3 L1183.5,670.2 L1185.0,669.1 L1186.5,668.1 L1188.0,665.1 L1189.5,657.8 L1191.0,649.8 L1192.5,650.0 L1194.0,656.6 L1195.5,663.9 L1197.0,668.3 L1198.5,671.0 L1200.0,670.3 L1201.5,670.1 L1203.0,671.6 L1204.5,671.8 L1206.0,668.8 L1207.5,665.9 L1209.0,662.3 L1210.5,659.9 L1212.0,657.6 L1213.5,660.2 L1215.0,662.4 L1216.5,666.6 L1218.0,669.6 L1219.5,671.0 L1221.0,669.7 L1222.5,670.2 L1224.0,673.2 L1225.5,675.5 L1227.0,675.8 L1228.5,675.0 L1230.0,675.7 L1231.5,676.3 L1233.0,676.8 L1234.5,675.9 L1236.0,676.3 L1237.5,677.8 L1239.0,677.8 L1240.5,678.2 L1242.0,678.7 L1243.5,679.1 L1245.0,676.1 L1246.5,675.9 L1248.0,677.4 L1249.5,678.5 L1251.0,676.7 L1252.5,677.0 L1254.0,677.9 L1255.5,678.5 L1257.0,679.9 L1258.5,682.7 L1260.0,683.7 L1261.5,681.4 L1263.0,680.2 L1264.5,678.4 L1266.0,678.3 L1267.5,678.0 L1269.0,678.7 L1270.5,677.5 L1272.0,678.5 L1273.5,680.1 L1275.0,681.4 L1276.5,681.8 L1278.0,681.4 L1279.5,680.3 L1281.0,678.5 L1282.5,678.9 L1284.0,680.8 L1285.5,682.3 L1287.0,682.9 L1288.5,681.9 L1290.0,681.4 L1291.5,680.8 L1293.0,680.8 L1294.5,682.5 L1296.0,684.4 L1297.5,684.7 L1299.0,682.7 L1300.5,682.2 L1302.0,682.0 L1303.5,682.6 L1305.0,682.3 L1306.5,682.8 L1308.0,682.1 L1309.5,682.6 L1311.0,682.2 L1312.5,681.7 L1314.0,681.4 L1315.5,682.0 L1317.0,683.0 L1318.5,683.7 L1320.0,684.9 L1321.5,684.7 L1323.0,681.5 L1324.5,677.7 L1326.0,677.8 L1327.5,682.1 L1329.0,685.0 L1330.5,685.4 L1332.0,685.0 L1333.5,685.9 L1335.0,685.1 L1336.5,683.4 L1338.0,683.0 L1339.5,683.7 L1341.0,683.2 L1342.5,683.1 L1344.0,684.8 L1345.5,686.1 L1347.0,688.6 L1348.5,688.5 L1350.0,688.3 L1351.5,686.9 L1353.0,687.0 L1354.5,685.4 L1356.0,683.6 L1357.5,682.5 L1359.0,683.9 L1360.5,686.5 L1362.0,687.4 L1363.5,686.7 L1365.0,684.6 L1366.5,684.6 L1368.0,685.2 L1369.5,684.8 L1371.0,682.6 L1372.5,680.3 L1374.0,680.5 L1375.5,680.1 L1377.0,679.0 L1378.5,676.3 L1380.0,674.0 L1381.5,670.6 L1383.0,665.1 L1384.5,658.4 L1386.0,650.5 L1387.5,642.8 L1389.0,634.8 L1390.5,622.0 L1392.0,605.7 L1393.5,587.8 L1395.0,570.2 L1396.5,551.6 L1398.0,533.6 L1399.5,520.8 L1401.0,512.7 L1402.5,516.7 L1404.0,528.3 L1405.5,544.7 L1407.0,561.2 L1408.5,578.4 L1410.0,597.1 L1411.5,614.6 L1413.0,628.9 L1414.5,639.6 L1416.0,649.1 L1417.5,657.3 L1419.0,664.2 L1420.5,669.8 L1422.0,673.1 L1423.5,674.5 L1425.0,673.9 L1426.5,676.4 L1428.0,679.0 L1429.5,681.5 L1431.0,682.1 L1432.5,683.9 L1434.0,684.9 L1435.5,684.7 L1437.0,683.8 L1438.5,684.1 L1440.0,684.0 L1441.5,684.5 L1443.0,685.4 L1444.5,687.0 L1446.0,685.9 L1447.5,685.1 L1449.0,683.8 L1450.5,683.7 L1452.0,683.3 L1453.5,684.0 L1455.0,683.7 L1456.5,684.1 L1458.0,684.9 L1459.5,684.3 L1461.0,683.7 L1462.5,680.9 L1464.0,677.9 L1465.5,675.7 L1467.0,678.5 L1468.5,682.0 L1470.0,682.0 L1471.5,681.8 L1473.0,681.9 L1474.5,683.9 L1476.0,684.0 L1477.5,683.8 L1479.0,682.2 L1480.5,681.6 L1482.0,680.9 L1483.5,681.8 L1485.0,681.2 L1486.5,680.0 L1488.0,678.5 L1489.5,676.4 L1491.0,672.9 L1492.5,676.6 L1494.0,679.0 L1495.5,680.4 L1497.0,680.9 L1498.5,682.2 L1500.0,681.7 L1501.5,680.1 L1503.0,678.0 L1504.5,676.8 L1506.0,676.2 L1507.5,677.1 L1509.0,678.5 L1510.5,677.8 L1512.0,677.0 L1513.5,676.1 L1515.0,674.2 L1516.5,670.7 L1518.0,668.2 L1519.5,666.4 L1521.0,664.6 L1522.5,666.0 L1524.0,669.1 L1525.5,670.1 L1527.0,670.7 L1528.5,671.9 L1530.0,673.3 L1531.5,672.5 L1533.0,671.8 L1534.5,671.1 L1536.0,670.2 L1537.5,671.0 L1539.0,670.5 L1540.5,669.8 L1542.0,668.9 L1543.5,668.8 L1545.0,667.6 L1546.5,665.9 L1548.0,664.9 L1549.5,664.6 L1551.0,665.2 L1552.5,664.3 L1554.0,664.9 L1555.5,663.6 L1557.0,660.5 L1558.5,652.7 L1560.0,646.2 L1561.5,647.8 L1563.0,652.8 L1564.5,656.2 L1566.0,656.7 L1567.5,655.6 L1569.0,654.0 L1570.5,652.3 L1572.0,653.5 L1573.5,652.2 L1575.0,650.2 L1576.5,645.8 L1578.0,643.9 L1579.5,643.1 L1581.0,642.6 L1582.5,641.2 L1584.0,639.6 L1585.5,638.6 L1587.0,638.6 L1588.5,636.0 L1590.0,632.3 L1591.5,627.8 L1593.0,624.2 L1594.5,619.3 L1596.0,614.4 L1597.5,610.2 L1599.0,604.3 L1600.5,595.6 L1602.0,583.6 L1603.5,567.6 L1605.0,543.8 L1606.5,511.2 L1608.0,471.8 L1609.5,430.6 L1611.0,390.7 L1612.5,354.7 L1614.0,322.5 L1615.5,298.1 L1617.0,280.4 L1618.5,271.9 L1620.0,269.3 L1621.5,276.8 L1623.0,290.8 L1624.5,313.6 L1626.0,342.0 L1627.5,375.2 L1629.0,411.3 L1630.5,448.0 L1632.0,481.1 L1633.5,505.1 L1635.0,519.6 L1636.5,526.7 L1638.0,529.3 L1639.5,530.0 L1641.0,531.1 L1642.5,534.6 L1644.0,540.8 L1645.5,550.1 L1647.0,560.4 L1648.5,571.0 L1650.0,583.2 L1651.5,596.4 L1653.0,609.3 L1654.5,620.8 L1656.0,632.4 L1657.5,640.0 L1659.0,645.2 L1660.5,649.8 L1662.0,654.3 L1663.5,655.8 L1665.0,655.8 L1666.5,657.2 L1668.0,657.6 L1669.5,657.5 L1671.0,656.9 L1672.5,656.5 L1674.0,655.7 L1675.5,655.1 L1677.0,655.0 L1678.5,654.4 L1680.0,655.9 L1681.5,657.6 L1683.0,659.0 L1684.5,659.2 L1686.0,662.5 L1687.5,666.2 L1689.0,668.8 L1690.5,669.2 L1692.0,669.7 L1693.5,672.0 L1695.0,675.2 L1696.5,677.1 L1698.0,679.0 L1699.5,681.3 L1701.0,682.8 L1702.5,682.2 L1704.0,682.3 L1705.5,683.8 L1707.0,684.8 L1708.5,684.4 L1710.0,684.4" fill="none" stroke="#e3141e" stroke-width="2.6" stroke-linejoin="round"/>
<rect x="911.3" y="89.2" width="801.0" height="643.1999999999999" fill="none" stroke="#000" stroke-width="2.6"/>
<line x1="911.3" y1="732.4" x2="911.3" y2="722.4" stroke="#000" stroke-width="2.4"/>
<line x1="911.3" y1="89.2" x2="911.3" y2="99.2" stroke="#000" stroke-width="2.4"/>
<text x="911.3" y="774" font-size="36" text-anchor="middle">20</text>
<line x1="978.0" y1="732.4" x2="978.0" y2="726.4" stroke="#000" stroke-width="2.4"/>
<line x1="978.0" y1="89.2" x2="978.0" y2="95.2" stroke="#000" stroke-width="2.4"/>
<line x1="1044.8" y1="732.4" x2="1044.8" y2="722.4" stroke="#000" stroke-width="2.4"/>
<line x1="1044.8" y1="89.2" x2="1044.8" y2="99.2" stroke="#000" stroke-width="2.4"/>
<text x="1044.8" y="774" font-size="36" text-anchor="middle">25</text>
<line x1="1111.5" y1="732.4" x2="1111.5" y2="726.4" stroke="#000" stroke-width="2.4"/>
<line x1="1111.5" y1="89.2" x2="1111.5" y2="95.2" stroke="#000" stroke-width="2.4"/>
<line x1="1178.3" y1="732.4" x2="1178.3" y2="722.4" stroke="#000" stroke-width="2.4"/>
<line x1="1178.3" y1="89.2" x2="1178.3" y2="99.2" stroke="#000" stroke-width="2.4"/>
<text x="1178.3" y="774" font-size="36" text-anchor="middle">30</text>
<line x1="1245.0" y1="732.4" x2="1245.0" y2="726.4" stroke="#000" stroke-width="2.4"/>
<line x1="1245.0" y1="89.2" x2="1245.0" y2="95.2" stroke="#000" stroke-width="2.4"/>
<line x1="1311.8" y1="732.4" x2="1311.8" y2="722.4" stroke="#000" stroke-width="2.4"/>
<line x1="1311.8" y1="89.2" x2="1311.8" y2="99.2" stroke="#000" stroke-width="2.4"/>
<text x="1311.8" y="774" font-size="36" text-anchor="middle">35</text>
<line x1="1378.5" y1="732.4" x2="1378.5" y2="726.4" stroke="#000" stroke-width="2.4"/>
<line x1="1378.5" y1="89.2" x2="1378.5" y2="95.2" stroke="#000" stroke-width="2.4"/>
<line x1="1445.3" y1="732.4" x2="1445.3" y2="722.4" stroke="#000" stroke-width="2.4"/>
<line x1="1445.3" y1="89.2" x2="1445.3" y2="99.2" stroke="#000" stroke-width="2.4"/>
<text x="1445.3" y="774" font-size="36" text-anchor="middle">40</text>
<line x1="1512.0" y1="732.4" x2="1512.0" y2="726.4" stroke="#000" stroke-width="2.4"/>
<line x1="1512.0" y1="89.2" x2="1512.0" y2="95.2" stroke="#000" stroke-width="2.4"/>
<line x1="1578.8" y1="732.4" x2="1578.8" y2="722.4" stroke="#000" stroke-width="2.4"/>
<line x1="1578.8" y1="89.2" x2="1578.8" y2="99.2" stroke="#000" stroke-width="2.4"/>
<text x="1578.8" y="774" font-size="36" text-anchor="middle">45</text>
<line x1="1645.5" y1="732.4" x2="1645.5" y2="726.4" stroke="#000" stroke-width="2.4"/>
<line x1="1645.5" y1="89.2" x2="1645.5" y2="95.2" stroke="#000" stroke-width="2.4"/>
<line x1="1712.3" y1="732.4" x2="1712.3" y2="722.4" stroke="#000" stroke-width="2.4"/>
<line x1="1712.3" y1="89.2" x2="1712.3" y2="99.2" stroke="#000" stroke-width="2.4"/>
<text x="1712.3" y="774" font-size="36" text-anchor="middle">50</text>
<line x1="911.3" y1="667.4" x2="917.3" y2="667.4" stroke="#000" stroke-width="2.4"/>
<line x1="1712.3" y1="667.4" x2="1706.3" y2="667.4" stroke="#000" stroke-width="2.4"/>
<line x1="911.3" y1="627.2" x2="917.3" y2="627.2" stroke="#000" stroke-width="2.4"/>
<line x1="1712.3" y1="627.2" x2="1706.3" y2="627.2" stroke="#000" stroke-width="2.4"/>
<line x1="911.3" y1="598.7" x2="917.3" y2="598.7" stroke="#000" stroke-width="2.4"/>
<line x1="1712.3" y1="598.7" x2="1706.3" y2="598.7" stroke="#000" stroke-width="2.4"/>
<line x1="911.3" y1="576.6" x2="917.3" y2="576.6" stroke="#000" stroke-width="2.4"/>
<line x1="1712.3" y1="576.6" x2="1706.3" y2="576.6" stroke="#000" stroke-width="2.4"/>
<line x1="911.3" y1="558.6" x2="917.3" y2="558.6" stroke="#000" stroke-width="2.4"/>
<line x1="1712.3" y1="558.6" x2="1706.3" y2="558.6" stroke="#000" stroke-width="2.4"/>
<line x1="911.3" y1="543.3" x2="917.3" y2="543.3" stroke="#000" stroke-width="2.4"/>
<line x1="1712.3" y1="543.3" x2="1706.3" y2="543.3" stroke="#000" stroke-width="2.4"/>
<line x1="911.3" y1="530.1" x2="917.3" y2="530.1" stroke="#000" stroke-width="2.4"/>
<line x1="1712.3" y1="530.1" x2="1706.3" y2="530.1" stroke="#000" stroke-width="2.4"/>
<line x1="911.3" y1="518.4" x2="917.3" y2="518.4" stroke="#000" stroke-width="2.4"/>
<line x1="1712.3" y1="518.4" x2="1706.3" y2="518.4" stroke="#000" stroke-width="2.4"/>
<line x1="911.3" y1="508.0" x2="921.3" y2="508.0" stroke="#000" stroke-width="2.4"/>
<line x1="1712.3" y1="508.0" x2="1702.3" y2="508.0" stroke="#000" stroke-width="2.4"/>
<line x1="911.3" y1="439.4" x2="917.3" y2="439.4" stroke="#000" stroke-width="2.4"/>
<line x1="1712.3" y1="439.4" x2="1706.3" y2="439.4" stroke="#000" stroke-width="2.4"/>
<line x1="911.3" y1="399.2" x2="917.3" y2="399.2" stroke="#000" stroke-width="2.4"/>
<line x1="1712.3" y1="399.2" x2="1706.3" y2="399.2" stroke="#000" stroke-width="2.4"/>
<line x1="911.3" y1="370.7" x2="917.3" y2="370.7" stroke="#000" stroke-width="2.4"/>
<line x1="1712.3" y1="370.7" x2="1706.3" y2="370.7" stroke="#000" stroke-width="2.4"/>
<line x1="911.3" y1="348.6" x2="917.3" y2="348.6" stroke="#000" stroke-width="2.4"/>
<line x1="1712.3" y1="348.6" x2="1706.3" y2="348.6" stroke="#000" stroke-width="2.4"/>
<line x1="911.3" y1="330.6" x2="917.3" y2="330.6" stroke="#000" stroke-width="2.4"/>
<line x1="1712.3" y1="330.6" x2="1706.3" y2="330.6" stroke="#000" stroke-width="2.4"/>
<line x1="911.3" y1="315.3" x2="917.3" y2="315.3" stroke="#000" stroke-width="2.4"/>
<line x1="1712.3" y1="315.3" x2="1706.3" y2="315.3" stroke="#000" stroke-width="2.4"/>
<line x1="911.3" y1="302.1" x2="917.3" y2="302.1" stroke="#000" stroke-width="2.4"/>
<line x1="1712.3" y1="302.1" x2="1706.3" y2="302.1" stroke="#000" stroke-width="2.4"/>
<line x1="911.3" y1="290.4" x2="917.3" y2="290.4" stroke="#000" stroke-width="2.4"/>
<line x1="1712.3" y1="290.4" x2="1706.3" y2="290.4" stroke="#000" stroke-width="2.4"/>
<line x1="911.3" y1="280.0" x2="921.3" y2="280.0" stroke="#000" stroke-width="2.4"/>
<line x1="1712.3" y1="280.0" x2="1702.3" y2="280.0" stroke="#000" stroke-width="2.4"/>
<line x1="911.3" y1="211.4" x2="917.3" y2="211.4" stroke="#000" stroke-width="2.4"/>
<line x1="1712.3" y1="211.4" x2="1706.3" y2="211.4" stroke="#000" stroke-width="2.4"/>
<line x1="911.3" y1="171.2" x2="917.3" y2="171.2" stroke="#000" stroke-width="2.4"/>
<line x1="1712.3" y1="171.2" x2="1706.3" y2="171.2" stroke="#000" stroke-width="2.4"/>
<line x1="911.3" y1="142.7" x2="917.3" y2="142.7" stroke="#000" stroke-width="2.4"/>
<line x1="1712.3" y1="142.7" x2="1706.3" y2="142.7" stroke="#000" stroke-width="2.4"/>
<line x1="911.3" y1="120.6" x2="917.3" y2="120.6" stroke="#000" stroke-width="2.4"/>
<line x1="1712.3" y1="120.6" x2="1706.3" y2="120.6" stroke="#000" stroke-width="2.4"/>
<line x1="911.3" y1="102.6" x2="917.3" y2="102.6" stroke="#000" stroke-width="2.4"/>
<line x1="1712.3" y1="102.6" x2="1706.3" y2="102.6" stroke="#000" stroke-width="2.4"/>
<text x="1266" y="818" font-size="44">2<tspan font-family="'Liberation Serif', serif" font-size="46">θ</tspan> / º</text>
<text transform="translate(888.5,399) rotate(-90)" font-size="43.5" text-anchor="middle"><tspan font-style="italic">Intensity</tspan> / a.u.</text>
<text x="847.5" y="40.5" font-size="38.5">(e)</text>
<path d="M920.4,51.2 L927.5,60.4 L920.4,69.6 L913.3,60.4 Z" fill="#27b56a"/>
<text x="937.5" y="70" font-size="32" fill="#27b56a">Y221</text>
<path d="M1029.3,42.9 L1042.2,49.3 L1029.3,55.7 Z" fill="#f5a9b2"/>
<text x="1053.5" y="70" font-size="33.5" fill="#f5a9b2">BaCuO<tspan font-size="24" dy="5">2</tspan></text>
<path d="M1203,43.3 L1210.8,58.4 L1195,58.4 Z" fill="#d4a312"/>
<text x="1222" y="71" font-size="32.5" fill="#d4a312">Y225</text>
<circle cx="1325.5" cy="58.7" r="4.6" fill="#3b5a5c"/>
<text x="1341" y="71" font-size="32.5" fill="#3b5a5c">CuO</text>
<path d="M1087.5,524.8 L1100.5,531.3 L1087.5,537.8 Z" fill="#f5a9b2"/>
<path d="M1113.2,514.1 L1126.2,520.6 L1113.2,527.1 Z" fill="#f5a9b2"/>
<path d="M1137.9,525.9 L1150.9,532.4 L1137.9,538.9 Z" fill="#f5a9b2"/>
<path d="M1149.7,531.2 L1162.7,537.7 L1149.7,544.2 Z" fill="#f5a9b2"/>
<path d="M1175.5,514.2 L1181.1,521.2 L1175.5,528.2 L1169.9,521.2 Z" fill="#27b56a"/>
<path d="M1228.9,527.6 L1234.5,534.6 L1228.9,541.6 L1223.3000000000002,534.6 Z" fill="#27b56a"/>
<path d="M1261.3,521 L1266.8999999999999,528 L1261.3,535 L1255.7,528 Z" fill="#27b56a"/>
<path d="M1465.6,525.7 L1471.1999999999998,532.7 L1465.6,539.7 L1460.0,532.7 Z" fill="#27b56a"/>
<path d="M1218,496 L1224,507 L1212,507 Z" fill="#d9a21b"/>
<circle cx="1325.3" cy="519.4" r="4.3" fill="#3e5e60"/>
<circle cx="1425" cy="523.4" r="4.3" fill="#3e5e60"/>
<text transform="translate(975,263) rotate(-90)" font-size="31" fill="#000">(001)STO</text>
<text transform="translate(1012.5,263) rotate(-90)" font-size="31" fill="#f5861f">(010)LMO</text>
<text transform="translate(1077,529.5) rotate(-90)" font-size="31" fill="#000">Ba<tspan font-size="20" dy="6">2</tspan><tspan dy="-6">Cu</tspan><tspan font-size="20" dy="6">3</tspan><tspan dy="-6">O</tspan><tspan font-size="20" dy="6">6</tspan></text>
<text transform="translate(1199,481) rotate(-90)" font-size="31" fill="#1f8a2a">(004)YBCO</text>
<text transform="translate(1259,491.5) rotate(-90)" font-size="31" fill="#f2737d">(103)YBCO</text>
<text x="1314.5" y="316" font-size="31" fill="#1f8a2a">(005)YBCO</text>
<text x="1478" y="517" font-size="30">Kβ</text>
<text transform="translate(1533,664) rotate(-90)" font-size="30.4" fill="#000">(111)Cu</text>
<text transform="translate(1575,512) rotate(-90)" font-size="31" fill="#000">W source</text>
<text x="1566.5" y="132" font-size="31.4">(002)STO</text>
<text transform="translate(1663,345) rotate(-90)" font-size="31" fill="#f5861f">(020)LMO</text>
<text x="1724" y="559" font-size="31" fill="#3b6aa3">840 ºC</text>
<text x="1724" y="597" font-size="31" fill="#3b6aa3">2.1 mbar</text>
<text x="1722" y="679" font-size="31" fill="#e3141e">825 ºC</text>
<text x="1724" y="715" font-size="31" fill="#e3141e">1 mbar</text>
</svg>
</body></html>
